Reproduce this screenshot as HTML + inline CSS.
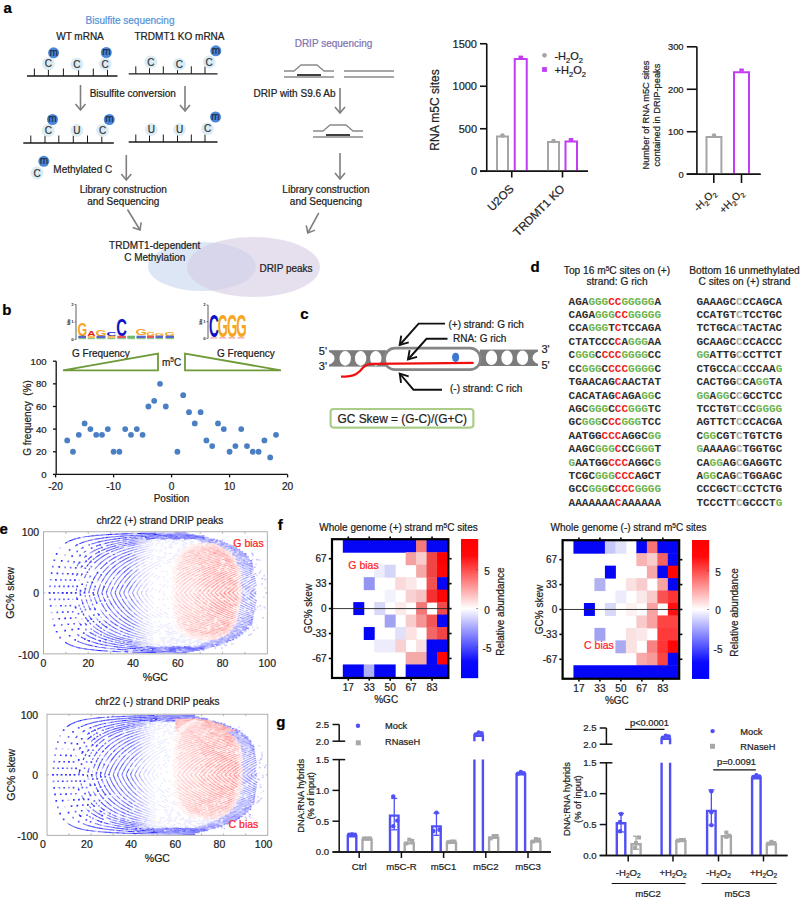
<!DOCTYPE html>
<html><head><meta charset="utf-8"><style>
html,body{margin:0;padding:0;background:#fff;width:800px;height:900px;overflow:hidden}
svg{display:block}

</style></head><body>
<svg width="800" height="900" viewBox="0 0 800 900">
<rect width="800" height="900" fill="#fff"/>
<text x="3.5" y="12.8" font-size="15" text-anchor="start" fill="#000" font-weight="bold" font-family='"Liberation Sans", sans-serif' stroke="#000" stroke-width="0.22" >a</text>
<text x="130" y="24.3" font-size="10" text-anchor="middle" fill="#5594d8" font-weight="normal" font-family='"Liberation Sans", sans-serif' stroke="#5594d8" stroke-width="0.22" >Bisulfite sequencing</text>
<text x="80" y="40" font-size="10" text-anchor="middle" fill="#222" font-weight="normal" font-family='"Liberation Sans", sans-serif' stroke="#222" stroke-width="0.22" >WT mRNA</text>
<text x="179.5" y="40" font-size="10" text-anchor="middle" fill="#222" font-weight="normal" font-family='"Liberation Sans", sans-serif' stroke="#222" stroke-width="0.22" >TRDMT1 KO mRNA</text>
<line x1="27" y1="76" x2="117.5" y2="76" stroke="#1a1a1a" stroke-width="1.3" />
<line x1="34.4" y1="76" x2="34.4" y2="68.5" stroke="#1a1a1a" stroke-width="1" />
<line x1="48.4" y1="76" x2="48.4" y2="68.5" stroke="#1a1a1a" stroke-width="1" />
<line x1="63.4" y1="76" x2="63.4" y2="68.5" stroke="#1a1a1a" stroke-width="1" />
<line x1="78.6" y1="76" x2="78.6" y2="68.5" stroke="#1a1a1a" stroke-width="1" />
<line x1="93.3" y1="76" x2="93.3" y2="68.5" stroke="#1a1a1a" stroke-width="1" />
<line x1="107.5" y1="76" x2="107.5" y2="68.5" stroke="#1a1a1a" stroke-width="1" />
<circle cx="48.4" cy="63.6" r="6.4" fill="#dbecf5" />
<text x="48.4" y="67.1" font-size="10" text-anchor="middle" fill="#333" font-weight="normal" font-family='"Liberation Sans", sans-serif' stroke="#333" stroke-width="0.22" >C</text>
<circle cx="76.9" cy="64.2" r="6.4" fill="#dbecf5" />
<text x="76.9" y="67.7" font-size="10" text-anchor="middle" fill="#333" font-weight="normal" font-family='"Liberation Sans", sans-serif' stroke="#333" stroke-width="0.22" >C</text>
<circle cx="105.2" cy="64" r="6.4" fill="#dbecf5" />
<text x="105.2" y="67.5" font-size="10" text-anchor="middle" fill="#333" font-weight="normal" font-family='"Liberation Sans", sans-serif' stroke="#333" stroke-width="0.22" >C</text>
<circle cx="53.6" cy="52.8" r="5.5" fill="#4a86d8" />
<text x="53.6" y="55.599999999999994" font-size="10" text-anchor="middle" fill="#1b2a45" font-weight="normal" font-family='"Liberation Sans", sans-serif' stroke="#1b2a45" stroke-width="0.22" >m</text>
<circle cx="106.3" cy="52.5" r="5.5" fill="#4a86d8" />
<text x="106.3" y="55.3" font-size="10" text-anchor="middle" fill="#1b2a45" font-weight="normal" font-family='"Liberation Sans", sans-serif' stroke="#1b2a45" stroke-width="0.22" >m</text>
<line x1="128.7" y1="73.8" x2="217.5" y2="73.8" stroke="#1a1a1a" stroke-width="1.3" />
<line x1="135.8" y1="73.8" x2="135.8" y2="66.3" stroke="#1a1a1a" stroke-width="1" />
<line x1="149.5" y1="73.8" x2="149.5" y2="66.3" stroke="#1a1a1a" stroke-width="1" />
<line x1="163.3" y1="73.8" x2="163.3" y2="66.3" stroke="#1a1a1a" stroke-width="1" />
<line x1="177.5" y1="73.8" x2="177.5" y2="66.3" stroke="#1a1a1a" stroke-width="1" />
<line x1="191.3" y1="73.8" x2="191.3" y2="66.3" stroke="#1a1a1a" stroke-width="1" />
<line x1="205" y1="73.8" x2="205" y2="66.3" stroke="#1a1a1a" stroke-width="1" />
<circle cx="150.8" cy="62" r="6.4" fill="#dbecf5" />
<text x="150.8" y="65.5" font-size="10" text-anchor="middle" fill="#333" font-weight="normal" font-family='"Liberation Sans", sans-serif' stroke="#333" stroke-width="0.22" >C</text>
<circle cx="179.3" cy="64.2" r="6.4" fill="#dbecf5" />
<text x="179.3" y="67.7" font-size="10" text-anchor="middle" fill="#333" font-weight="normal" font-family='"Liberation Sans", sans-serif' stroke="#333" stroke-width="0.22" >C</text>
<circle cx="209.2" cy="62" r="6.4" fill="#dbecf5" />
<text x="209.2" y="65.5" font-size="10" text-anchor="middle" fill="#333" font-weight="normal" font-family='"Liberation Sans", sans-serif' stroke="#333" stroke-width="0.22" >C</text>
<circle cx="215.8" cy="50.8" r="5.5" fill="#4a86d8" />
<text x="215.8" y="53.599999999999994" font-size="10" text-anchor="middle" fill="#1b2a45" font-weight="normal" font-family='"Liberation Sans", sans-serif' stroke="#1b2a45" stroke-width="0.22" >m</text>
<line x1="80.5" y1="85" x2="80.5" y2="110" stroke="#7f7f7f" stroke-width="1.6" />
<path d="M75.5,104 L80.5,110 L85.5,104" stroke="#7f7f7f" stroke-width="1.6" fill="none" stroke-linejoin="miter"/>
<line x1="185" y1="86" x2="185" y2="111" stroke="#7f7f7f" stroke-width="1.6" />
<path d="M180,105 L185,111 L190,105" stroke="#7f7f7f" stroke-width="1.6" fill="none" stroke-linejoin="miter"/>
<text x="132.75" y="97" font-size="10" text-anchor="middle" fill="#222" font-weight="normal" font-family='"Liberation Sans", sans-serif' stroke="#222" stroke-width="0.22" >Bisulfite conversion</text>
<line x1="23.3" y1="143" x2="113.8" y2="143" stroke="#1a1a1a" stroke-width="1.3" />
<line x1="30.8" y1="143" x2="30.8" y2="135.5" stroke="#1a1a1a" stroke-width="1" />
<line x1="45" y1="143" x2="45" y2="135.5" stroke="#1a1a1a" stroke-width="1" />
<line x1="58.8" y1="143" x2="58.8" y2="135.5" stroke="#1a1a1a" stroke-width="1" />
<line x1="73.3" y1="143" x2="73.3" y2="135.5" stroke="#1a1a1a" stroke-width="1" />
<line x1="87.5" y1="143" x2="87.5" y2="135.5" stroke="#1a1a1a" stroke-width="1" />
<line x1="101.8" y1="143" x2="101.8" y2="135.5" stroke="#1a1a1a" stroke-width="1" />
<circle cx="48.3" cy="130.5" r="6.4" fill="#dbecf5" />
<text x="48.3" y="134.0" font-size="10" text-anchor="middle" fill="#333" font-weight="normal" font-family='"Liberation Sans", sans-serif' stroke="#333" stroke-width="0.22" >C</text>
<circle cx="76.8" cy="130.5" r="6.4" fill="#dbecf5" />
<text x="76.8" y="134.0" font-size="10" text-anchor="middle" fill="#333" font-weight="normal" font-family='"Liberation Sans", sans-serif' stroke="#333" stroke-width="0.22" >U</text>
<circle cx="102.5" cy="130.5" r="6.4" fill="#dbecf5" />
<text x="102.5" y="134.0" font-size="10" text-anchor="middle" fill="#333" font-weight="normal" font-family='"Liberation Sans", sans-serif' stroke="#333" stroke-width="0.22" >C</text>
<circle cx="52.5" cy="119.5" r="5.5" fill="#4a86d8" />
<text x="52.5" y="122.3" font-size="10" text-anchor="middle" fill="#1b2a45" font-weight="normal" font-family='"Liberation Sans", sans-serif' stroke="#1b2a45" stroke-width="0.22" >m</text>
<circle cx="109.3" cy="119.5" r="5.5" fill="#4a86d8" />
<text x="109.3" y="122.3" font-size="10" text-anchor="middle" fill="#1b2a45" font-weight="normal" font-family='"Liberation Sans", sans-serif' stroke="#1b2a45" stroke-width="0.22" >m</text>
<line x1="128.7" y1="142" x2="217.5" y2="142" stroke="#1a1a1a" stroke-width="1.3" />
<line x1="135.8" y1="142" x2="135.8" y2="134.5" stroke="#1a1a1a" stroke-width="1" />
<line x1="149.5" y1="142" x2="149.5" y2="134.5" stroke="#1a1a1a" stroke-width="1" />
<line x1="163.3" y1="142" x2="163.3" y2="134.5" stroke="#1a1a1a" stroke-width="1" />
<line x1="177.5" y1="142" x2="177.5" y2="134.5" stroke="#1a1a1a" stroke-width="1" />
<line x1="191.3" y1="142" x2="191.3" y2="134.5" stroke="#1a1a1a" stroke-width="1" />
<line x1="205" y1="142" x2="205" y2="134.5" stroke="#1a1a1a" stroke-width="1" />
<circle cx="151.3" cy="129.5" r="6.4" fill="#dbecf5" />
<text x="151.3" y="133.0" font-size="10" text-anchor="middle" fill="#333" font-weight="normal" font-family='"Liberation Sans", sans-serif' stroke="#333" stroke-width="0.22" >U</text>
<circle cx="179.5" cy="129.5" r="6.4" fill="#dbecf5" />
<text x="179.5" y="133.0" font-size="10" text-anchor="middle" fill="#333" font-weight="normal" font-family='"Liberation Sans", sans-serif' stroke="#333" stroke-width="0.22" >U</text>
<circle cx="207.5" cy="128.8" r="6.4" fill="#dbecf5" />
<text x="207.5" y="132.3" font-size="10" text-anchor="middle" fill="#333" font-weight="normal" font-family='"Liberation Sans", sans-serif' stroke="#333" stroke-width="0.22" >C</text>
<circle cx="215.5" cy="117" r="5.5" fill="#4a86d8" />
<text x="215.5" y="119.8" font-size="10" text-anchor="middle" fill="#1b2a45" font-weight="normal" font-family='"Liberation Sans", sans-serif' stroke="#1b2a45" stroke-width="0.22" >m</text>
<circle cx="37" cy="173" r="6.4" fill="#dbecf5" />
<text x="37" y="176.5" font-size="10" text-anchor="middle" fill="#333" font-weight="normal" font-family='"Liberation Sans", sans-serif' stroke="#333" stroke-width="0.22" >C</text>
<circle cx="43.8" cy="161.3" r="5.5" fill="#4a86d8" />
<text x="43.8" y="164.10000000000002" font-size="10" text-anchor="middle" fill="#1b2a45" font-weight="normal" font-family='"Liberation Sans", sans-serif' stroke="#1b2a45" stroke-width="0.22" >m</text>
<text x="53.3" y="173" font-size="10" text-anchor="start" fill="#222" font-weight="normal" font-family='"Liberation Sans", sans-serif' stroke="#222" stroke-width="0.22" >Methylated C</text>
<line x1="126.3" y1="155" x2="126.3" y2="180" stroke="#7f7f7f" stroke-width="1.6" />
<path d="M121.3,174 L126.3,180 L131.3,174" stroke="#7f7f7f" stroke-width="1.6" fill="none" stroke-linejoin="miter"/>
<text x="123.3" y="192.5" font-size="10" text-anchor="middle" fill="#222" font-weight="normal" font-family='"Liberation Sans", sans-serif' stroke="#222" stroke-width="0.22" >Library construction</text>
<text x="123.3" y="204.5" font-size="10" text-anchor="middle" fill="#222" font-weight="normal" font-family='"Liberation Sans", sans-serif' stroke="#222" stroke-width="0.22" >and Sequencing</text>
<line x1="127.5" y1="209.5" x2="140" y2="230" stroke="#7f7f7f" stroke-width="1.6" />
<path d="M132.61,227.48 L140,230 L141.15,222.27" stroke="#7f7f7f" stroke-width="1.6" fill="none" />
<ellipse cx="202" cy="266.5" rx="54" ry="24.5" fill="#c9d8ee" fill-opacity="0.65"/>
<ellipse cx="253.5" cy="267" rx="66.5" ry="30" fill="#d6cbe2" fill-opacity="0.6"/>
<text x="154.7" y="249.3" font-size="10" text-anchor="middle" fill="#222" font-weight="normal" font-family='"Liberation Sans", sans-serif' stroke="#222" stroke-width="0.22" >TRDMT1-dependent</text>
<text x="154.7" y="260.5" font-size="10" text-anchor="middle" fill="#222" font-weight="normal" font-family='"Liberation Sans", sans-serif' stroke="#222" stroke-width="0.22" >C Methylation</text>
<text x="286" y="272" font-size="10" text-anchor="middle" fill="#222" font-weight="normal" font-family='"Liberation Sans", sans-serif' stroke="#222" stroke-width="0.22" >DRIP peaks</text>
<text x="333.5" y="46.5" font-size="10" text-anchor="middle" fill="#8174b0" font-weight="normal" font-family='"Liberation Sans", sans-serif' stroke="#8174b0" stroke-width="0.22" >DRIP sequencing</text>
<line x1="284" y1="77" x2="334" y2="77" stroke="#8a8a8a" stroke-width="1.3" />
<path d="M284,71 L294,71 L301,65 L317,65 L324,71 L334,71" stroke="#8a8a8a" stroke-width="1.3" fill="none" />
<line x1="297" y1="75" x2="321" y2="75" stroke="#111" stroke-width="1.6" />
<line x1="344" y1="71" x2="394" y2="71" stroke="#8a8a8a" stroke-width="1.3" />
<line x1="344" y1="77" x2="394" y2="77" stroke="#8a8a8a" stroke-width="1.3" />
<text x="335.5" y="97" font-size="10" text-anchor="end" fill="#222" font-weight="normal" font-family='"Liberation Sans", sans-serif' stroke="#222" stroke-width="0.22" >DRIP with S9.6 Ab</text>
<line x1="340" y1="88" x2="340" y2="113" stroke="#7f7f7f" stroke-width="1.6" />
<path d="M335,107 L340,113 L345,107" stroke="#7f7f7f" stroke-width="1.6" fill="none" stroke-linejoin="miter"/>
<line x1="313" y1="137" x2="363" y2="137" stroke="#8a8a8a" stroke-width="1.3" />
<path d="M313,131 L323,131 L330,125 L346,125 L353,131 L363,131" stroke="#8a8a8a" stroke-width="1.3" fill="none" />
<line x1="326" y1="135" x2="350" y2="135" stroke="#111" stroke-width="1.6" />
<line x1="340" y1="153" x2="340" y2="179" stroke="#7f7f7f" stroke-width="1.6" />
<path d="M335,173 L340,179 L345,173" stroke="#7f7f7f" stroke-width="1.6" fill="none" stroke-linejoin="miter"/>
<text x="326" y="192.5" font-size="10" text-anchor="middle" fill="#222" font-weight="normal" font-family='"Liberation Sans", sans-serif' stroke="#222" stroke-width="0.22" >Library construction</text>
<text x="326" y="204.5" font-size="10" text-anchor="middle" fill="#222" font-weight="normal" font-family='"Liberation Sans", sans-serif' stroke="#222" stroke-width="0.22" >and Sequencing</text>
<line x1="318.8" y1="212.8" x2="307.8" y2="233" stroke="#7f7f7f" stroke-width="1.6" />
<path d="M306.28,225.34 L307.8,233 L315.06,230.12" stroke="#7f7f7f" stroke-width="1.6" fill="none" />
<line x1="486.75" y1="43.75" x2="486.75" y2="171.25" stroke="#111" stroke-width="1.6" />
<line x1="480" y1="171.25" x2="588" y2="171.25" stroke="#111" stroke-width="1.6" />
<line x1="480" y1="171.25" x2="486.75" y2="171.25" stroke="#111" stroke-width="1.6" />
<text x="477" y="175.25" font-size="11" text-anchor="end" fill="#222" font-weight="normal" font-family='"Liberation Sans", sans-serif' stroke="#222" stroke-width="0.22" >0</text>
<line x1="480" y1="128.75" x2="486.75" y2="128.75" stroke="#111" stroke-width="1.6" />
<text x="477" y="132.75" font-size="11" text-anchor="end" fill="#222" font-weight="normal" font-family='"Liberation Sans", sans-serif' stroke="#222" stroke-width="0.22" >500</text>
<line x1="480" y1="86.25" x2="486.75" y2="86.25" stroke="#111" stroke-width="1.6" />
<text x="477" y="90.25" font-size="11" text-anchor="end" fill="#222" font-weight="normal" font-family='"Liberation Sans", sans-serif' stroke="#222" stroke-width="0.22" >1000</text>
<line x1="480" y1="43.75" x2="486.75" y2="43.75" stroke="#111" stroke-width="1.6" />
<text x="477" y="47.75" font-size="11" text-anchor="end" fill="#222" font-weight="normal" font-family='"Liberation Sans", sans-serif' stroke="#222" stroke-width="0.22" >1500</text>
<line x1="511.75" y1="171.25" x2="511.75" y2="177.5" stroke="#111" stroke-width="1.6" />
<line x1="562.5" y1="171.25" x2="562.5" y2="177.5" stroke="#111" stroke-width="1.6" />
<path d="M497.0,171.25 L497.0,136.5 L508.0,136.5 L508.0,171.25" stroke="#a5a5a5" stroke-width="2" fill="none" stroke-linejoin="miter"/>
<path d="M514.75,171.25 L514.75,58.9 L526.75,58.9 L526.75,171.25" stroke="#c13cf2" stroke-width="2" fill="none" stroke-linejoin="miter"/>
<path d="M548.0,171.25 L548.0,142.0 L559.0,142.0 L559.0,171.25" stroke="#a5a5a5" stroke-width="2" fill="none" stroke-linejoin="miter"/>
<path d="M565.5,171.25 L565.5,141.5 L577.0,141.5 L577.0,171.25" stroke="#c13cf2" stroke-width="2" fill="none" stroke-linejoin="miter"/>
<circle cx="502.5" cy="135.5" r="2.3" fill="#a5a5a5" />
<rect x="518.5" y="55.6" width="4.5" height="2.5" fill="#c13cf2" stroke="none" stroke-width="1" />
<circle cx="553.5" cy="141" r="2.3" fill="#a5a5a5" />
<rect x="568.8" y="138" width="4.5" height="3" fill="#c13cf2" stroke="none" stroke-width="1" />
<line x1="480" y1="171.25" x2="588" y2="171.25" stroke="#111" stroke-width="1.6" />
<text x="438.5" y="110" font-size="12" text-anchor="middle" fill="#222" font-weight="normal" font-family='"Liberation Sans", sans-serif' transform="rotate(-90 438.5 110)" stroke="#222" stroke-width="0.22" >RNA m5C sites</text>
<circle cx="544.5" cy="55.35" r="2.3" fill="#a5a5a5" />
<rect x="542.1" y="67.1" width="4.8" height="4.8" fill="#c13cf2" stroke="none" stroke-width="1" />
<text x="554.4" y="59.6" font-size="11" text-anchor="start" fill="#222" font-weight="normal" font-family='"Liberation Sans", sans-serif' stroke="#222" stroke-width="0.22" >-H<tspan font-size="7.5" dy="3.1">2</tspan><tspan dy="-3.1">O</tspan><tspan font-size="7.5" dy="3.1">2</tspan></text>
<text x="554.6" y="73.9" font-size="11" text-anchor="start" fill="#222" font-weight="normal" font-family='"Liberation Sans", sans-serif' stroke="#222" stroke-width="0.22" >+H<tspan font-size="7.5" dy="3.1">2</tspan><tspan dy="-3.1">O</tspan><tspan font-size="7.5" dy="3.1">2</tspan></text>
<text x="514.5" y="189.5" font-size="11.6" text-anchor="end" fill="#222" font-weight="normal" font-family='"Liberation Sans", sans-serif' transform="rotate(-45 514.5 189.5)" stroke="#222" stroke-width="0.22" >U2OS</text>
<text x="565.5" y="189.5" font-size="11.6" text-anchor="end" fill="#222" font-weight="normal" font-family='"Liberation Sans", sans-serif' transform="rotate(-45 565.5 189.5)" stroke="#222" stroke-width="0.22" >TRDMT1 KO</text>
<line x1="696.9" y1="46.8" x2="696.9" y2="174.2" stroke="#111" stroke-width="1.6" />
<line x1="686.8" y1="174.2" x2="760.6" y2="174.2" stroke="#111" stroke-width="1.6" />
<line x1="686.8" y1="174.2" x2="696.9" y2="174.2" stroke="#111" stroke-width="1.6" />
<text x="683.6" y="177.6" font-size="9.4" text-anchor="end" fill="#222" font-weight="normal" font-family='"Liberation Sans", sans-serif' stroke="#222" stroke-width="0.22" >0</text>
<line x1="686.8" y1="131.73333333333332" x2="696.9" y2="131.73333333333332" stroke="#111" stroke-width="1.6" />
<text x="683.6" y="135.13333333333333" font-size="9.4" text-anchor="end" fill="#222" font-weight="normal" font-family='"Liberation Sans", sans-serif' stroke="#222" stroke-width="0.22" >100</text>
<line x1="686.8" y1="89.26666666666665" x2="696.9" y2="89.26666666666665" stroke="#111" stroke-width="1.6" />
<text x="683.6" y="92.66666666666666" font-size="9.4" text-anchor="end" fill="#222" font-weight="normal" font-family='"Liberation Sans", sans-serif' stroke="#222" stroke-width="0.22" >200</text>
<line x1="686.8" y1="46.79999999999998" x2="696.9" y2="46.79999999999998" stroke="#111" stroke-width="1.6" />
<text x="683.6" y="50.19999999999998" font-size="9.4" text-anchor="end" fill="#222" font-weight="normal" font-family='"Liberation Sans", sans-serif' stroke="#222" stroke-width="0.22" >300</text>
<line x1="713.8" y1="174.2" x2="713.8" y2="183" stroke="#111" stroke-width="1.6" />
<line x1="741.5" y1="174.2" x2="741.5" y2="183" stroke="#111" stroke-width="1.6" />
<path d="M706.5,174.2 L706.5,137.0 L721.4,137.0 L721.4,174.2" stroke="#a5a5a5" stroke-width="2" fill="none" stroke-linejoin="miter"/>
<path d="M734.0,174.2 L734.0,72.3 L749.0,72.3 L749.0,174.2" stroke="#c13cf2" stroke-width="2" fill="none" stroke-linejoin="miter"/>
<circle cx="714" cy="135.5" r="2.2" fill="#a5a5a5" />
<rect x="739.3" y="68.5" width="4.5" height="3" fill="#c13cf2" stroke="none" stroke-width="1" />
<line x1="686.8" y1="174.2" x2="760.6" y2="174.2" stroke="#111" stroke-width="1.6" />
<text x="648.7" y="115" font-size="9.3" text-anchor="middle" fill="#222" font-weight="normal" font-family='"Liberation Sans", sans-serif' transform="rotate(-90 648.7 115)" stroke="#222" stroke-width="0.22" >Number of RNA m5C sites</text>
<text x="659.5" y="115" font-size="9.3" text-anchor="middle" fill="#222" font-weight="normal" font-family='"Liberation Sans", sans-serif' transform="rotate(-90 659.5 115)" stroke="#222" stroke-width="0.22" >contained in DRIP-peaks</text>
<text x="716.3" y="193.5" font-size="10.2" text-anchor="end" fill="#222" font-weight="normal" font-family='"Liberation Sans", sans-serif' transform="rotate(-45 716.3 193.5)" stroke="#222" stroke-width="0.22" >-H<tspan font-size="6.9" dy="2.9">2</tspan><tspan dy="-2.9">O</tspan><tspan font-size="6.9" dy="2.9">2</tspan></text>
<text x="744" y="193.5" font-size="10.2" text-anchor="end" fill="#222" font-weight="normal" font-family='"Liberation Sans", sans-serif' transform="rotate(-45 744 193.5)" stroke="#222" stroke-width="0.22" >+H<tspan font-size="6.9" dy="2.9">2</tspan><tspan dy="-2.9">O</tspan><tspan font-size="6.9" dy="2.9">2</tspan></text>
<text x="2.2" y="315" font-size="15" text-anchor="start" fill="#000" font-weight="bold" font-family='"Liberation Sans", sans-serif' stroke="#000" stroke-width="0.22" >b</text>
<line x1="76" y1="304.5" x2="76" y2="339.5" stroke="#333" stroke-width="0.8" />
<line x1="74.5" y1="304.5" x2="76" y2="304.5" stroke="#333" stroke-width="0.6" />
<text x="73.5" y="305.7" font-size="3.5" text-anchor="end" fill="#333" font-weight="normal" font-family='"Liberation Sans", sans-serif' stroke="#333" stroke-width="0.22" >2</text>
<line x1="74.5" y1="322" x2="76" y2="322" stroke="#333" stroke-width="0.6" />
<text x="73.5" y="323.2" font-size="3.5" text-anchor="end" fill="#333" font-weight="normal" font-family='"Liberation Sans", sans-serif' stroke="#333" stroke-width="0.22" >1</text>
<line x1="74.5" y1="339.5" x2="76" y2="339.5" stroke="#333" stroke-width="0.6" />
<text x="73.5" y="340.7" font-size="3.5" text-anchor="end" fill="#333" font-weight="normal" font-family='"Liberation Sans", sans-serif' stroke="#333" stroke-width="0.22" >0</text>
<text x="70" y="322" font-size="3.5" text-anchor="middle" fill="#333" font-weight="normal" font-family='"Liberation Sans", sans-serif' transform="rotate(-90 70 322)" stroke="#333" stroke-width="0.22" >bits</text>
<text transform="translate(77.80 335.50) scale(0.1243 0.1824)" x="-3" y="0" font-size="100" font-weight="bold" font-family='"Liberation Sans", sans-serif' fill="#f5a623">G</text>
<text transform="translate(87.20 335.50) scale(0.1139 0.0694)" x="0" y="0" font-size="100" font-weight="bold" font-family='"Liberation Sans", sans-serif' fill="#e02020">A</text>
<text transform="translate(96.00 335.50) scale(0.1429 0.0946)" x="-3" y="0" font-size="100" font-weight="bold" font-family='"Liberation Sans", sans-serif' fill="#f5a623">G</text>
<text transform="translate(106.90 335.50) scale(0.1369 0.0608)" x="-3" y="0" font-size="100" font-weight="bold" font-family='"Liberation Sans", sans-serif' fill="#1010c8">C</text>
<text transform="translate(116.80 335.50) scale(0.1477 0.2378)" x="-3" y="0" font-size="100" font-weight="bold" font-family='"Liberation Sans", sans-serif' fill="#1010c8">C</text>
<text transform="translate(136.00 335.30) scale(0.1457 0.0959)" x="-3" y="0" font-size="100" font-weight="bold" font-family='"Liberation Sans", sans-serif' fill="#f5a623">G</text>
<text transform="translate(146.50 335.50) scale(0.1143 0.0473)" x="-3" y="0" font-size="100" font-weight="bold" font-family='"Liberation Sans", sans-serif' fill="#f5a623">G</text>
<text transform="translate(155.00 335.50) scale(0.1214 0.0405)" x="-3" y="0" font-size="100" font-weight="bold" font-family='"Liberation Sans", sans-serif' fill="#f5a623">G</text>
<text transform="translate(165.00 335.50) scale(0.1357 0.0541)" x="-3" y="0" font-size="100" font-weight="bold" font-family='"Liberation Sans", sans-serif' fill="#f5a623">G</text>
<rect x="78.3" y="335.7" width="7.700000000000003" height="2.3" fill="#2030c0" stroke="none" stroke-width="1" opacity="0.75"/>
<rect x="78.3" y="338" width="7.700000000000003" height="1.2" fill="#40a040" stroke="none" stroke-width="1" opacity="0.6"/>
<rect x="87.7" y="335.7" width="7.200000000000003" height="2.3" fill="#f5a623" stroke="none" stroke-width="1" opacity="0.75"/>
<rect x="87.7" y="338" width="7.200000000000003" height="1.2" fill="#40a040" stroke="none" stroke-width="1" opacity="0.6"/>
<rect x="96.5" y="335.7" width="9" height="2.3" fill="#2030c0" stroke="none" stroke-width="1" opacity="0.75"/>
<rect x="96.5" y="338" width="9" height="1.2" fill="#40a040" stroke="none" stroke-width="1" opacity="0.6"/>
<rect x="107.4" y="335.7" width="7.8999999999999915" height="2.3" fill="#f5a623" stroke="none" stroke-width="1" opacity="0.75"/>
<rect x="107.4" y="338" width="7.8999999999999915" height="1.2" fill="#40a040" stroke="none" stroke-width="1" opacity="0.6"/>
<rect x="117.3" y="335.7" width="8.600000000000009" height="2.3" fill="#e02020" stroke="none" stroke-width="1" opacity="0.75"/>
<rect x="117.3" y="338" width="8.600000000000009" height="1.2" fill="#40a040" stroke="none" stroke-width="1" opacity="0.6"/>
<rect x="127.3" y="335.7" width="7.700000000000003" height="2.3" fill="#40a040" stroke="none" stroke-width="1" opacity="0.75"/>
<rect x="127.3" y="338" width="7.700000000000003" height="1.2" fill="#40a040" stroke="none" stroke-width="1" opacity="0.6"/>
<rect x="136.5" y="335.7" width="9.199999999999989" height="2.3" fill="#2030c0" stroke="none" stroke-width="1" opacity="0.75"/>
<rect x="136.5" y="338" width="9.199999999999989" height="1.2" fill="#40a040" stroke="none" stroke-width="1" opacity="0.6"/>
<rect x="147.0" y="335.7" width="7.0" height="2.3" fill="#e02020" stroke="none" stroke-width="1" opacity="0.75"/>
<rect x="147.0" y="338" width="7.0" height="1.2" fill="#40a040" stroke="none" stroke-width="1" opacity="0.6"/>
<rect x="155.5" y="335.7" width="7.5" height="2.3" fill="#2030c0" stroke="none" stroke-width="1" opacity="0.75"/>
<rect x="155.5" y="338" width="7.5" height="1.2" fill="#40a040" stroke="none" stroke-width="1" opacity="0.6"/>
<rect x="165.5" y="335.7" width="8.5" height="2.3" fill="#2030c0" stroke="none" stroke-width="1" opacity="0.75"/>
<rect x="165.5" y="338" width="8.5" height="1.2" fill="#40a040" stroke="none" stroke-width="1" opacity="0.6"/>
<line x1="208" y1="305" x2="208" y2="338.5" stroke="#333" stroke-width="0.8" />
<line x1="206.5" y1="305" x2="208" y2="305" stroke="#333" stroke-width="0.6" />
<text x="205.5" y="306.2" font-size="3.5" text-anchor="end" fill="#333" font-weight="normal" font-family='"Liberation Sans", sans-serif' stroke="#333" stroke-width="0.22" >2</text>
<line x1="206.5" y1="321.7" x2="208" y2="321.7" stroke="#333" stroke-width="0.6" />
<text x="205.5" y="322.9" font-size="3.5" text-anchor="end" fill="#333" font-weight="normal" font-family='"Liberation Sans", sans-serif' stroke="#333" stroke-width="0.22" >1</text>
<line x1="206.5" y1="338.5" x2="208" y2="338.5" stroke="#333" stroke-width="0.6" />
<text x="205.5" y="339.7" font-size="3.5" text-anchor="end" fill="#333" font-weight="normal" font-family='"Liberation Sans", sans-serif' stroke="#333" stroke-width="0.22" >0</text>
<text x="202" y="321.7" font-size="3.5" text-anchor="middle" fill="#333" font-weight="normal" font-family='"Liberation Sans", sans-serif' transform="rotate(-90 202 321.7)" stroke="#333" stroke-width="0.22" >bits</text>
<text transform="translate(209.40 337.00) scale(0.1354 0.3135)" x="-3" y="0" font-size="100" font-weight="bold" font-family='"Liberation Sans", sans-serif' fill="#1010c8">C</text>
<text transform="translate(218.20 337.00) scale(0.1300 0.3135)" x="-3" y="0" font-size="100" font-weight="bold" font-family='"Liberation Sans", sans-serif' fill="#f5a623">G</text>
<text transform="translate(227.30 337.00) scale(0.1329 0.3135)" x="-3" y="0" font-size="100" font-weight="bold" font-family='"Liberation Sans", sans-serif' fill="#f5a623">G</text>
<text transform="translate(236.60 337.00) scale(0.1343 0.3135)" x="-3" y="0" font-size="100" font-weight="bold" font-family='"Liberation Sans", sans-serif' fill="#f5a623">G</text>
<rect x="210.4" y="337.2" width="7" height="1.3" fill="#e07070" stroke="none" stroke-width="1" opacity="0.6"/>
<rect x="219.2" y="337.2" width="7" height="1.3" fill="#e07070" stroke="none" stroke-width="1" opacity="0.6"/>
<rect x="228.3" y="337.2" width="7" height="1.3" fill="#e07070" stroke="none" stroke-width="1" opacity="0.6"/>
<rect x="237.6" y="337.2" width="7" height="1.3" fill="#e07070" stroke="none" stroke-width="1" opacity="0.6"/>
<text x="72" y="356.5" font-size="10" text-anchor="start" fill="#222" font-weight="normal" font-family='"Liberation Sans", sans-serif' stroke="#222" stroke-width="0.22" >G Frequency</text>
<text x="217" y="356.5" font-size="10" text-anchor="start" fill="#222" font-weight="normal" font-family='"Liberation Sans", sans-serif' stroke="#222" stroke-width="0.22" >G Frequency</text>
<path d="M63,370.4 L158,353.6 L158,370.4 Z" stroke="#6f9a3a" stroke-width="1.8" fill="none" stroke-linejoin="miter"/>
<path d="M185,353.6 L185,370.4 L281,370.4 Z" stroke="#6f9a3a" stroke-width="1.8" fill="none" stroke-linejoin="miter"/>
<text x="162" y="365.5" font-size="10" text-anchor="start" fill="#222" font-weight="normal" font-family='"Liberation Sans", sans-serif' stroke="#222" stroke-width="0.22" >m<tspan font-size="6.5" dy="-3.5">5</tspan><tspan dy="3.5">C</tspan></text>
<line x1="56.2" y1="361.2" x2="56.2" y2="474.4" stroke="#111" stroke-width="1.3" />
<line x1="56.2" y1="474.4" x2="287.6" y2="474.4" stroke="#111" stroke-width="1.3" />
<line x1="53" y1="474.4" x2="56.2" y2="474.4" stroke="#111" stroke-width="1.3" />
<text x="46.6" y="477.9" font-size="9.6" text-anchor="end" fill="#222" font-weight="normal" font-family='"Liberation Sans", sans-serif' stroke="#222" stroke-width="0.22" >0</text>
<line x1="53" y1="451.76" x2="56.2" y2="451.76" stroke="#111" stroke-width="1.3" />
<text x="46.6" y="455.26" font-size="9.6" text-anchor="end" fill="#222" font-weight="normal" font-family='"Liberation Sans", sans-serif' stroke="#222" stroke-width="0.22" >20</text>
<line x1="53" y1="429.12" x2="56.2" y2="429.12" stroke="#111" stroke-width="1.3" />
<text x="46.6" y="432.62" font-size="9.6" text-anchor="end" fill="#222" font-weight="normal" font-family='"Liberation Sans", sans-serif' stroke="#222" stroke-width="0.22" >40</text>
<line x1="53" y1="406.48" x2="56.2" y2="406.48" stroke="#111" stroke-width="1.3" />
<text x="46.6" y="409.98" font-size="9.6" text-anchor="end" fill="#222" font-weight="normal" font-family='"Liberation Sans", sans-serif' stroke="#222" stroke-width="0.22" >60</text>
<line x1="53" y1="383.84" x2="56.2" y2="383.84" stroke="#111" stroke-width="1.3" />
<text x="46.6" y="387.34" font-size="9.6" text-anchor="end" fill="#222" font-weight="normal" font-family='"Liberation Sans", sans-serif' stroke="#222" stroke-width="0.22" >80</text>
<line x1="53" y1="361.2" x2="56.2" y2="361.2" stroke="#111" stroke-width="1.3" />
<text x="46.6" y="364.7" font-size="9.6" text-anchor="end" fill="#222" font-weight="normal" font-family='"Liberation Sans", sans-serif' stroke="#222" stroke-width="0.22" >100</text>
<line x1="55.6" y1="474.4" x2="55.6" y2="477.4" stroke="#111" stroke-width="1.3" />
<text x="55.6" y="490" font-size="10.2" text-anchor="middle" fill="#222" font-weight="normal" font-family='"Liberation Sans", sans-serif' stroke="#222" stroke-width="0.22" >-20</text>
<line x1="113.6" y1="474.4" x2="113.6" y2="477.4" stroke="#111" stroke-width="1.3" />
<text x="113.6" y="490" font-size="10.2" text-anchor="middle" fill="#222" font-weight="normal" font-family='"Liberation Sans", sans-serif' stroke="#222" stroke-width="0.22" >-10</text>
<line x1="171.6" y1="474.4" x2="171.6" y2="477.4" stroke="#111" stroke-width="1.3" />
<text x="171.6" y="490" font-size="10.2" text-anchor="middle" fill="#222" font-weight="normal" font-family='"Liberation Sans", sans-serif' stroke="#222" stroke-width="0.22" >0</text>
<line x1="229.6" y1="474.4" x2="229.6" y2="477.4" stroke="#111" stroke-width="1.3" />
<text x="229.6" y="490" font-size="10.2" text-anchor="middle" fill="#222" font-weight="normal" font-family='"Liberation Sans", sans-serif' stroke="#222" stroke-width="0.22" >10</text>
<line x1="287.6" y1="474.4" x2="287.6" y2="477.4" stroke="#111" stroke-width="1.3" />
<text x="287.6" y="490" font-size="10.2" text-anchor="middle" fill="#222" font-weight="normal" font-family='"Liberation Sans", sans-serif' stroke="#222" stroke-width="0.22" >20</text>
<text x="171.5" y="502" font-size="10" text-anchor="middle" fill="#222" font-weight="normal" font-family='"Liberation Sans", sans-serif' stroke="#222" stroke-width="0.22" >Position</text>
<text x="30.5" y="418" font-size="10" text-anchor="middle" fill="#222" font-weight="normal" font-family='"Liberation Sans", sans-serif' transform="rotate(-90 30.5 418)" stroke="#222" stroke-width="0.22" >G frequency&#160;&#160;(%)</text>
<circle cx="67.2" cy="440.44" r="2.9" fill="#4a7fc4" />
<circle cx="73.0" cy="451.76" r="2.9" fill="#4a7fc4" />
<circle cx="78.8" cy="434.78" r="2.9" fill="#4a7fc4" />
<circle cx="84.6" cy="423.46" r="2.9" fill="#4a7fc4" />
<circle cx="90.4" cy="429.12" r="2.9" fill="#4a7fc4" />
<circle cx="96.2" cy="434.78" r="2.9" fill="#4a7fc4" />
<circle cx="102.0" cy="434.78" r="2.9" fill="#4a7fc4" />
<circle cx="107.8" cy="429.12" r="2.9" fill="#4a7fc4" />
<circle cx="113.6" cy="451.76" r="2.9" fill="#4a7fc4" />
<circle cx="119.4" cy="451.76" r="2.9" fill="#4a7fc4" />
<circle cx="125.2" cy="429.12" r="2.9" fill="#4a7fc4" />
<circle cx="131.0" cy="434.78" r="2.9" fill="#4a7fc4" />
<circle cx="136.8" cy="429.12" r="2.9" fill="#4a7fc4" />
<circle cx="142.6" cy="434.78" r="2.9" fill="#4a7fc4" />
<circle cx="148.4" cy="406.48" r="2.9" fill="#4a7fc4" />
<circle cx="154.2" cy="400.82" r="2.9" fill="#4a7fc4" />
<circle cx="160.0" cy="383.84" r="2.9" fill="#4a7fc4" />
<circle cx="165.8" cy="406.48" r="2.9" fill="#4a7fc4" />
<circle cx="177.4" cy="451.76" r="2.9" fill="#4a7fc4" />
<circle cx="183.2" cy="395.16" r="2.9" fill="#4a7fc4" />
<circle cx="189.0" cy="412.14" r="2.9" fill="#4a7fc4" />
<circle cx="194.8" cy="423.46" r="2.9" fill="#4a7fc4" />
<circle cx="200.6" cy="412.14" r="2.9" fill="#4a7fc4" />
<circle cx="206.4" cy="440.44" r="2.9" fill="#4a7fc4" />
<circle cx="212.2" cy="446.1" r="2.9" fill="#4a7fc4" />
<circle cx="218.0" cy="423.46" r="2.9" fill="#4a7fc4" />
<circle cx="223.8" cy="429.12" r="2.9" fill="#4a7fc4" />
<circle cx="229.6" cy="451.76" r="2.9" fill="#4a7fc4" />
<circle cx="235.4" cy="446.1" r="2.9" fill="#4a7fc4" />
<circle cx="241.2" cy="429.12" r="2.9" fill="#4a7fc4" />
<circle cx="247.0" cy="446.1" r="2.9" fill="#4a7fc4" />
<circle cx="252.8" cy="451.76" r="2.9" fill="#4a7fc4" />
<circle cx="258.6" cy="451.76" r="2.9" fill="#4a7fc4" />
<circle cx="264.4" cy="440.44" r="2.9" fill="#4a7fc4" />
<circle cx="270.2" cy="457.42" r="2.9" fill="#4a7fc4" />
<circle cx="276.0" cy="434.78" r="2.9" fill="#4a7fc4" />
<text x="300.2" y="318.7" font-size="15" text-anchor="start" fill="#000" font-weight="bold" font-family='"Liberation Sans", sans-serif' stroke="#000" stroke-width="0.22" >c</text>
<rect x="329" y="350.2" width="57" height="16.400000000000034" fill="#7c7c7c" stroke="none" stroke-width="1" />
<ellipse cx="345.2" cy="358.4" rx="5.7" ry="7.3" fill="#fff"/>
<ellipse cx="360.6" cy="358.4" rx="5.7" ry="7.3" fill="#fff"/>
<ellipse cx="375.8" cy="358.4" rx="5.7" ry="7.3" fill="#fff"/>
<ellipse cx="325.5" cy="358.4" rx="9" ry="6.8" fill="#fff"/>
<rect x="480" y="349.6" width="58" height="16.399999999999977" fill="#7c7c7c" stroke="none" stroke-width="1" />
<ellipse cx="491.5" cy="357.8" rx="5.7" ry="7.3" fill="#fff"/>
<ellipse cx="507.0" cy="357.8" rx="5.7" ry="7.3" fill="#fff"/>
<ellipse cx="522.5" cy="357.8" rx="5.7" ry="7.3" fill="#fff"/>
<ellipse cx="541.5" cy="357.8" rx="9" ry="6.8" fill="#fff"/>
<rect x="384.5" y="348.2" width="96" height="21.5" rx="10.5" ry="10.5" fill="#fff" stroke="#858585" stroke-width="2.8"/>
<path d="M341,376.6 C352,376.6 356,375 360,371 C364,366 366,364.2 372,363.8 L473.6,362.9" stroke="#f01010" stroke-width="2.3" fill="none" />
<ellipse cx="455.6" cy="357.3" rx="3.5" ry="4.6" fill="#3b78d0"/>
<text x="327" y="355" font-size="11" text-anchor="end" fill="#222" font-weight="normal" font-family='"Liberation Sans", sans-serif' stroke="#222" stroke-width="0.22" >5'</text>
<text x="327" y="369.5" font-size="11" text-anchor="end" fill="#222" font-weight="normal" font-family='"Liberation Sans", sans-serif' stroke="#222" stroke-width="0.22" >3'</text>
<text x="541.5" y="353" font-size="11" text-anchor="start" fill="#222" font-weight="normal" font-family='"Liberation Sans", sans-serif' stroke="#222" stroke-width="0.22" >3'</text>
<text x="541.5" y="368.5" font-size="11" text-anchor="start" fill="#222" font-weight="normal" font-family='"Liberation Sans", sans-serif' stroke="#222" stroke-width="0.22" >5'</text>
<path d="M445,323.6 L418.6,323.6 L399.7,345" stroke="#111" stroke-width="1.9" fill="none" stroke-linejoin="miter"/>
<path d="M401.25,335.69 L399.7,345 L408.74,342.31" stroke="#111" stroke-width="1.9" fill="none" />
<path d="M447.5,338.8 L426.5,338.8 L408,359.5" stroke="#111" stroke-width="1.9" fill="none" stroke-linejoin="miter"/>
<path d="M409.60,350.20 L408,359.5 L417.06,356.87" stroke="#111" stroke-width="1.9" fill="none" />
<path d="M442,389.7 L413.4,389.7 L399.7,373.5" stroke="#111" stroke-width="1.9" fill="none" stroke-linejoin="miter"/>
<path d="M408.68,376.38 L399.7,373.5 L401.05,382.84" stroke="#111" stroke-width="1.9" fill="none" />
<text x="448.5" y="328" font-size="10" text-anchor="start" fill="#222" font-weight="normal" font-family='"Liberation Sans", sans-serif' stroke="#222" stroke-width="0.22" >(+) strand: G rich</text>
<text x="453" y="342.3" font-size="10" text-anchor="start" fill="#222" font-weight="normal" font-family='"Liberation Sans", sans-serif' stroke="#222" stroke-width="0.22" >RNA: G rich</text>
<text x="450" y="392" font-size="10" text-anchor="start" fill="#222" font-weight="normal" font-family='"Liberation Sans", sans-serif' stroke="#222" stroke-width="0.22" >(-) strand: C rich</text>
<rect x="330.6" y="409" width="142.8" height="18.6" rx="3" fill="#fff" stroke="#aacd88" stroke-width="2.2"/>
<text x="402.3" y="422.5" font-size="11.9" text-anchor="middle" fill="#222" font-weight="normal" font-family='"Liberation Sans", sans-serif' stroke="#222" stroke-width="0.22" >GC Skew = (G-C)/(G+C)</text>
<text x="530.6" y="272" font-size="15" text-anchor="start" fill="#000" font-weight="bold" font-family='"Liberation Sans", sans-serif' stroke="#000" stroke-width="0.22" >d</text>
<text x="617" y="274" font-size="10.2" text-anchor="middle" fill="#222" font-weight="normal" font-family='"Liberation Sans", sans-serif' stroke="#222" stroke-width="0.22" >Top 16 m<tspan font-size="6.5" dy="-3.5">5</tspan><tspan dy="3.5">C sites on (+)</tspan></text>
<text x="617" y="285.3" font-size="10.2" text-anchor="middle" fill="#222" font-weight="normal" font-family='"Liberation Sans", sans-serif' stroke="#222" stroke-width="0.22" >strand: G rich</text>
<text x="744.5" y="274" font-size="10.2" text-anchor="middle" fill="#222" font-weight="normal" font-family='"Liberation Sans", sans-serif' stroke="#222" stroke-width="0.22" >Bottom 16 unmethylated</text>
<text x="744.5" y="285.3" font-size="10.2" text-anchor="middle" fill="#222" font-weight="normal" font-family='"Liberation Sans", sans-serif' stroke="#222" stroke-width="0.22" >C sites on (+) strand</text>
<text x="568.6" y="304.60" font-size="11" font-weight="bold" font-family='"Liberation Mono", monospace'><tspan fill="#2e2e2e">AGA</tspan><tspan fill="#6db34e">GGG</tspan><tspan fill="#ee1c1c">CC</tspan><tspan fill="#6db34e">GGGGG</tspan><tspan fill="#2e2e2e">A</tspan></text>
<text x="568.6" y="318.02" font-size="11" font-weight="bold" font-family='"Liberation Mono", monospace'><tspan fill="#2e2e2e">CAGA</tspan><tspan fill="#6db34e">GGG</tspan><tspan fill="#ee1c1c">CC</tspan><tspan fill="#6db34e">GGGGG</tspan></text>
<text x="568.6" y="331.44" font-size="11" font-weight="bold" font-family='"Liberation Mono", monospace'><tspan fill="#2e2e2e">CCA</tspan><tspan fill="#6db34e">GGG</tspan><tspan fill="#2e2e2e">T</tspan><tspan fill="#ee1c1c">C</tspan><tspan fill="#2e2e2e">TCCAGA</tspan></text>
<text x="568.6" y="344.86" font-size="11" font-weight="bold" font-family='"Liberation Mono", monospace'><tspan fill="#2e2e2e">CTATCCC</tspan><tspan fill="#ee1c1c">C</tspan><tspan fill="#2e2e2e">A</tspan><tspan fill="#6db34e">GGG</tspan><tspan fill="#2e2e2e">AA</tspan></text>
<text x="568.6" y="358.28" font-size="11" font-weight="bold" font-family='"Liberation Mono", monospace'><tspan fill="#2e2e2e">C</tspan><tspan fill="#6db34e">GGG</tspan><tspan fill="#2e2e2e">C</tspan><tspan fill="#ee1c1c">CCC</tspan><tspan fill="#6db34e">GGGG</tspan><tspan fill="#2e2e2e">CC</tspan></text>
<text x="568.6" y="371.70" font-size="11" font-weight="bold" font-family='"Liberation Mono", monospace'><tspan fill="#2e2e2e">CC</tspan><tspan fill="#6db34e">GGG</tspan><tspan fill="#2e2e2e">C</tspan><tspan fill="#ee1c1c">CCC</tspan><tspan fill="#6db34e">GGGG</tspan><tspan fill="#2e2e2e">C</tspan></text>
<text x="568.6" y="385.12" font-size="11" font-weight="bold" font-family='"Liberation Mono", monospace'><tspan fill="#2e2e2e">TGAACAG</tspan><tspan fill="#ee1c1c">C</tspan><tspan fill="#2e2e2e">AACTAT</tspan></text>
<text x="568.6" y="398.54" font-size="11" font-weight="bold" font-family='"Liberation Mono", monospace'><tspan fill="#2e2e2e">CACATAG</tspan><tspan fill="#ee1c1c">C</tspan><tspan fill="#2e2e2e">AGA</tspan><tspan fill="#6db34e">GG</tspan><tspan fill="#2e2e2e">C</tspan></text>
<text x="568.6" y="411.96" font-size="11" font-weight="bold" font-family='"Liberation Mono", monospace'><tspan fill="#2e2e2e">AGC</tspan><tspan fill="#6db34e">GGG</tspan><tspan fill="#2e2e2e">C</tspan><tspan fill="#ee1c1c">CC</tspan><tspan fill="#6db34e">GGG</tspan><tspan fill="#2e2e2e">TC</tspan></text>
<text x="568.6" y="425.38" font-size="11" font-weight="bold" font-family='"Liberation Mono", monospace'><tspan fill="#2e2e2e">GC</tspan><tspan fill="#6db34e">GGG</tspan><tspan fill="#2e2e2e">C</tspan><tspan fill="#ee1c1c">CC</tspan><tspan fill="#6db34e">GGG</tspan><tspan fill="#2e2e2e">TCC</tspan></text>
<text x="568.6" y="438.80" font-size="11" font-weight="bold" font-family='"Liberation Mono", monospace'><tspan fill="#2e2e2e">AATGG</tspan><tspan fill="#ee1c1c">CCC</tspan><tspan fill="#2e2e2e">AGGC</tspan><tspan fill="#6db34e">GG</tspan></text>
<text x="568.6" y="452.22" font-size="11" font-weight="bold" font-family='"Liberation Mono", monospace'><tspan fill="#2e2e2e">AAGC</tspan><tspan fill="#6db34e">GGG</tspan><tspan fill="#ee1c1c">C</tspan><tspan fill="#2e2e2e">CC</tspan><tspan fill="#6db34e">GGG</tspan><tspan fill="#2e2e2e">T</tspan></text>
<text x="568.6" y="465.64" font-size="11" font-weight="bold" font-family='"Liberation Mono", monospace'><tspan fill="#6db34e">G</tspan><tspan fill="#2e2e2e">AATGG</tspan><tspan fill="#ee1c1c">CCC</tspan><tspan fill="#2e2e2e">AGGC</tspan><tspan fill="#6db34e">G</tspan></text>
<text x="568.6" y="479.06" font-size="11" font-weight="bold" font-family='"Liberation Mono", monospace'><tspan fill="#2e2e2e">TCGC</tspan><tspan fill="#6db34e">GGG</tspan><tspan fill="#ee1c1c">CCC</tspan><tspan fill="#2e2e2e">AGCT</tspan></text>
<text x="568.6" y="492.48" font-size="11" font-weight="bold" font-family='"Liberation Mono", monospace'><tspan fill="#2e2e2e">GCC</tspan><tspan fill="#6db34e">GGG</tspan><tspan fill="#2e2e2e">C</tspan><tspan fill="#ee1c1c">CCC</tspan><tspan fill="#6db34e">GGGG</tspan></text>
<text x="568.6" y="505.90" font-size="11" font-weight="bold" font-family='"Liberation Mono", monospace'><tspan fill="#2e2e2e">AAAAAAA</tspan><tspan fill="#ee1c1c">C</tspan><tspan fill="#2e2e2e">AAAAAA</tspan></text>
<text x="696.4" y="304.60" font-size="11" font-weight="bold" font-family='"Liberation Mono", monospace'><tspan fill="#2e2e2e">GAAAGC</tspan><tspan fill="#a8a8a8">C</tspan><tspan fill="#2e2e2e">CCAGCA</tspan></text>
<text x="696.4" y="318.02" font-size="11" font-weight="bold" font-family='"Liberation Mono", monospace'><tspan fill="#2e2e2e">CCATGT</tspan><tspan fill="#a8a8a8">C</tspan><tspan fill="#2e2e2e">TCCTGC</tspan></text>
<text x="696.4" y="331.44" font-size="11" font-weight="bold" font-family='"Liberation Mono", monospace'><tspan fill="#2e2e2e">TCTGCA</tspan><tspan fill="#a8a8a8">C</tspan><tspan fill="#2e2e2e">TACTAC</tspan></text>
<text x="696.4" y="344.86" font-size="11" font-weight="bold" font-family='"Liberation Mono", monospace'><tspan fill="#2e2e2e">GCAAGC</tspan><tspan fill="#a8a8a8">C</tspan><tspan fill="#2e2e2e">CCACCC</tspan></text>
<text x="696.4" y="358.28" font-size="11" font-weight="bold" font-family='"Liberation Mono", monospace'><tspan fill="#6db34e">GG</tspan><tspan fill="#2e2e2e">ATTG</tspan><tspan fill="#a8a8a8">C</tspan><tspan fill="#2e2e2e">CCTTCT</tspan></text>
<text x="696.4" y="371.70" font-size="11" font-weight="bold" font-family='"Liberation Mono", monospace'><tspan fill="#2e2e2e">CTGCCA</tspan><tspan fill="#a8a8a8">C</tspan><tspan fill="#2e2e2e">CCCAA</tspan><tspan fill="#6db34e">G</tspan></text>
<text x="696.4" y="385.12" font-size="11" font-weight="bold" font-family='"Liberation Mono", monospace'><tspan fill="#2e2e2e">CACTGG</tspan><tspan fill="#a8a8a8">C</tspan><tspan fill="#2e2e2e">CA</tspan><tspan fill="#6db34e">GG</tspan><tspan fill="#2e2e2e">TA</tspan></text>
<text x="696.4" y="398.54" font-size="11" font-weight="bold" font-family='"Liberation Mono", monospace'><tspan fill="#6db34e">GG</tspan><tspan fill="#2e2e2e">A</tspan><tspan fill="#6db34e">GG</tspan><tspan fill="#2e2e2e">C</tspan><tspan fill="#a8a8a8">C</tspan><tspan fill="#2e2e2e">GCCTCC</tspan></text>
<text x="696.4" y="411.96" font-size="11" font-weight="bold" font-family='"Liberation Mono", monospace'><tspan fill="#2e2e2e">TCCTGT</tspan><tspan fill="#a8a8a8">C</tspan><tspan fill="#2e2e2e">CC</tspan><tspan fill="#6db34e">GGGG</tspan></text>
<text x="696.4" y="425.38" font-size="11" font-weight="bold" font-family='"Liberation Mono", monospace'><tspan fill="#2e2e2e">AGTTCT</tspan><tspan fill="#a8a8a8">C</tspan><tspan fill="#2e2e2e">CCACGA</tspan></text>
<text x="696.4" y="438.80" font-size="11" font-weight="bold" font-family='"Liberation Mono", monospace'><tspan fill="#2e2e2e">C</tspan><tspan fill="#6db34e">GG</tspan><tspan fill="#2e2e2e">CGT</tspan><tspan fill="#a8a8a8">C</tspan><tspan fill="#2e2e2e">TGTCTG</tspan></text>
<text x="696.4" y="452.22" font-size="11" font-weight="bold" font-family='"Liberation Mono", monospace'><tspan fill="#6db34e">G</tspan><tspan fill="#2e2e2e">AAAAG</tspan><tspan fill="#a8a8a8">C</tspan><tspan fill="#2e2e2e">TGGTGC</tspan></text>
<text x="696.4" y="465.64" font-size="11" font-weight="bold" font-family='"Liberation Mono", monospace'><tspan fill="#2e2e2e">CA</tspan><tspan fill="#6db34e">GG</tspan><tspan fill="#2e2e2e">AG</tspan><tspan fill="#a8a8a8">C</tspan><tspan fill="#2e2e2e">GAGGTC</tspan></text>
<text x="696.4" y="479.06" font-size="11" font-weight="bold" font-family='"Liberation Mono", monospace'><tspan fill="#2e2e2e">A</tspan><tspan fill="#6db34e">GG</tspan><tspan fill="#2e2e2e">CAG</tspan><tspan fill="#a8a8a8">C</tspan><tspan fill="#2e2e2e">TGGAGC</tspan></text>
<text x="696.4" y="492.48" font-size="11" font-weight="bold" font-family='"Liberation Mono", monospace'><tspan fill="#2e2e2e">CCCGCT</tspan><tspan fill="#a8a8a8">C</tspan><tspan fill="#2e2e2e">CCTCTG</tspan></text>
<text x="696.4" y="505.90" font-size="11" font-weight="bold" font-family='"Liberation Mono", monospace'><tspan fill="#2e2e2e">TCCCTT</tspan><tspan fill="#a8a8a8">C</tspan><tspan fill="#2e2e2e">GCCCT</tspan><tspan fill="#6db34e">G</tspan></text>
<text x="-0.5" y="534" font-size="15" text-anchor="start" fill="#000" font-weight="bold" font-family='"Liberation Sans", sans-serif' stroke="#000" stroke-width="0.22" >e</text>
<clipPath id="ec0"><rect x="43.5" y="531.8" width="223.8" height="122.10000000000002"/></clipPath><g clip-path="url(#ec0)"><path d="M176.4 651.7L182.5 651.8M181.4 649.9L184.7 650.0M164.1 537.7L166.3 537.6M149.4 540.1L151.7 539.8L153.9 539.6M156.1 539.4L158.3 539.2L160.6 539.0M142.7 644.9L145.0 645.1L147.2 645.4L149.4 645.6L151.7 645.9L153.9 646.1M158.3 646.5L160.6 646.7M147.8 541.5L150.0 541.2L152.3 540.9M154.5 540.7L156.7 540.4L158.9 540.2L161.2 540.0M163.4 539.8L165.6 539.6L167.8 539.4M147.8 644.2L150.0 644.5L152.3 644.8L154.5 645.0M156.7 645.3L158.9 645.5L161.2 645.7M163.4 645.9L165.6 646.1L167.8 646.3M109.1 552.9L111.2 552.0M124.0 547.5L126.2 546.9M146.1 543.0L148.3 542.6L150.5 542.3L152.8 542.0M157.2 541.5L159.4 541.2M163.9 540.8L166.1 540.5M168.3 540.3L170.6 540.1M172.8 539.9L175.0 539.7L177.2 539.6L179.5 539.4M132.8 640.3L135.0 640.8M148.3 643.1L150.5 643.4L152.8 643.7M155.0 643.9L157.2 644.2L159.4 644.5M163.9 644.9L166.1 645.2M168.3 645.4L170.6 645.6L172.8 645.8L175.0 646.0M177.2 646.1L179.5 646.3L181.7 646.5M142.9 545.5L145.1 545.0L147.3 544.6L149.6 544.3L151.8 543.9L154.0 543.6M156.2 543.3L158.4 543.0L160.7 542.7M165.1 542.1L167.3 541.9L169.6 541.6M171.8 541.4L174.0 541.2L176.2 541.0L178.4 540.7L180.7 540.6L182.9 540.4L185.1 540.2L187.3 540.0L189.5 539.8M134.1 638.3L136.3 638.8M140.7 639.8L142.9 640.2M149.6 641.4L151.8 641.8L154.0 642.1M158.4 642.7L160.7 643.0M162.9 643.3L165.1 643.6M169.6 644.1L171.8 644.3M176.2 644.7L178.4 645.0M180.7 645.1L182.9 645.3M187.3 645.7L189.5 645.9L191.8 646.0M148.5 546.4L150.7 546.0L152.9 545.6M155.1 545.2L157.3 544.8M161.8 544.1L164.0 543.8M170.6 543.0L172.9 542.7L175.1 542.4M181.7 541.7L184.0 541.5M190.6 540.9L192.8 540.7M146.3 638.9L148.5 639.3L150.7 639.7L152.9 640.1M161.8 641.6L164.0 641.9M166.2 642.2L168.4 642.5L170.6 642.7L172.9 643.0L175.1 643.3L177.3 643.5M184.0 644.2L186.2 644.4L188.4 644.6L190.6 644.8M192.8 645.0L195.1 645.1M208.4 646.1L210.6 646.2M132.2 553.1L134.3 552.3M147.3 548.7L149.5 548.2M160.5 546.0L162.8 545.7M169.4 544.7L171.6 544.3M173.8 544.0L176.1 543.8L178.3 543.5M182.7 543.0L184.9 542.7L187.1 542.5M189.4 542.3L191.6 542.1L193.8 541.9M198.2 541.5L200.5 541.3M213.8 540.3L216.0 540.1M149.5 637.5L151.7 638.0L153.9 638.4M160.5 639.7L162.8 640.0L165.0 640.4M167.2 640.7L169.4 641.0L171.6 641.4M176.1 641.9L178.3 642.2M180.5 642.5L182.7 642.7L184.9 643.0M189.4 643.4L191.6 643.6M196.0 644.0L198.2 644.2M213.8 645.4L216.0 645.6M146.1 551.2L148.3 550.6L150.5 550.1L152.7 549.5L154.9 549.0M163.7 547.3L165.9 546.9M168.1 546.5L170.3 546.1L172.5 545.8M181.4 544.5L183.6 544.3L185.8 544.0L188.0 543.7M190.2 543.5L192.5 543.2M212.4 541.4L214.6 541.2M146.1 634.5L148.3 635.1L150.5 635.6L152.7 636.2M159.3 637.6L161.5 638.0L163.7 638.4L165.9 638.8M170.3 639.6L172.5 639.9L174.7 640.2L176.9 640.6L179.2 640.9L181.4 641.2L183.6 641.4L185.8 641.7M188.0 642.0L190.2 642.2L192.5 642.5L194.7 642.7M196.9 642.9L199.1 643.1M219.1 644.8L221.3 644.9M142.8 554.7L144.9 554.0L147.1 553.3L149.2 552.6L151.4 552.0L153.6 551.4M155.8 550.9L157.9 550.3M160.1 549.8L162.3 549.4M164.5 548.9L166.7 548.5M168.9 548.0L171.1 547.6L173.3 547.3M182.2 545.9L184.4 545.6M217.6 542.1L219.9 541.9M144.9 631.7L147.1 632.4M149.2 633.1L151.4 633.7L153.6 634.3M164.5 636.8L166.7 637.2M168.9 637.7L171.1 638.1L173.3 638.4L175.6 638.8L177.8 639.2L180.0 639.5M182.2 639.8L184.4 640.1L186.6 640.4M188.8 640.7L191.0 641.0M193.3 641.3L195.5 641.5L197.7 641.8L199.9 642.0L202.1 642.2M213.2 643.3L215.4 643.5M219.9 643.8L222.1 644.0M145.9 556.2L148.0 555.4L150.1 554.7L152.3 554.0M158.8 552.2L161.0 551.6M178.5 548.0L180.7 547.6M182.9 547.3L185.1 546.9M216.1 543.3L218.4 543.1L220.6 542.9M145.9 629.5L148.0 630.3L150.1 631.0L152.3 631.7L154.4 632.3L156.6 632.9M158.8 633.5L161.0 634.1M167.5 635.6L169.7 636.0M171.9 636.5L174.1 636.9M178.5 637.7L180.7 638.1M187.4 639.1L189.6 639.4L191.8 639.7M196.2 640.3L198.4 640.6L200.6 640.8M207.3 641.6L209.5 641.8M113.2 586.7L114.2 584.7M138.6 562.2L140.6 561.2M144.7 559.3L146.8 558.5M148.9 557.6L151.0 556.9L153.1 556.1L155.3 555.4M163.9 552.9L166.1 552.4M177.0 549.9L179.2 549.5M144.7 626.4L146.8 627.2L148.9 628.1L151.0 628.8L153.1 629.6M155.3 630.3L157.4 630.9L159.6 631.6M166.1 633.3L168.3 633.9L170.5 634.4L172.6 634.8M179.2 636.2L181.4 636.6L183.6 637.0L185.8 637.4M207.9 640.4L210.2 640.7M223.4 642.0L225.7 642.2M139.7 564.9L141.6 563.8M143.6 562.8L145.7 561.8L147.7 560.9M149.8 560.0L151.9 559.1L154.0 558.3M156.1 557.5L158.2 556.8L160.3 556.1M164.6 554.8L166.8 554.2M169.0 553.6L171.2 553.1M177.7 551.5L179.9 551.1M147.7 624.8L149.8 625.7L151.9 626.6L154.0 627.4M158.2 628.9L160.3 629.6M164.6 630.9L166.8 631.5L169.0 632.1L171.2 632.6L173.3 633.2L175.5 633.7L177.7 634.2M179.9 634.6L182.1 635.1L184.3 635.5M138.9 569.0L140.8 567.7L142.7 566.6M148.6 563.3L150.7 562.4L152.7 561.4M156.9 559.7L159.0 558.9L161.1 558.2L163.2 557.4L165.4 556.7M174.0 554.3L176.2 553.7L178.4 553.2M142.7 619.1L144.6 620.3L146.6 621.3M148.6 622.4L150.7 623.3L152.7 624.3M156.9 626.0L159.0 626.8L161.1 627.5L163.2 628.3M167.5 629.6L169.7 630.2M171.8 630.8L174.0 631.4L176.2 632.0L178.4 632.5M140.1 572.0L141.9 570.7M145.7 568.2L147.6 567.0L149.6 565.9L151.6 564.9L153.6 563.9L155.6 562.9L157.7 562.0L159.8 561.1L161.8 560.3M172.5 556.7L174.6 556.1L176.8 555.5M147.6 618.7L149.6 619.8L151.6 620.8M153.6 621.8L155.6 622.8M159.8 624.6L161.8 625.4L164.0 626.2L166.1 626.9L168.2 627.6L170.3 628.3L172.5 629.0M229.6 639.3L231.8 639.6M136.6 579.8L138.1 578.2M144.9 572.3L146.8 571.0L148.6 569.8L150.5 568.6L152.5 567.4L154.5 566.4L156.5 565.3L158.5 564.4L160.5 563.4M162.6 562.5L164.7 561.7M166.8 560.9L168.9 560.1L171.0 559.3L173.1 558.6L175.3 558.0M225.6 548.0L227.8 547.7M144.9 613.4L146.8 614.7M148.6 615.9L150.5 617.1L152.5 618.3M158.5 621.3L160.5 622.3M164.7 624.0L166.8 624.8L168.9 625.6M171.0 626.4L173.1 627.1M141.2 580.0L142.8 578.4M147.9 574.0L149.7 572.6L151.6 571.4M155.4 569.0L157.3 567.9M159.3 566.8L161.3 565.8M165.4 563.9L167.5 563.0L169.6 562.2L171.7 561.4M142.8 607.3L144.4 608.8M149.7 613.1L151.6 614.3L153.4 615.6L155.4 616.7L157.3 617.8M167.5 622.7L169.6 623.5L171.7 624.3M226.1 636.6L228.3 636.9M142.8 583.5L144.3 581.8M147.5 578.6L149.1 577.1L150.9 575.6L152.6 574.3L154.5 573.0M228.7 550.0L230.9 549.7M144.3 603.9L145.8 605.6M147.5 607.1L149.1 608.6L150.9 610.1M152.6 611.4L154.5 612.7M156.3 614.0L158.2 615.2L160.2 616.3L162.1 617.4M142.2 590.9L143.4 589.0M147.4 583.6L148.9 581.9L150.5 580.3M153.8 577.3L155.5 575.9L157.3 574.6M161.1 572.0L163.0 570.9M143.4 596.7L144.6 598.6M147.4 602.1L148.9 603.8L150.5 605.4L152.1 606.9L153.8 608.4M155.5 609.8L157.3 611.1M159.2 612.4L161.1 613.7L163.0 614.8M164.9 616.0L166.9 617.0L168.9 618.0M147.8 589.0L149.1 587.2M150.5 585.4L151.9 583.7L153.5 582.1M156.7 579.0L158.4 577.5L160.2 576.1M165.8 572.4L167.7 571.2M229.5 552.4L231.7 552.1L233.9 551.7M147.8 596.7L149.1 598.5L150.5 600.3L151.9 602.0L153.5 603.6M156.7 606.7L158.4 608.2M160.2 609.6L162.0 610.9M163.9 612.1L165.8 613.3L167.7 614.5M149.9 592.8L151.0 590.9L152.2 589.0L153.6 587.2M163.1 577.7L164.9 576.4M166.7 575.1L168.6 573.9M236.5 552.6L238.7 552.2M151.0 594.8L152.2 596.7L153.6 598.5M234.3 632.8L236.5 633.1M155.4 590.9L156.7 589.1M159.5 585.6L161.0 583.9M164.2 580.8L165.9 579.3M234.6 554.2L236.8 553.8M158.0 598.4L159.5 600.1M162.6 603.4L164.2 604.9L165.9 606.4M167.7 607.7L169.5 609.1M158.6 592.8L159.8 590.9L161.1 589.1M162.5 587.3L164.0 585.6L165.5 584.0M167.1 582.5L168.8 581.0M162.5 598.4L164.0 600.1M241.6 631.4L243.8 631.8L246.0 632.1M163.0 592.8L164.2 591.0M166.9 587.4L168.4 585.7M163.0 592.8L164.2 594.7L165.5 596.5M166.9 598.3L168.4 600.0M237.8 628.0L240.0 628.5L242.2 628.9M242.5 558.1L244.7 557.7M238.7 561.9L240.9 561.4M245.2 560.4L247.4 559.9M247.4 625.8L249.6 626.3M241.2 622.8L243.3 623.4M248.0 562.7L250.1 562.2M239.6 619.1L241.8 619.8M240.3 570.0L242.4 569.2M240.3 615.7L242.4 616.5M243.9 576.7L245.9 575.8M252.1 573.3L254.2 572.5M243.9 609.0L245.9 609.9M248.0 610.8L250.1 611.6M246.8 579.9L248.8 578.9L250.8 578.0M252.9 608.6L254.9 609.5M247.8 601.1L249.8 602.3M243.2 591.3L244.9 589.8M244.9 595.9L246.7 597.3M251.1 588.5L252.9 587.2M245.9 592.8L247.6 594.4L249.3 595.8M246.5 592.8L241.9 594.7M246.5 592.8L241.9 591.0M246.2 591.0L241.8 589.2M250.5 594.7L245.9 596.5L241.6 598.3M250.5 591.0L245.9 589.2L241.6 587.4M250.1 596.5L245.7 598.3M245.5 585.5L241.5 583.7" stroke="rgb(45,45,255)" stroke-opacity="0.1" stroke-width="1.1" fill="none"/><path d="M188.8 545.0L191.0 544.7L193.3 544.4L195.5 544.2M202.1 543.5L204.3 543.3M185.1 546.9L187.4 546.6M189.6 546.3L191.8 546.0L194.0 545.7L196.2 545.4L198.4 545.1L200.6 544.9L202.9 544.6M209.5 543.9L211.7 543.7L213.9 543.5M181.4 549.1L183.6 548.7L185.8 548.3L188.0 548.0L190.3 547.6L192.5 547.3M199.1 546.4L201.3 546.1M203.5 545.8L205.7 545.5M207.9 545.3L210.2 545.0M190.3 638.1L192.5 638.4L194.7 638.7M196.9 639.0L199.1 639.3M201.3 639.6L203.5 639.9L205.7 640.2L207.9 640.4M179.9 551.1L182.1 550.6L184.3 550.2L186.5 549.8L188.7 549.4L190.9 549.0M215.2 545.7L217.4 545.4M184.3 635.5L186.5 635.9L188.7 636.3L190.9 636.7L193.1 637.0L195.3 637.4L197.5 637.7L199.7 638.0L201.9 638.4L204.1 638.7L206.4 639.0L208.6 639.2L210.8 639.5M180.5 552.7L182.7 552.2L184.9 551.8L187.1 551.3M198.1 549.3L200.3 549.0M180.5 633.0L182.7 633.5L184.9 633.9L187.1 634.4L189.3 634.8L191.5 635.2M195.9 636.0L198.1 636.4L200.3 636.7M202.5 637.1L204.7 637.4L206.9 637.7L209.1 638.0M211.4 638.3L213.6 638.6M176.8 555.5L179.0 554.9L181.1 554.4M218.5 547.7L220.7 547.4M179.0 630.8L181.1 631.3L183.3 631.9M185.5 632.4L187.7 632.8M209.7 636.8L211.9 637.1M214.1 637.4L216.3 637.7L218.5 638.0M177.4 557.3L179.6 556.7L181.7 556.1M186.1 555.0L188.3 554.5L190.4 554.0M210.2 550.2L212.4 549.8M175.3 627.7L177.4 628.4L179.6 629.0L181.7 629.6L183.9 630.2M208.0 635.1L210.2 635.5M216.8 636.5L219.0 636.8M173.8 560.6L175.9 559.9L178.0 559.2L180.2 558.5L182.3 557.9M199.7 553.6L201.9 553.2M206.3 552.3L208.5 551.9M173.8 625.1L175.9 625.8L178.0 626.5L180.2 627.2M182.3 627.8L184.5 628.4M174.4 562.7L176.5 561.9L178.6 561.2L180.7 560.4L182.9 559.7M187.2 558.4L189.3 557.8M202.4 554.6L204.5 554.2M172.3 622.2L174.4 623.0M176.5 623.8L178.6 624.5M180.7 625.3L182.9 626.0M185.0 626.6L187.2 627.3L189.3 627.9M215.5 633.6L217.7 634.0M170.9 566.7L173.0 565.8M175.1 564.9L177.1 564.0L179.2 563.2M226.9 551.5L229.1 551.2M175.1 620.8L177.1 621.7M179.2 622.5L181.3 623.3M171.7 569.1L173.7 568.1L175.7 567.1L177.8 566.2M171.7 616.6L173.7 617.6L175.7 618.6L177.8 619.5M179.8 620.4L181.9 621.2M186.1 622.8L188.2 623.5L190.4 624.2M196.8 626.2L198.9 626.8M207.6 629.0L209.8 629.5M220.7 631.7L222.9 632.1M172.4 571.5L174.4 570.5M184.6 565.7L186.7 564.9M172.4 614.2L174.4 615.2L176.4 616.3L178.4 617.3M205.9 626.9L208.1 627.4L210.2 628.0M173.3 574.1L175.2 573.0L177.1 571.9M230.3 555.0L232.4 554.6M173.3 611.6L175.2 612.7M177.1 613.8L179.1 614.9L181.1 615.9M208.5 625.8L210.6 626.4M215.0 627.5L217.1 628.0M170.5 579.5L172.3 578.2L174.1 576.9L176.0 575.6M183.8 571.1L185.8 570.1M189.9 568.3L192.0 567.4M196.1 565.8L198.2 565.0M221.9 558.2L224.1 557.7M230.6 556.3L232.8 555.9M172.3 607.5L174.1 608.8L176.0 610.1L177.9 611.3M179.8 612.4L181.8 613.5M200.3 621.5L202.5 622.2M171.7 582.6L173.4 581.1L175.1 579.7L176.9 578.4M198.7 566.9L200.8 566.2M202.9 565.4L205.0 564.7M171.7 603.1L173.4 604.6L175.1 606.0M176.9 607.3L178.8 608.6M220.1 625.5L222.2 626.0M171.4 587.5L172.9 585.8L174.5 584.2L176.2 582.7M179.7 579.9L181.5 578.6M193.1 571.8L195.1 570.8M205.5 566.5L207.6 565.8M220.4 561.8L222.6 561.2L224.8 560.7M233.4 558.6L235.6 558.1M170.0 596.5L171.4 598.2L172.9 599.9L174.5 601.5M203.4 618.4L205.5 619.2M214.0 622.0L216.1 622.7M218.3 623.3L220.4 623.9M171.7 592.8L173.0 591.0L174.4 589.2L175.9 587.5M177.4 585.9L179.0 584.3M195.7 573.1L197.8 572.1M223.0 562.8L225.1 562.2M173.0 594.7L174.4 596.5M180.7 602.8L182.4 604.3M191.8 610.5L193.8 611.6M199.8 614.6L201.8 615.5M208.1 618.0L210.2 618.8M214.4 620.3L216.5 620.9M229.4 624.6L231.6 625.1M176.1 592.8L177.4 591.0L178.8 589.3M192.5 577.7L194.4 576.6M200.4 573.4L202.4 572.4M178.8 596.4L180.3 598.1M214.8 618.4L216.9 619.2M189.7 583.1L191.5 581.7M197.1 577.9L199.0 576.8M219.4 567.6L221.6 566.9M188.0 601.1L189.7 602.6M193.3 605.3L195.2 606.6M199.0 608.9L201.0 610.0M203.0 611.1L205.0 612.1L207.0 613.0M217.8 570.3L219.8 569.5M226.2 567.2L228.3 566.5M192.5 601.0L194.2 602.5M209.5 611.8L211.6 612.8L213.6 613.7M215.7 614.5L217.8 615.4M192.1 589.4L193.6 587.8M218.2 572.3L220.3 571.4M200.5 603.7L202.4 605.0M193.6 592.8L195.0 591.1M208.8 579.7L210.7 578.5L212.7 577.4M206.9 604.8L208.8 606.0M212.7 608.3L214.7 609.3M200.9 589.5L202.5 587.9M197.9 592.8L199.4 594.6M207.7 602.1L209.5 603.4M209.7 589.5L211.3 588.0M211.3 597.7L213.1 599.2M226.3 607.7L228.3 608.7M219.3 585.2L221.1 583.9M224.9 581.5L226.8 580.4M238.9 574.5L241.0 573.6M236.9 610.4L238.9 611.2M233.3 579.4L235.3 578.4M218.5 596.1L220.2 597.6M221.9 599.0L223.7 600.4M237.3 608.3L239.3 609.2M222.9 589.6L224.6 588.2M230.0 601.6L231.9 602.8L233.9 603.9M234.5 601.4L236.4 602.6M238.3 603.8L240.3 604.9M237.1 585.6L239.0 584.4M237.2 592.8L238.8 591.3M238.8 594.4L240.5 595.9M176.7 592.8L173.7 594.7M176.7 592.8L173.7 591.0M181.0 592.8L177.9 594.7L175.0 596.5M181.0 592.8L177.9 591.0L175.0 589.2L172.2 587.4M185.4 592.8L182.2 594.7L179.2 596.5L176.3 598.3M185.4 592.8L182.2 591.0L179.2 589.2L176.3 587.4M189.8 592.8L186.5 594.7L183.3 596.5L180.4 598.3L177.5 600.2L174.8 602.0M189.8 592.8L186.5 591.0L183.3 589.2L180.4 587.4L177.5 585.5L174.8 583.7M194.1 592.8L190.7 594.7L187.5 596.5L184.5 598.3L181.5 600.2L178.8 602.0L176.1 603.8L173.6 605.7M194.1 592.8L190.7 591.0L187.5 589.2L184.5 587.4L181.5 585.5L178.8 583.7L176.1 581.9L173.6 580.0M195.0 594.7L191.7 596.5L188.5 598.3L185.5 600.2L182.7 602.0L180.0 603.8L177.3 605.7L174.8 607.5L172.5 609.3M198.5 592.8L195.0 591.0L191.7 589.2L188.5 587.4L185.5 585.5L182.7 583.7L180.0 581.9L177.3 580.0L174.8 578.2L172.5 576.4M195.9 596.5L192.6 598.3L189.5 600.2L186.6 602.0L183.8 603.8L181.1 605.7L178.5 607.5L176.1 609.3L173.7 611.2M195.9 589.2L192.6 587.4L189.5 585.5L186.6 583.7L183.8 581.9L181.1 580.0L178.5 578.2L176.1 576.4M207.2 592.8L203.5 594.7L200.0 596.5M196.7 598.3L193.5 600.2L190.5 602.0L187.6 603.8L184.9 605.7L182.2 607.5L179.7 609.3L177.3 611.2L175.0 613.0M207.2 592.8L203.5 591.0L200.0 589.2L196.7 587.4M193.5 585.5L190.5 583.7L187.6 581.9L184.9 580.0L182.2 578.2L179.7 576.4L177.3 574.5M175.0 572.7L172.7 570.9M207.8 594.7L204.2 596.5L200.8 598.3L197.5 600.2M194.4 602.0L191.5 603.8L188.7 605.7L185.9 607.5L183.3 609.3L180.9 611.2L178.5 613.0L176.2 614.8M207.8 591.0L204.2 589.2L200.8 587.4L197.5 585.5L194.4 583.7L191.5 581.9L188.7 580.0L185.9 578.2L183.3 576.4L180.9 574.5L178.5 572.7L176.2 570.9L174.0 569.0M208.4 596.5L204.9 598.3L201.5 600.2L198.4 602.0L195.3 603.8L192.4 605.7L189.6 607.5L187.0 609.3L184.4 611.2L182.0 613.0L179.6 614.8L177.4 616.7L175.2 618.5M212.1 591.0L208.4 589.2M204.9 587.4L201.5 585.5L198.4 583.7L195.3 581.9L192.4 580.0L189.6 578.2L187.0 576.4L184.4 574.5L182.0 572.7L179.6 570.9L177.4 569.0L175.2 567.2M212.6 596.5L209.0 598.3L205.5 600.2L202.3 602.0L199.2 603.8L196.2 605.7L193.3 607.5L190.6 609.3L188.0 611.2L185.5 613.0L183.1 614.8L180.7 616.7L178.5 618.5L176.3 620.3M212.6 589.2L209.0 587.4M202.3 583.7L199.2 581.9L196.2 580.0L193.3 578.2L190.6 576.4L188.0 574.5L185.5 572.7L183.1 570.9L180.7 569.0L178.5 567.2L176.3 565.4M220.6 594.7L216.7 596.5M209.5 600.2L206.2 602.0M203.0 603.8L200.0 605.7L197.0 607.5L194.2 609.3L191.6 611.2L189.0 613.0L186.5 614.8L184.1 616.7L181.8 618.5L179.6 620.3L177.5 622.2M224.7 592.8L220.6 591.0M216.7 589.2L213.0 587.4M206.2 583.7L203.0 581.9L200.0 580.0L197.0 578.2L194.2 576.4L191.6 574.5L189.0 572.7L186.5 570.9L184.1 569.0L181.8 567.2L179.6 565.4L177.5 563.5M220.9 596.5L217.1 598.3M210.1 602.0L206.9 603.8L203.7 605.7M197.9 609.3L195.1 611.2L192.5 613.0L190.0 614.8L187.5 616.7L185.2 618.5L182.9 620.3L180.7 622.2L178.6 624.0M224.9 591.0L220.9 589.2M217.1 587.4L213.5 585.5M206.9 581.9L203.7 580.0M200.7 578.2L197.9 576.4L195.1 574.5L192.5 572.7L190.0 570.9L187.5 569.0L185.2 567.2L182.9 565.4L180.7 563.5L178.6 561.7L176.6 559.9M217.5 600.2L214.0 602.0M207.5 605.7L204.4 607.5M201.5 609.3L198.7 611.2L196.0 613.0L193.4 614.8L190.9 616.7L188.5 618.5L186.2 620.3L184.0 622.2L181.8 624.0L179.7 625.8M229.1 591.0L225.1 589.2M204.4 578.2L201.5 576.4L198.7 574.5L196.0 572.7M193.4 570.9L190.9 569.0L188.5 567.2L186.2 565.4L184.0 563.5L181.8 561.7L179.7 559.9L177.7 558.1M237.8 592.8L233.4 594.7M225.3 598.3L221.5 600.2M211.3 605.7L208.1 607.5L205.1 609.3M202.3 611.2L199.5 613.0L196.8 614.8L194.3 616.7L191.8 618.5L189.5 620.3L187.2 622.2L185.0 624.0L182.9 625.8L180.8 627.6M208.1 578.2L205.1 576.4M202.3 574.5L199.5 572.7L196.8 570.9L194.3 569.0L191.8 567.2L189.5 565.4L187.2 563.5L185.0 561.7L182.9 559.9L180.8 558.1L178.8 556.2M242.1 592.8L237.7 594.7M208.8 609.3L205.8 611.2M203.0 613.0L200.3 614.8L197.7 616.7L195.2 618.5L192.7 620.3L190.4 622.2L188.2 624.0L186.0 625.8L183.9 627.6L181.9 629.5M242.1 592.8L237.7 591.0M221.9 583.7L218.4 581.9M205.8 574.5L203.0 572.7M197.7 569.0L195.2 567.2L192.7 565.4L190.4 563.5L188.2 561.7L186.0 559.9L183.9 558.1L181.9 556.2L179.9 554.4M241.9 594.7L237.6 596.5M225.8 602.0L222.2 603.8L218.8 605.7M206.5 613.0L203.7 614.8M198.5 618.5L196.0 620.3L193.6 622.2L191.3 624.0L189.1 625.8L187.0 627.6L184.9 629.5M241.9 591.0L237.6 589.2M212.4 576.4L209.4 574.5L206.5 572.7L203.7 570.9L201.1 569.0L198.5 567.2L196.0 565.4M193.6 563.5L191.3 561.7L189.1 559.9L187.0 558.1L184.9 556.2L182.9 554.4L181.0 552.6M241.8 596.5L237.6 598.3M233.5 600.2L229.7 602.0M222.6 605.7L219.2 607.5M216.0 609.3L213.0 611.2M207.2 614.8L204.5 616.7L201.8 618.5L199.3 620.3M196.9 622.2L194.5 624.0L192.3 625.8L190.1 627.6L187.9 629.5L185.9 631.3M241.8 589.2L237.6 587.4M207.2 570.9L204.5 569.0M201.8 567.2L199.3 565.4L196.9 563.5L194.5 561.7L192.3 559.9L190.1 558.1L187.9 556.2L185.9 554.4L183.9 552.6M241.6 598.3L237.5 600.2M213.5 613.0L210.6 614.8L207.8 616.7L205.2 618.5L202.6 620.3L200.1 622.2L197.7 624.0L195.4 625.8L193.1 627.6L191.0 629.5L188.9 631.3L186.9 633.1M241.6 587.4L237.5 585.5M210.6 570.9L207.8 569.0L205.2 567.2M200.1 563.5L197.7 561.7L195.4 559.9L193.1 558.1L191.0 556.2L188.9 554.4L186.9 552.6L184.9 550.7M241.5 600.2L237.6 602.0M205.9 620.3L203.3 622.2M200.9 624.0L198.5 625.8M196.2 627.6L194.0 629.5L191.9 631.3L189.8 633.1M241.5 585.5L237.6 583.7L233.7 581.9M223.3 576.4L220.1 574.5M217.0 572.7L214.1 570.9L211.2 569.0M208.5 567.2L205.9 565.4L203.3 563.5L200.9 561.7L198.5 559.9L196.2 558.1L194.0 556.2L191.9 554.4L189.8 552.6L187.8 550.7M241.5 602.0L237.6 603.8M209.1 620.3L206.6 622.2L204.1 624.0L201.6 625.8L199.3 627.6L197.1 629.5L194.9 631.3L192.8 633.1L190.7 635.0L188.8 636.8M241.5 583.7L237.6 581.9L233.9 580.0M230.3 578.2L226.9 576.4L223.7 574.5M214.6 569.0L211.8 567.2L209.1 565.4L206.6 563.5M204.1 561.7L201.6 559.9M199.3 558.1L197.1 556.2L194.9 554.4L192.8 552.6L190.7 550.7L188.8 548.9" stroke="rgb(255,70,70)" stroke-opacity="0.1" stroke-width="1.1" fill="none"/><path d="M252.0 556.0h1.5v1.5h-1.5zM263.7 574.2h1.5v1.5h-1.5zM260.4 608.4h1.5v1.5h-1.5zM251.2 553.9h1.5v1.5h-1.5zM261.0 578.2h1.5v1.5h-1.5zM224.1 541.7h1.5v1.5h-1.5zM250.2 565.2h1.5v1.5h-1.5zM233.1 643.0h1.5v1.5h-1.5zM256.2 624.8h1.5v1.5h-1.5z" fill="rgb(45,45,255)" fill-opacity="0.1"/><path d="M59.3 547.3h1.7v1.7h-1.7zM55.1 605.0h1.7v1.7h-1.7zM81.1 618.6h1.7v1.7h-1.7zM78.4 579.2h1.7v1.7h-1.7zM88.0 592.0h1.7v1.7h-1.7zM90.5 600.5h1.7v1.7h-1.7zM263.4 606.3h1.5v1.5h-1.5zM264.1 607.1h1.5v1.5h-1.5zM253.9 607.9h1.5v1.5h-1.5zM263.3 575.2h1.5v1.5h-1.5zM256.9 606.1h1.5v1.5h-1.5zM264.7 579.3h1.5v1.5h-1.5zM245.7 558.8h1.5v1.5h-1.5zM259.4 559.4h1.5v1.5h-1.5zM246.1 555.6h1.5v1.5h-1.5zM249.8 622.3h1.5v1.5h-1.5zM263.1 596.6h1.5v1.5h-1.5zM251.5 607.8h1.5v1.5h-1.5zM223.7 644.6h1.5v1.5h-1.5zM252.0 626.4h1.5v1.5h-1.5zM264.2 578.4h1.5v1.5h-1.5zM255.3 563.4h1.5v1.5h-1.5zM259.9 570.0h1.5v1.5h-1.5zM238.9 545.8h1.5v1.5h-1.5zM264.4 587.6h1.5v1.5h-1.5zM215.4 540.1h1.5v1.5h-1.5zM220.7 643.5h1.5v1.5h-1.5zM252.0 558.9h1.5v1.5h-1.5zM221.6 541.1h1.5v1.5h-1.5zM256.2 558.8h1.5v1.5h-1.5zM256.2 574.7h1.5v1.5h-1.5zM256.8 627.3h1.5v1.5h-1.5z" fill="rgb(45,45,255)" fill-opacity="0.2"/><path d="M80.4 537.6L82.7 537.2M132.4 533.7L137.2 533.5M164.5 533.0L174.5 532.9M107.7 651.1L109.9 651.2M120.9 651.7L124.4 651.8M128.2 651.9L132.4 652.0M128.5 650.0L130.8 650.1L133.0 650.3M149.4 649.6L151.8 649.7M162.5 650.2L165.6 650.3M102.4 544.2L104.7 543.6M120.2 540.5L122.5 540.2M142.6 538.0L144.8 537.8M195.8 535.3L199.9 535.2M95.9 639.4L98.1 640.2M124.7 645.8L127.0 646.1M175.4 649.6L178.3 649.7M71.9 575.9L72.7 573.9M126.2 541.6L128.4 541.2M144.0 539.3L146.2 539.1M78.2 621.5L79.6 623.3M112.8 641.5L115.0 642.0M141.8 646.2L144.0 646.4L146.2 646.6M197.4 649.6L200.9 649.7M116.1 545.6L118.3 545.0M138.3 541.4L140.5 541.1L142.7 540.8L145.0 540.6L147.2 540.3L149.4 540.1M99.0 633.9L101.1 634.9M120.5 641.2L122.7 641.7M124.9 642.1L127.2 642.5M131.6 643.3L133.8 643.7M140.5 644.6L142.7 644.9M162.8 646.8L165.0 647.0M104.1 552.4L106.2 551.4M119.0 546.9L121.2 546.3M143.4 542.0L145.6 541.7L147.8 541.5M204.8 537.2L207.6 537.1M141.1 643.3L143.4 643.7L145.6 644.0L147.8 644.2M204.8 648.5L207.6 648.6M86.4 574.0L87.5 572.1M126.2 546.9L128.4 546.4M139.4 544.1L141.7 543.7L143.9 543.3L146.1 543.0M105.1 630.7L107.1 631.7M141.7 642.0L143.9 642.4L146.1 642.7L148.3 643.1M190.6 647.1L192.8 647.2L195.0 647.3M206.5 647.9L209.1 648.1M93.8 570.5L95.2 568.7M110.8 555.9L112.8 554.9M114.8 553.9L116.9 552.9M140.7 545.9L142.9 545.5M194.0 539.5L196.2 539.4M207.3 538.7L209.5 538.6L211.8 538.4M87.5 603.4L88.4 605.5M95.2 617.0L96.6 618.7M98.2 620.3L99.8 621.9M121.1 634.4L123.2 635.2M138.5 639.3L140.7 639.8M142.9 640.2L145.1 640.7L147.3 641.1M196.2 646.3L198.4 646.5M137.5 548.9L139.7 548.3M141.9 547.8L144.1 547.3L146.3 546.8L148.5 546.4M197.3 540.4L199.5 540.2M89.9 597.1L90.6 599.2M118.3 630.0L120.4 630.9M144.1 638.4L146.3 638.9M197.3 645.3L199.5 645.5M96.9 582.4L97.8 580.4M108.7 566.3L110.4 564.9M115.9 560.9L117.8 559.7M145.1 549.2L147.3 548.7M100.1 609.1L101.3 611.0M108.7 619.4L110.4 620.8M117.8 626.0L119.8 627.1M138.6 634.7L140.8 635.3L143.0 635.9L145.1 636.5L147.3 637.0M100.5 584.5L101.5 582.5M144.0 551.8L146.1 551.2M141.8 633.2L144.0 633.9L146.1 634.5M138.6 556.2L140.7 555.4L142.8 554.7M102.6 595.0L103.3 597.0M117.3 617.0L119.0 618.4M140.7 630.3L142.8 631.0L144.9 631.7M147.1 632.4L149.2 633.1M208.8 642.9L211.0 643.1M111.9 580.8L113.2 579.0M114.5 577.2L115.9 575.4M141.7 557.8L143.8 557.0L145.9 556.2M139.6 627.0L141.7 627.9L143.8 628.7L145.9 629.5M140.6 561.2L142.7 560.2M146.8 558.5L148.9 557.6M138.6 623.5L140.6 624.5L142.7 625.5L144.7 626.4M132.2 569.9L134.0 568.6L135.8 567.3M141.6 621.9L143.6 622.9L145.7 623.9L147.7 624.8M213.0 639.8L215.2 640.0M123.3 584.9L124.6 583.0M142.7 566.6L144.6 565.4L146.6 564.4M121.2 596.9L122.2 598.9M131.9 611.1L133.6 612.6M138.9 616.7L140.8 618.0M146.6 621.3L148.6 622.4M141.9 570.7L143.8 569.4L145.7 568.2M126.7 598.8L127.9 600.7M140.1 613.7L141.9 615.0L143.8 616.3L145.7 617.5L147.6 618.7M141.4 575.1L143.1 573.7L144.9 572.3M128.1 592.8L129.0 594.9M141.4 610.6L143.1 612.0L144.9 613.4M146.8 614.7L148.6 615.9M142.8 578.4L144.4 576.9L146.1 575.4L147.9 574.0M141.2 605.7L142.8 607.3M144.4 608.8L146.1 610.3L147.9 611.7M141.4 585.2L142.8 583.5M144.3 581.8L145.8 580.1L147.5 578.6M142.8 602.2L144.3 603.9M145.8 605.6L147.5 607.1M143.4 589.0L144.6 587.1L146.0 585.3L147.4 583.6M141.2 592.8L142.2 594.8L143.4 596.7M144.6 598.6L146.0 600.4L147.4 602.1M145.6 592.8L146.6 590.9L147.8 589.0M145.6 592.8L146.6 594.8L147.8 596.7M236.2 561.0L238.4 560.5M247.1 558.5L249.3 558.1M247.1 627.2L249.3 627.6M236.9 621.7L239.0 622.3M251.8 571.5L253.9 570.8M249.7 613.4L251.8 614.2M252.5 575.1L254.6 574.3M245.9 592.8L247.6 591.3M249.3 589.9L251.1 588.5M250.9 592.8L246.2 594.7L241.8 596.5M171.6 646.0L170.1 647.8L168.5 649.6M250.9 592.8L246.2 591.0M171.6 539.7L170.1 537.9M255.2 592.8L250.5 594.7M174.3 646.0L172.7 647.8M255.2 592.8L250.5 591.0M174.3 539.7L172.7 537.9M254.7 594.7L250.1 596.5M245.7 598.3L241.5 600.2M254.7 591.0L250.1 589.2L245.7 587.4L241.5 585.5M175.4 537.9L173.8 536.1M254.3 596.5L249.8 598.3L245.5 600.2L241.5 602.0M179.7 646.0L178.0 647.8L176.4 649.6M254.3 589.2L249.8 587.4L245.5 585.5M179.7 539.7L178.0 537.9M176.4 536.1L174.9 534.2" stroke="rgb(45,45,255)" stroke-opacity="0.2" stroke-width="1.1" fill="none"/><path d="M197.7 543.9L199.9 543.7L202.1 543.5M206.6 543.0L208.8 542.8M205.1 544.4L207.3 544.1L209.5 543.9M192.5 547.3L194.7 547.0L196.9 546.7L199.1 546.4M201.3 546.1L203.5 545.8M205.7 545.5L207.9 545.3M210.2 545.0L212.4 544.8L214.6 544.6L216.8 544.3M199.1 639.3L201.3 639.6M190.9 549.0L193.1 548.7L195.3 548.3L197.5 548.0M199.7 547.7L201.9 547.3M204.1 547.0L206.4 546.7L208.6 546.5L210.8 546.2L213.0 545.9L215.2 545.7M217.4 545.4L219.6 545.2M210.8 639.5L213.0 639.8M187.1 551.3L189.3 550.9L191.5 550.5M195.9 549.7L198.1 549.3M211.4 547.4L213.6 547.1M215.8 546.8L218.0 546.5L220.2 546.3M191.5 635.2L193.7 635.6L195.9 636.0M200.3 636.7L202.5 637.1M209.1 638.0L211.4 638.3M213.6 638.6L215.8 638.9L218.0 639.2M183.3 553.8L185.5 553.3L187.7 552.9L189.9 552.4M194.3 551.5L196.5 551.1M220.7 547.4L222.9 547.1M187.7 632.8L189.9 633.3L192.1 633.8L194.3 634.2L196.5 634.6L198.7 635.0L200.9 635.4L203.1 635.8L205.3 636.1L207.5 636.5L209.7 636.8M211.9 637.1L214.1 637.4M218.5 638.0L220.7 638.3M181.7 556.1L183.9 555.5L186.1 555.0M190.4 554.0L192.6 553.5M194.8 553.0L197.0 552.6M203.6 551.3L205.8 550.9M214.6 549.5L216.8 549.2M219.0 548.9L221.2 548.6L223.4 548.3M183.9 630.2L186.1 630.7L188.3 631.2L190.4 631.7L192.6 632.2L194.8 632.7L197.0 633.1L199.2 633.6L201.4 634.0M203.6 634.4L205.8 634.8L208.0 635.1M210.2 635.5L212.4 635.9L214.6 636.2L216.8 636.5M219.0 636.8L221.2 637.1M182.3 557.9L184.5 557.3M191.0 555.6L193.1 555.1L195.3 554.6M219.5 550.1L221.7 549.8L223.9 549.4L226.1 549.1M180.2 627.2L182.3 627.8M184.5 628.4L186.6 629.0M197.5 631.6L199.7 632.1M215.1 634.9L217.3 635.3L219.5 635.6L221.7 635.9M182.9 559.7L185.0 559.1L187.2 558.4M189.3 557.8L191.5 557.2L193.7 556.7M206.7 553.7L208.9 553.3M224.3 550.7L226.5 550.3M178.6 624.5L180.7 625.3M182.9 626.0L185.0 626.6M219.9 634.4L222.1 634.7L224.3 635.0L226.5 635.4M179.2 563.2L181.3 562.4L183.4 561.7L185.6 561.0M189.8 559.6L192.0 559.0M196.3 557.8L198.5 557.2M224.7 551.9L226.9 551.5M177.1 621.7L179.2 622.5M181.3 623.3L183.4 624.0M187.7 625.4L189.8 626.1M192.0 626.7L194.2 627.3L196.3 627.9L198.5 628.5M200.7 629.0L202.8 629.5L205.0 630.0M207.2 630.5L209.4 631.0M218.1 632.7L220.3 633.1M222.5 633.4L224.7 633.8L226.9 634.2M177.8 566.2L179.8 565.3L181.9 564.5L184.0 563.7L186.1 562.9L188.2 562.2M190.4 561.5L192.5 560.8M194.6 560.1L196.8 559.5L198.9 558.9M225.1 553.2L227.3 552.8L229.5 552.4M177.8 619.5L179.8 620.4M181.9 621.2L184.0 622.0M192.5 624.9L194.6 625.6L196.8 626.2M225.1 632.5L227.3 632.9L229.5 633.3M176.4 569.4L178.4 568.4L180.5 567.5L182.5 566.6L184.6 565.7M186.7 564.9L188.8 564.1L190.9 563.4M193.0 562.6L195.1 561.9L197.3 561.3M199.4 560.6L201.6 560.0M227.7 554.1L229.9 553.7L232.1 553.3M178.4 617.3L180.5 618.2L182.5 619.1L184.6 620.0L186.7 620.8L188.8 621.6M193.0 623.1L195.1 623.8L197.3 624.4L199.4 625.1M201.6 625.7L203.7 626.3M225.5 631.2L227.7 631.6L229.9 632.0M179.1 570.8L181.1 569.8L183.1 568.8M187.2 567.0L189.3 566.2L191.4 565.3L193.5 564.6L195.6 563.8M228.1 555.4L230.3 555.0M175.2 612.7L177.1 613.8M181.1 615.9L183.1 616.9L185.2 617.8L187.2 618.7M189.3 619.5L191.4 620.4L193.5 621.1L195.6 621.9M197.7 622.6L199.9 623.3M176.0 575.6L177.9 574.4L179.8 573.3L181.8 572.2L183.8 571.1M187.8 569.2L189.9 568.3M192.0 567.4L194.0 566.6L196.1 565.8M177.9 611.3L179.8 612.4M181.8 613.5L183.8 614.6L185.8 615.6M189.9 617.4L192.0 618.3L194.0 619.1M228.4 628.9L230.6 629.4L232.8 629.8M176.9 578.4L178.8 577.1L180.6 575.9L182.6 574.7M184.5 573.6L186.5 572.5M188.5 571.5L190.5 570.5L192.5 569.5L194.6 568.6M196.6 567.8L198.7 566.9M230.9 557.7L233.1 557.2L235.3 556.8M175.1 606.0L176.9 607.3M178.8 608.6L180.6 609.8L182.6 611.0L184.5 612.1L186.5 613.2L188.5 614.2L190.5 615.2M198.7 618.8L200.8 619.5L202.9 620.3M205.0 621.0L207.2 621.8M222.2 626.0L224.4 626.5M228.8 627.5L230.9 628.0L233.1 628.5M176.2 582.7L177.9 581.3L179.7 579.9M181.5 578.6L183.4 577.3M185.2 576.1L187.2 574.9M191.1 572.8L193.1 571.8M177.9 604.4L179.7 605.8L181.5 607.1M183.4 608.4L185.2 609.6L187.2 610.8L189.1 611.9L191.1 612.9L193.1 613.9L195.1 614.9L197.2 615.8M199.2 616.7L201.3 617.6M231.3 626.6L233.4 627.1M175.9 587.5L177.4 585.9M179.0 584.3L180.7 582.9L182.4 581.4L184.2 580.1M186.1 578.8L187.9 577.5L189.8 576.3L191.8 575.2M193.8 574.1L195.7 573.1M199.8 571.1L201.8 570.2M233.8 560.0L235.9 559.5M174.4 596.5L175.9 598.2L177.4 599.8L179.0 601.4L180.7 602.8M182.4 604.3L184.2 605.6M187.9 608.2L189.8 609.4M206.0 617.2L208.1 618.0M178.8 589.3L180.3 587.6L181.9 586.0L183.5 584.4M185.2 583.0L187.0 581.6L188.8 580.2L190.6 579.0M198.4 574.4L200.4 573.4M234.1 561.5L236.2 561.0M176.1 592.8L177.4 594.7L178.8 596.4M180.3 598.1L181.9 599.7L183.5 601.3L185.2 602.7L187.0 604.1L188.8 605.5L190.6 606.7L192.5 608.0L194.4 609.1L196.4 610.2M202.4 613.3L204.4 614.3M231.9 623.6L234.1 624.2L236.2 624.7M180.5 592.8L181.8 591.0L183.2 589.3L184.7 587.6L186.3 586.1L188.0 584.6L189.7 583.1M191.5 581.7L193.3 580.4M195.2 579.1L197.1 577.9M230.1 564.2L232.2 563.6M234.4 563.0L236.6 562.5M180.5 592.8L181.8 594.7L183.2 596.4L184.7 598.1L186.3 599.6L188.0 601.1M189.7 602.6L191.5 604.0L193.3 605.3M195.2 606.6L197.1 607.8L199.0 608.9M232.2 622.1L234.4 622.7L236.6 623.2M186.2 591.1L187.6 589.3M189.2 587.7L190.8 586.1L192.5 584.7L194.2 583.2M196.0 581.9L197.9 580.6M201.6 578.1L203.6 577.0M234.7 564.6L236.9 564.0M184.8 592.8L186.2 594.6M187.6 596.4L189.2 598.0L190.8 599.6L192.5 601.0M230.4 619.8L232.6 620.5M234.7 621.1L236.9 621.7M189.2 592.8L190.6 591.1L192.1 589.4M193.6 587.8L195.3 586.2L197.0 584.8M224.4 569.8L226.5 569.0M189.2 592.8L190.6 594.6L192.1 596.3M193.6 597.9L195.3 599.5M202.4 605.0L204.3 606.2L206.2 607.4M232.9 618.8L235.0 619.5L237.2 620.1M195.0 591.1L196.5 589.4L198.1 587.8L199.7 586.3M226.9 570.9L229.0 570.1M237.5 567.2L239.6 566.6M195.0 594.6L196.5 596.3M199.7 599.4L201.4 600.8L203.2 602.2M235.4 617.8L237.5 618.5M197.9 592.8L199.4 591.1M200.9 596.2L202.5 597.8M204.2 599.3L205.9 600.7M235.7 616.0L237.8 616.8M238.2 570.7L240.3 570.0M236.1 614.2L238.2 615.0M224.3 579.1L226.3 578.0M236.5 573.4L238.5 572.5L240.6 571.7M236.5 612.3L238.5 613.2M236.9 575.3L238.9 574.5M233.3 606.3L235.3 607.3M226.4 586.8L228.2 585.4M237.8 606.1L239.8 607.1M230.8 586.8L232.6 585.5M238.3 581.9L240.3 580.8M239.0 584.4L240.9 583.2M237.1 600.1L239.0 601.3L240.9 602.5M237.9 588.3L239.7 587.0L241.5 585.7M239.7 598.7L241.5 600.0M238.8 591.3L240.5 589.8L242.3 588.4M240.5 595.9L242.3 597.3M198.5 592.8L195.0 594.7M202.8 592.8L199.3 594.7L195.9 596.5M202.8 592.8L199.3 591.0L195.9 589.2M200.0 596.5L196.7 598.3M196.7 587.4L193.5 585.5M211.6 592.8L207.8 594.7M197.5 600.2L194.4 602.0M211.6 592.8L207.8 591.0M215.9 592.8L212.1 594.7L208.4 596.5M215.9 592.8L212.1 591.0M208.4 589.2L204.9 587.4M220.3 592.8L216.3 594.7L212.6 596.5M220.3 592.8L216.3 591.0L212.6 589.2M209.0 587.4L205.5 585.5L202.3 583.7M224.7 592.8L220.6 594.7M216.7 596.5L213.0 598.3L209.5 600.2M206.2 602.0L203.0 603.8M220.6 591.0L216.7 589.2M213.0 587.4L209.5 585.5L206.2 583.7M224.9 594.7L220.9 596.5M217.1 598.3L213.5 600.2L210.1 602.0M203.7 605.7L200.7 607.5L197.9 609.3M229.0 592.8L224.9 591.0M220.9 589.2L217.1 587.4M213.5 585.5L210.1 583.7L206.9 581.9M203.7 580.0L200.7 578.2M233.4 592.8L229.1 594.7L225.1 596.5L221.2 598.3L217.5 600.2M214.0 602.0L210.7 603.8L207.5 605.7M204.4 607.5L201.5 609.3M225.1 589.2L221.2 587.4L217.5 585.5L214.0 583.7L210.7 581.9L207.5 580.0L204.4 578.2M196.0 572.7L193.4 570.9M233.4 594.7L229.2 596.5L225.3 598.3M221.5 600.2L218.0 602.0L214.5 603.8L211.3 605.7M205.1 609.3L202.3 611.2M237.8 592.8L233.4 591.0M225.3 587.4L221.5 585.5L218.0 583.7L214.5 581.9L211.3 580.0L208.1 578.2M205.1 576.4L202.3 574.5M237.7 594.7L233.4 596.5M229.4 598.3L225.5 600.2L221.9 602.0L218.4 603.8L215.0 605.7L211.8 607.5L208.8 609.3M205.8 611.2L203.0 613.0M237.7 591.0L233.4 589.2L229.4 587.4L225.5 585.5L221.9 583.7M218.4 581.9L215.0 580.0L211.8 578.2L208.8 576.4L205.8 574.5M203.0 572.7L200.3 570.9L197.7 569.0M237.6 596.5L233.5 598.3L229.5 600.2L225.8 602.0M218.8 605.7L215.5 607.5L212.4 609.3L209.4 611.2L206.5 613.0M203.7 614.8L201.1 616.7L198.5 618.5M237.6 589.2L233.5 587.4L229.5 585.5L225.8 583.7L222.2 581.9L218.8 580.0L215.5 578.2L212.4 576.4M196.0 565.4L193.6 563.5M237.6 598.3L233.5 600.2M229.7 602.0L226.1 603.8L222.6 605.7M219.2 607.5L216.0 609.3M213.0 611.2L210.0 613.0L207.2 614.8M199.3 620.3L196.9 622.2M237.6 587.4L233.5 585.5L229.7 583.7L226.1 581.9L222.6 580.0L219.2 578.2L216.0 576.4L213.0 574.5L210.0 572.7L207.2 570.9M204.5 569.0L201.8 567.2M237.5 600.2L233.6 602.0L229.9 603.8L226.3 605.7L222.9 607.5L219.7 609.3L216.5 611.2L213.5 613.0M237.5 585.5L233.6 583.7L229.9 581.9L226.3 580.0M222.9 578.2L219.7 576.4L216.5 574.5L213.5 572.7L210.6 570.9M205.2 567.2L202.6 565.4L200.1 563.5M237.6 602.0L233.7 603.8L230.1 605.7L226.6 607.5L223.3 609.3L220.1 611.2L217.0 613.0L214.1 614.8L211.2 616.7L208.5 618.5L205.9 620.3M203.3 622.2L200.9 624.0M198.5 625.8L196.2 627.6M233.7 581.9L230.1 580.0L226.6 578.2L223.3 576.4M220.1 574.5L217.0 572.7M211.2 569.0L208.5 567.2M237.6 603.8L233.9 605.7L230.3 607.5L226.9 609.3L223.7 611.2L220.5 613.0L217.5 614.8L214.6 616.7L211.8 618.5L209.1 620.3M233.9 580.0L230.3 578.2M223.7 574.5L220.5 572.7L217.5 570.9L214.6 569.0M206.6 563.5L204.1 561.7M201.6 559.9L199.3 558.1" stroke="rgb(255,70,70)" stroke-opacity="0.2" stroke-width="1.1" fill="none"/><path d="M50.8 611.7h1.7v1.7h-1.7zM52.0 618.2h1.7v1.7h-1.7zM64.3 554.2h1.7v1.7h-1.7zM78.2 634.8h1.7v1.7h-1.7zM84.8 550.4h1.7v1.7h-1.7zM70.5 592.0h1.7v1.7h-1.7zM72.0 598.4h1.7v1.7h-1.7zM250.4 633.4h1.5v1.5h-1.5zM256.9 559.1h1.5v1.5h-1.5zM251.4 552.5h1.5v1.5h-1.5zM221.2 647.2h1.5v1.5h-1.5zM248.4 634.5h1.5v1.5h-1.5zM219.0 644.6h1.5v1.5h-1.5zM253.2 629.4h1.5v1.5h-1.5zM235.9 637.3h1.5v1.5h-1.5zM254.7 573.0h1.5v1.5h-1.5zM225.4 644.5h1.5v1.5h-1.5zM255.0 608.8h1.5v1.5h-1.5zM245.5 553.0h1.5v1.5h-1.5zM258.8 571.9h1.5v1.5h-1.5zM262.4 616.9h1.5v1.5h-1.5zM258.9 572.1h1.5v1.5h-1.5zM252.2 554.0h1.5v1.5h-1.5zM245.9 626.9h1.5v1.5h-1.5zM261.8 577.7h1.5v1.5h-1.5zM251.2 616.7h1.5v1.5h-1.5zM259.6 605.1h1.5v1.5h-1.5zM214.6 647.2h1.5v1.5h-1.5zM231.2 643.3h1.5v1.5h-1.5zM254.1 566.5h1.5v1.5h-1.5zM261.3 583.2h1.5v1.5h-1.5zM221.7 539.4h1.5v1.5h-1.5z" fill="rgb(45,45,255)" fill-opacity="0.3"/><path d="M109.9 651.2L112.3 651.3M92.6 645.9L94.8 646.4M106.1 648.1L108.4 648.4L110.6 648.6M115.1 649.0L117.3 649.2M137.9 650.5L140.6 650.6M127.1 537.7L129.4 537.5M72.9 563.8L74.1 562.0M78.5 556.9L80.2 555.3M138.1 538.4L140.4 538.2M149.3 537.5L151.5 537.4M144.8 647.9L147.1 648.0M139.6 539.8L141.8 539.5L144.0 539.3M137.3 645.7L139.6 645.9L141.8 646.2M138.3 644.3L140.5 644.6M102.1 553.5L104.1 552.4M136.7 543.1L138.9 542.7L141.1 542.4L143.4 542.0M138.9 643.0L141.1 643.3M137.2 544.5L139.4 544.1M204.1 537.9L206.5 537.8L209.1 537.6M137.2 641.2L139.4 641.6L141.7 642.0M204.1 647.8L206.5 647.9M89.3 578.2L90.3 576.2M134.1 547.4L136.3 546.9L138.5 546.4L140.7 545.9M196.2 539.4L198.4 539.2M205.1 538.8L207.3 538.7M205.1 646.9L207.3 647.0L209.5 647.1L211.8 647.3M139.7 548.3L141.9 547.8M201.7 540.1L203.9 539.9M206.1 539.8L208.4 539.6M100.4 616.6L101.9 618.3M137.5 636.8L139.7 637.4M141.9 637.9L144.1 638.4M199.5 645.5L201.7 645.6M136.4 551.6L138.6 551.0L140.8 550.4L143.0 549.8L145.1 549.2M200.5 541.3L202.7 541.1L204.9 540.9L207.1 540.8M136.4 634.1L138.6 634.7M200.5 644.4L202.7 644.6L204.9 644.8M207.1 644.9L209.3 645.1M135.4 554.7L137.5 553.9L139.7 553.2L141.8 552.5L144.0 551.8M201.3 542.4L203.5 542.2L205.8 542.0L208.0 541.8M210.2 541.6L212.4 541.4M216.8 541.1L219.1 540.9M133.3 630.2L135.4 631.0L137.5 631.8M139.7 632.5L141.8 633.2M201.3 643.3L203.5 643.5L205.8 643.7M136.5 557.1L138.6 556.2M134.4 627.7L136.5 628.6L138.6 629.5L140.7 630.3M204.3 642.4L206.6 642.7L208.8 642.9M133.5 561.6L135.5 560.6M139.6 558.7L141.7 557.8M213.9 543.5L216.1 543.3M114.5 608.5L115.9 610.3M211.7 642.0L213.9 642.2L216.1 642.4M136.6 563.3L138.6 562.2M142.7 560.2L144.7 559.3M137.7 566.1L139.7 564.9M141.6 563.8L143.6 562.8M224.1 544.7L226.3 544.5M137.7 619.6L139.7 620.8L141.6 621.9M215.2 640.0L217.4 640.3L219.6 640.5M221.8 640.8L224.1 641.0M137.1 570.3L138.9 569.0M222.4 546.0L224.6 545.8L226.8 545.5L229.0 545.3M137.1 615.4L138.9 616.7M140.8 618.0L142.7 619.1M136.7 574.9L138.4 573.4L140.1 572.0M222.9 547.1L225.1 546.9M135.0 609.3L136.7 610.8L138.4 612.3M222.9 638.6L225.1 638.8L227.4 639.1M138.1 578.2L139.7 576.6L141.4 575.1M227.8 547.7L230.1 547.4M136.6 605.9L138.1 607.5L139.7 609.1L141.4 610.6M221.2 637.1L223.4 637.4L225.6 637.7M230.1 638.3L232.3 638.5M134.5 588.9L135.7 587.0M138.3 583.4L139.7 581.6L141.2 580.0M226.1 549.1L228.3 548.8M134.5 596.8L135.7 598.7L136.9 600.6M138.3 602.3L139.7 604.1L141.2 605.7M223.9 636.3L226.1 636.6M136.8 592.8L137.8 590.9L138.9 588.9L140.1 587.0L141.4 585.2M226.5 550.3L228.7 550.0M230.9 549.7L233.1 549.4M137.8 594.8L138.9 596.8M140.1 598.7L141.4 600.5L142.8 602.2M235.3 636.6L237.6 636.9M141.2 592.8L142.2 590.9M229.1 551.2L231.3 550.9M226.9 634.2L229.1 634.5L231.3 634.8M236.1 551.4L238.3 551.1L240.5 550.7M229.5 633.3L231.7 633.6M232.1 632.4L234.3 632.8M238.7 633.5L240.9 633.8M236.8 553.8L239.0 553.4M230.3 630.7L232.4 631.1M236.8 631.9L239.0 632.3M232.8 555.9L235.0 555.5M235.3 556.8L237.5 556.4L239.7 555.9M233.1 628.5L235.3 628.9M239.7 629.8L241.9 630.2L244.1 630.6M235.6 558.1L237.8 557.7L240.0 557.2M233.4 627.1L235.6 627.6M240.3 558.6L242.5 558.1M233.8 625.7L235.9 626.2M240.6 560.0L242.8 559.5M245.0 559.0L247.1 558.5M238.4 625.2L240.6 625.7M240.9 561.4L243.1 560.9M236.6 623.2L238.7 623.8M243.1 624.8L245.2 625.3M241.2 562.9L243.3 562.3M239.0 622.3L241.2 622.8M243.3 623.4L245.5 623.9L247.7 624.4M237.2 565.6L239.3 565.0L241.5 564.4M248.0 623.0L250.1 623.5M239.6 566.6L241.8 565.9M237.5 618.5L239.6 619.1M243.9 620.4L246.1 621.0M240.0 568.2L242.1 567.6M244.2 566.9L246.4 566.3M237.8 616.8L240.0 617.5M246.7 567.9L248.8 567.2L250.9 566.6M238.2 615.0L240.3 615.7M242.4 616.5L244.5 617.2M248.8 618.5L250.9 619.1M240.6 571.7L242.7 571.0L244.8 570.2L247.0 569.5M244.8 615.5L247.0 616.2M241.0 573.6L243.1 572.8M247.3 571.3L249.4 570.5M238.9 611.2L241.0 612.1L243.1 612.9L245.2 613.7M241.4 610.1L243.5 611.0L245.5 611.8M251.8 614.2L253.9 614.9M241.8 577.6L243.9 576.7M239.8 607.1L241.8 608.1M240.3 580.8L242.3 579.8M248.4 576.9L250.4 576.0L252.5 575.1M244.3 606.9L246.3 607.9M242.8 582.0L244.8 581.0M240.9 602.5L242.8 603.7L244.8 604.7M245.3 583.3L247.3 582.2M241.5 600.0L243.4 601.2M242.3 588.4L244.1 587.0L245.9 585.8L247.8 584.6M244.1 598.7L245.9 599.9L247.8 601.1M241.6 592.8L243.2 591.3M252.3 584.7L254.2 583.5M241.6 592.8L243.2 594.4M252.9 598.5L254.8 599.8M250.3 592.8L252.0 591.3M253.7 595.8L255.5 597.2M170.1 537.9L168.5 536.1M172.7 647.8L171.2 649.6L169.7 651.5M172.7 537.9L171.2 536.1L169.7 534.2M177.0 646.0L175.4 647.8L173.8 649.6L172.3 651.5M177.0 539.7L175.4 537.9M173.8 536.1L172.3 534.2M176.4 649.6L174.9 651.5M178.0 537.9L176.4 536.1" stroke="rgb(45,45,255)" stroke-opacity="0.3" stroke-width="1.1" fill="none"/><path d="M197.5 548.0L199.7 547.7M201.9 547.3L204.1 547.0M191.5 550.5L193.7 550.1L195.9 549.7M200.3 549.0L202.5 548.6L204.7 548.3L206.9 548.0L209.1 547.7L211.4 547.4M213.6 547.1L215.8 546.8M189.9 552.4L192.1 551.9L194.3 551.5M196.5 551.1L198.7 550.7L200.9 550.3L203.1 549.9M205.3 549.6L207.5 549.2L209.7 548.9L211.9 548.6L214.1 548.3L216.3 548.0L218.5 547.7M192.6 553.5L194.8 553.0M197.0 552.6L199.2 552.1L201.4 551.7L203.6 551.3M205.8 550.9L208.0 550.6M216.8 549.2L219.0 548.9M184.5 557.3L186.6 556.7L188.8 556.1L191.0 555.6M195.3 554.6L197.5 554.1M210.7 551.5L212.9 551.1L215.1 550.8M186.6 629.0L188.8 629.6L191.0 630.1L193.1 630.6L195.3 631.1L197.5 631.6M208.5 633.8L210.7 634.2L212.9 634.6L215.1 634.9M193.7 556.7L195.8 556.1L198.0 555.6L200.2 555.1L202.4 554.6M211.1 552.9L213.3 552.5M222.1 551.0L224.3 550.7M189.3 627.9L191.5 628.5L193.7 629.0L195.8 629.6L198.0 630.1L200.2 630.6L202.4 631.1L204.5 631.5M217.7 634.0L219.9 634.4M185.6 561.0L187.7 560.3L189.8 559.6M192.0 559.0L194.2 558.4L196.3 557.8M198.5 557.2L200.7 556.7L202.8 556.2L205.0 555.7L207.2 555.2M220.3 552.6L222.5 552.3L224.7 551.9M183.4 624.0L185.6 624.7L187.7 625.4M189.8 626.1L192.0 626.7M198.5 628.5L200.7 629.0M205.0 630.0L207.2 630.5M211.6 631.4L213.8 631.9L215.9 632.3M220.3 633.1L222.5 633.4M188.2 562.2L190.4 561.5M192.5 560.8L194.6 560.1M203.3 557.8L205.4 557.2L207.6 556.7M209.8 556.2L212.0 555.7L214.2 555.3M216.4 554.8L218.5 554.4M184.0 622.0L186.1 622.8M190.4 624.2L192.5 624.9M198.9 626.8L201.1 627.4L203.3 627.9M209.8 629.5L212.0 630.0M214.2 630.4L216.4 630.9M218.5 631.3L220.7 631.7M222.9 632.1L225.1 632.5M190.9 563.4L193.0 562.6M197.3 561.3L199.4 560.6M201.6 560.0L203.7 559.4L205.9 558.8L208.1 558.3M212.4 557.2L214.6 556.7M225.5 554.5L227.7 554.1M188.8 621.6L190.9 622.3L193.0 623.1M199.4 625.1L201.6 625.7M203.7 626.3L205.9 626.9M218.9 629.9L221.1 630.4M183.1 568.8L185.2 567.9L187.2 567.0M195.6 563.8L197.7 563.1L199.9 562.4L202.0 561.7L204.2 561.1M210.6 559.3L212.8 558.8L215.0 558.2L217.1 557.7L219.3 557.2M187.2 618.7L189.3 619.5M195.6 621.9L197.7 622.6M199.9 623.3L202.0 624.0L204.2 624.6L206.3 625.2M212.8 626.9L215.0 627.5M225.9 629.9L228.1 630.3L230.3 630.7M185.8 570.1L187.8 569.2M200.3 564.2L202.5 563.5L204.6 562.8L206.7 562.2L208.9 561.5L211.0 560.9L213.2 560.3M219.7 558.7L221.9 558.2M224.1 557.7L226.2 557.2M228.4 556.8L230.6 556.3M185.8 615.6L187.8 616.5L189.9 617.4M194.0 619.1L196.1 619.9L198.2 620.7L200.3 621.5M202.5 622.2L204.6 622.9L206.7 623.5L208.9 624.2L211.0 624.8L213.2 625.4L215.4 625.9M217.5 626.5L219.7 627.0M226.2 628.5L228.4 628.9M182.6 574.7L184.5 573.6M186.5 572.5L188.5 571.5M194.6 568.6L196.6 567.8M205.0 564.7L207.2 563.9L209.3 563.3M220.1 560.2L222.2 559.7M228.8 558.2L230.9 557.7M190.5 615.2L192.5 616.2L194.6 617.1L196.6 617.9L198.7 618.8M202.9 620.3L205.0 621.0M207.2 621.8L209.3 622.4L211.4 623.1M215.7 624.3L217.9 624.9M183.4 577.3L185.2 576.1M187.2 574.9L189.1 573.8L191.1 572.8M195.1 570.8L197.2 569.9L199.2 569.0L201.3 568.1L203.4 567.3M209.7 565.1L211.9 564.4M214.0 563.7L216.1 563.0M231.3 559.1L233.4 558.6M181.5 607.1L183.4 608.4M197.2 615.8L199.2 616.7M201.3 617.6L203.4 618.4M205.5 619.2L207.6 619.9M209.7 620.6L211.9 621.3M229.1 626.1L231.3 626.6M184.2 580.1L186.1 578.8M191.8 575.2L193.8 574.1M203.9 569.3L206.0 568.5M210.2 566.9L212.3 566.2M220.8 563.4L223.0 562.8M231.6 560.6L233.8 560.0M184.2 605.6L186.1 606.9L187.9 608.2M189.8 609.4L191.8 610.5M193.8 611.6L195.7 612.6L197.8 613.6L199.8 614.6M201.8 615.5L203.9 616.4M210.2 618.8L212.3 619.5M216.5 620.9L218.7 621.6L220.8 622.3M231.6 625.1L233.8 625.7M183.5 584.4L185.2 583.0M190.6 579.0L192.5 577.7M194.4 576.6L196.4 575.5L198.4 574.4M202.4 572.4L204.4 571.4M206.5 570.5L208.5 569.7M210.6 568.8L212.7 568.0M221.2 565.1L223.3 564.5M231.9 562.1L234.1 561.5M196.4 610.2L198.4 611.3L200.4 612.3L202.4 613.3M204.4 614.3L206.5 615.2L208.5 616.0L210.6 616.9L212.7 617.7L214.8 618.4M229.8 623.1L231.9 623.6M193.3 580.4L195.2 579.1M199.0 576.8L201.0 575.7L203.0 574.6M207.0 572.7L209.0 571.7L211.1 570.8L213.2 570.0M215.2 569.2L217.3 568.4M232.2 563.6L234.4 563.0M201.0 610.0L203.0 611.1M213.2 615.7L215.2 616.5M219.4 618.1L221.6 618.8M230.1 621.5L232.2 622.1M184.8 592.8L186.2 591.1M187.6 589.3L189.2 587.7M194.2 583.2L196.0 581.9M199.7 579.3L201.6 578.1M203.6 577.0L205.5 575.9L207.5 574.9L209.5 573.9L211.6 572.9L213.6 572.0M215.7 571.2L217.8 570.3M224.1 568.0L226.2 567.2M186.2 594.6L187.6 596.4M194.2 602.5L196.0 603.8L197.9 605.1L199.7 606.4M201.6 607.6L203.6 608.7L205.5 609.8L207.5 610.8L209.5 611.8M213.6 613.7L215.7 614.5M217.8 615.4L219.8 616.2L221.9 617.0M224.1 617.7L226.2 618.5M228.3 619.2L230.4 619.8M232.6 620.5L234.7 621.1M198.7 583.4L200.5 582.0L202.4 580.7M206.2 578.3L208.1 577.2M210.1 576.2L212.1 575.1L214.1 574.2M216.2 573.2L218.2 572.3M228.7 568.3L230.8 567.6M235.0 566.2L237.2 565.6M192.1 596.3L193.6 597.9M195.3 599.5L197.0 600.9L198.7 602.3L200.5 603.7M206.2 607.4L208.1 608.5L210.1 609.5M214.1 611.5L216.2 612.5M199.7 586.3L201.4 584.9L203.2 583.5L205.0 582.2L206.9 580.9L208.8 579.7M212.7 577.4L214.7 576.4L216.7 575.4M235.4 567.9L237.5 567.2M193.6 592.8L195.0 594.6M196.5 596.3L198.1 597.9M203.2 602.2L205.0 603.5M214.7 609.3L216.7 610.3M218.7 611.3L220.7 612.2M202.5 587.9L204.2 586.4L205.9 585.0M207.7 583.6L209.5 582.3M211.4 581.0L213.3 579.9M215.3 578.7L217.2 577.6M231.5 571.2L233.6 570.4L235.7 569.7L237.8 568.9L240.0 568.2M199.4 594.6L200.9 596.2M211.4 604.7L213.3 605.8L215.3 607.0M233.6 615.3L235.7 616.0M202.3 592.8L203.7 591.1M205.3 589.5L206.9 587.9L208.6 586.5M210.4 585.1L212.2 583.7L214.0 582.4L215.9 581.2M219.8 578.9L221.7 577.8M236.1 571.5L238.2 570.7M202.3 592.8L203.7 594.6L205.3 596.2L206.9 597.8M208.6 599.2L210.4 600.6L212.2 602.0M234.0 613.4L236.1 614.2M206.7 592.8L208.1 591.2M214.8 585.1L216.6 583.8M222.3 580.2L224.3 579.1M206.7 592.8L208.1 594.5L209.7 596.2L211.3 597.7M213.1 599.2L214.8 600.6M216.6 601.9L218.5 603.1M232.3 610.6L234.4 611.5M211.0 592.8L212.5 591.2L214.1 589.6M226.8 580.4L228.8 579.3M212.5 594.5L214.1 596.1M226.8 605.3L228.8 606.4M232.8 608.5L234.8 609.4L236.9 610.4M215.4 592.8L216.9 591.2L218.5 589.6M225.6 584.0L227.5 582.8M235.3 578.4L237.3 577.4L239.3 576.5L241.4 575.6M220.2 597.6L221.9 599.0M235.3 607.3L237.3 608.3M237.8 579.6L239.8 578.6L241.8 577.6M224.6 597.5L226.4 598.9L228.2 600.3M225.7 591.2L227.3 589.7M229.0 588.2L230.8 586.8M225.7 594.5L227.3 596.0L229.0 597.5M236.4 602.6L238.3 603.8M230.1 594.5L231.7 596.0L233.5 597.4M234.4 591.3L236.1 589.8L237.9 588.3M237.9 597.4L239.7 598.7M237.2 592.8L238.8 594.4M229.0 592.8L224.9 594.7M233.4 592.8L229.1 591.0M233.4 591.0L229.2 589.2L225.3 587.4M233.4 596.5L229.4 598.3M226.3 580.0L222.9 578.2" stroke="rgb(255,70,70)" stroke-opacity="0.3" stroke-width="1.1" fill="none"/><path d="M164.5 652.7L174.5 652.8M161.5 534.3L166.0 534.2M171.0 534.1L176.4 534.0M182.5 533.9L189.2 533.7M176.1 650.7L180.1 650.8M184.3 650.9L188.9 651.0M175.4 536.1L178.3 536.0L181.4 535.8M127.0 646.1L129.2 646.4M160.4 648.9L162.6 649.0L164.9 649.1M184.7 650.0L188.2 650.1M135.1 540.3L137.3 540.0L139.6 539.8M161.8 537.9L164.1 537.7M166.3 537.6L168.5 537.4M177.6 536.9L180.0 536.8M135.1 645.4L137.3 645.7M166.3 648.1L168.5 648.3M182.6 649.0L185.3 649.1M136.1 541.7L138.3 541.4M167.2 538.5L169.5 538.4M176.1 537.9L178.3 537.8M180.6 537.7L182.8 537.5M189.9 537.2L192.4 537.1L195.1 536.9M197.9 536.8L200.8 536.7M136.1 644.0L138.3 644.3M160.6 646.7L162.8 646.8M173.9 647.6L176.1 647.8L178.3 647.9M180.6 648.0L182.8 648.2M181.2 538.4L183.4 538.3M194.6 537.7L197.0 537.5M132.2 641.9L134.5 642.3L136.7 642.6L138.9 643.0M174.5 646.8L176.7 647.0M192.3 647.9L194.6 648.0M202.1 648.4L204.8 648.5M135.0 544.9L137.2 544.5M188.3 538.8L190.6 538.6M197.2 538.2L199.4 538.1L201.7 538.0M135.0 640.8L137.2 641.2M195.0 647.3L197.2 647.5M125.4 549.8L127.6 549.1M129.7 548.5L131.9 547.9M198.4 539.2L200.6 539.1M129.7 637.2L131.9 637.8L134.1 638.3M194.0 646.2L196.2 646.3M198.4 646.5L200.6 646.6M133.1 550.1L135.3 549.5L137.5 548.9M199.5 540.2L201.7 540.1M203.9 539.9L206.1 539.8M208.4 539.6L210.6 539.5M122.5 631.9L124.6 632.7M133.1 635.6L135.3 636.2L137.5 636.8M139.7 637.4L141.9 637.9M201.7 645.6L203.9 645.8L206.1 645.9L208.4 646.1M207.1 540.8L209.3 540.6M132.2 632.6L134.3 633.4M204.9 644.8L207.1 644.9M209.3 645.1L211.5 645.3M129.1 557.3L131.2 556.4M119.3 623.0L121.2 624.2M137.5 631.8L139.7 632.5M205.8 643.7L208.0 643.9L210.2 644.1L212.4 644.3L214.6 644.5M208.8 542.8L211.0 542.6L213.2 542.4L215.4 542.2L217.6 542.1M219.9 541.9L222.1 541.7M130.3 625.8L132.4 626.8M211.0 643.1L213.2 643.3M215.4 643.5L217.6 643.6L219.9 643.8M131.5 562.7L133.5 561.6M137.5 559.6L139.6 558.7M220.6 542.9L222.8 542.7L225.0 542.5M135.5 625.1L137.5 626.1L139.6 627.0M209.5 641.8L211.7 642.0M216.1 642.4L218.4 642.6L220.6 642.8L222.8 643.0L225.0 643.2M130.9 566.8L132.7 565.6M216.8 544.3L219.0 544.1L221.2 543.9M223.4 543.7L225.7 543.5L227.9 543.3M132.7 620.1L134.7 621.3M136.6 622.4L138.6 623.5M210.2 640.7L212.4 640.9L214.6 641.1L216.8 641.4L219.0 641.6L221.2 641.8L223.4 642.0M135.8 567.3L137.7 566.1M219.6 545.2L221.8 544.9M226.3 544.5L228.5 544.3M134.0 617.1L135.8 618.4L137.7 619.6M219.6 640.5L221.8 640.8M131.9 574.6L133.6 573.1L135.3 571.7M220.2 546.3L222.4 546.0M229.0 545.3L231.3 545.1M218.0 639.2L220.2 639.4L222.4 639.7L224.6 639.9L226.8 640.2M130.5 581.4L131.9 579.6L133.4 578.0L135.0 576.4L136.7 574.9M227.4 546.6L229.6 546.4L231.8 546.1L234.0 545.9M127.9 600.7L129.1 602.6M138.4 612.3L140.1 613.7M132.4 585.1L133.7 583.2M135.1 581.5L136.6 579.8M223.4 548.3L225.6 548.0M232.3 547.2L234.5 546.9M135.1 604.2L136.6 605.9M225.6 637.7L227.8 638.0L230.1 638.3M232.3 638.5L234.5 638.8M132.5 592.8L133.4 590.8L134.5 588.9M136.9 585.1L138.3 583.4M228.3 548.8L230.5 548.6M232.7 548.3L234.9 548.0M228.3 636.9L230.5 637.1L232.7 637.4L234.9 637.7L237.1 638.0M235.3 549.1L237.6 548.8M136.8 592.8L137.8 594.8M138.9 596.8L140.1 598.7M226.5 635.4L228.7 635.7L230.9 636.0M231.3 550.9L233.5 550.5M231.3 634.8L233.5 635.2M235.8 635.5L238.0 635.8M233.9 551.7L236.1 551.4M233.9 634.0L236.1 634.3L238.3 634.6M232.1 553.3L234.3 552.9M240.9 551.9L243.1 551.6M229.9 632.0L232.1 632.4M240.9 633.8L243.1 634.1M239.0 553.4L241.2 553.1L243.4 552.7M232.4 631.1L234.6 631.5L236.8 631.9M235.0 555.5L237.2 555.1M232.8 629.8L235.0 630.2L237.2 630.6L239.4 631.0M239.7 555.9L241.9 555.5L244.1 555.1M235.3 628.9L237.5 629.3L239.7 629.8M244.1 630.6L246.3 630.9M242.2 556.8L244.4 556.4M235.6 627.6L237.8 628.0M235.9 559.5L238.1 559.0L240.3 558.6M244.7 557.7L246.9 557.2M235.9 626.2L238.1 626.7M240.3 627.1L242.5 627.6M238.4 560.5L240.6 560.0M242.8 559.5L245.0 559.0M236.2 624.7L238.4 625.2M240.6 625.7L242.8 626.2M236.6 562.5L238.7 561.9M247.4 559.9L249.6 559.4M245.2 625.3L247.4 625.8M236.9 564.0L239.0 563.4M245.5 561.8L247.7 561.3M249.9 624.9L252.0 625.4M241.5 564.4L243.6 563.8M250.1 562.2L252.3 561.6M237.2 620.1L239.3 620.7L241.5 621.3L243.6 621.9M245.8 622.5L248.0 623.0M243.9 565.3L246.1 564.7M241.8 619.8L243.9 620.4M246.1 621.0L248.2 621.6M250.4 622.1L252.6 622.6M242.1 567.6L244.2 566.9M250.7 565.1L252.8 564.5M244.2 618.8L246.4 619.4L248.5 620.0M242.4 569.2L244.5 568.5L246.7 567.9M244.5 617.2L246.7 617.8L248.8 618.5M247.0 569.5L249.1 568.8M251.2 568.2L253.4 567.5M238.5 613.2L240.6 614.0L242.7 614.7L244.8 615.5M249.1 616.9L251.2 617.5M243.1 572.8L245.2 572.0M251.5 615.9L253.6 616.6M241.4 575.6L243.5 574.7L245.5 573.9L247.6 573.1L249.7 572.3M239.3 609.2L241.4 610.1M245.5 611.8L247.6 612.6M248.0 574.9L250.1 574.1M241.8 608.1L243.9 609.0M245.9 609.9L248.0 610.8M250.1 611.6L252.1 612.4M242.3 579.8L244.3 578.8M248.4 608.8L250.4 609.7M240.9 583.2L242.8 582.0M244.8 581.0L246.8 579.9M246.8 605.8L248.8 606.8L250.8 607.7L252.9 608.6M241.5 585.7L243.4 584.5L245.3 583.3M247.3 582.2L249.2 581.1L251.2 580.1M243.4 601.2L245.3 602.4M247.3 603.5L249.2 604.6M251.7 582.3L253.7 581.2M242.3 597.3L244.1 598.7M251.7 603.4L253.7 604.5L255.7 605.5M246.7 588.4L248.5 587.1M250.4 585.9L252.3 584.7M254.2 583.5L256.2 582.4M246.7 597.3L248.5 598.6M250.4 599.8L252.3 601.0L254.2 602.2M247.6 591.3L249.3 589.9M252.9 587.2L254.8 585.9L256.7 584.8M249.3 595.8L251.1 597.2M253.7 589.9L255.5 588.5M252.0 594.4L253.7 595.8M254.7 592.8L256.3 591.3" stroke="rgb(45,45,255)" stroke-opacity="0.4" stroke-width="1.1" fill="none"/><path d="M203.1 549.9L205.3 549.6M208.0 550.6L210.2 550.2M212.4 549.8L214.6 549.5M201.4 634.0L203.6 634.4M197.5 554.1L199.7 553.6M201.9 553.2L204.1 552.7L206.3 552.3M208.5 551.9L210.7 551.5M215.1 550.8L217.3 550.4L219.5 550.1M199.7 632.1L201.9 632.5L204.1 633.0L206.3 633.4L208.5 633.8M204.5 554.2L206.7 553.7M208.9 553.3L211.1 552.9M217.7 551.7L219.9 551.3L222.1 551.0M204.5 631.5L206.7 632.0L208.9 632.4L211.1 632.8L213.3 633.2L215.5 633.6M207.2 555.2L209.4 554.7L211.6 554.3M215.9 553.4L218.1 553.0L220.3 552.6M198.9 558.9L201.1 558.3L203.3 557.8M207.6 556.7L209.8 556.2M214.2 555.3L216.4 554.8M218.5 554.4L220.7 554.0M222.9 553.6L225.1 553.2M203.3 627.9L205.4 628.5L207.6 629.0M216.4 630.9L218.5 631.3M208.1 558.3L210.2 557.7L212.4 557.2M214.6 556.7L216.8 556.2M218.9 555.8L221.1 555.3L223.3 554.9L225.5 554.5M210.2 628.0L212.4 628.5M214.6 629.0L216.8 629.5L218.9 629.9M223.3 630.8L225.5 631.2M204.2 561.1L206.3 560.5L208.5 559.9L210.6 559.3M219.3 557.2L221.5 556.7M225.9 555.8L228.1 555.4M206.3 625.2L208.5 625.8M210.6 626.4L212.8 626.9M223.7 629.4L225.9 629.9M198.2 565.0L200.3 564.2M213.2 560.3L215.4 559.8L217.5 559.2M219.7 627.0L221.9 627.5L224.1 628.0M200.8 566.2L202.9 565.4M209.3 563.3L211.4 562.6M213.6 562.0L215.7 561.4L217.9 560.8L220.1 560.2M226.6 558.7L228.8 558.2M211.4 623.1L213.6 623.7L215.7 624.3M226.6 627.0L228.8 627.5M203.4 567.3L205.5 566.5M207.6 565.8L209.7 565.1M211.9 564.4L214.0 563.7M229.1 559.6L231.3 559.1M207.6 619.9L209.7 620.6M211.9 621.3L214.0 622.0M220.4 623.9L222.6 624.5M224.8 625.0L226.9 625.6M197.8 572.1L199.8 571.1M201.8 570.2L203.9 569.3M206.0 568.5L208.1 567.7L210.2 566.9M214.4 565.4L216.5 564.8M225.1 562.2L227.3 561.7M229.4 561.1L231.6 560.6M203.9 616.4L206.0 617.2M212.3 619.5L214.4 620.3M220.8 622.3L223.0 622.9M225.1 623.5L227.3 624.0M204.4 571.4L206.5 570.5M208.5 569.7L210.6 568.8M214.8 567.3L216.9 566.5M225.5 563.8L227.6 563.2L229.8 562.6L231.9 562.1M216.9 619.2L219.0 619.9M225.5 621.9L227.6 622.5M203.0 574.6L205.0 573.6L207.0 572.7M221.6 566.9L223.7 566.2M225.8 565.5L227.9 564.9L230.1 564.2M207.0 613.0L209.0 614.0L211.1 614.9L213.2 615.7M215.2 616.5L217.3 617.3M221.6 618.8L223.7 619.5L225.8 620.2M227.9 620.8L230.1 621.5M197.9 580.6L199.7 579.3M219.8 569.5L221.9 568.7M232.6 565.2L234.7 564.6M199.7 606.4L201.6 607.6M221.9 617.0L224.1 617.7M226.2 618.5L228.3 619.2M197.0 584.8L198.7 583.4M202.4 580.7L204.3 579.5L206.2 578.3M208.1 577.2L210.1 576.2M214.1 574.2L216.2 573.2M220.3 571.4L222.4 570.6M226.5 569.0L228.7 568.3M232.9 566.9L235.0 566.2M210.1 609.5L212.1 610.6M222.4 615.1L224.4 615.9M216.7 575.4L218.7 574.4M224.9 571.7L226.9 570.9M198.1 597.9L199.7 599.4M205.0 603.5L206.9 604.8M208.8 606.0L210.7 607.2L212.7 608.3M216.7 610.3L218.7 611.3M222.8 613.1L224.9 614.0M229.0 615.6L231.1 616.3M233.3 617.1L235.4 617.8M199.4 591.1L200.9 589.5M205.9 585.0L207.7 583.6M209.5 582.3L211.4 581.0M213.3 579.9L215.3 578.7M217.2 577.6L219.2 576.6M221.2 575.6L223.2 574.7M227.4 572.9L229.4 572.0M202.5 597.8L204.2 599.3M205.9 600.7L207.7 602.1M209.5 603.4L211.4 604.7M215.3 607.0L217.2 608.1L219.2 609.1L221.2 610.1L223.2 611.0L225.3 612.0M229.4 613.7L231.5 614.5M203.7 591.1L205.3 589.5M208.6 586.5L210.4 585.1M217.8 580.0L219.8 578.9M223.7 576.8L225.8 575.8L227.8 574.9L229.8 574.0L231.9 573.1L234.0 572.3M206.9 597.8L208.6 599.2M212.2 602.0L214.0 603.3M215.9 604.5L217.8 605.7M219.8 606.8L221.7 607.9M223.7 608.9L225.8 609.9M208.1 591.2L209.7 589.5M211.3 588.0L213.1 586.5M218.5 582.6L220.4 581.3L222.3 580.2M226.3 578.0L228.3 577.0M214.8 600.6L216.6 601.9M218.5 603.1L220.4 604.4M222.3 605.5L224.3 606.6M228.3 608.7L230.3 609.6L232.3 610.6M217.5 586.6L219.3 585.2M221.1 583.9L223.0 582.7M230.8 578.2L232.8 577.2L234.8 576.3L236.9 575.3M211.0 592.8L212.5 594.5M214.1 596.1L215.8 597.6M219.3 600.5L221.1 601.8M224.9 604.2L226.8 605.3M228.8 606.4L230.8 607.5L232.8 608.5M218.5 589.6L220.2 588.1L221.9 586.7L223.7 585.3L225.6 584.0M227.5 582.8L229.4 581.6M231.3 580.5L233.3 579.4M215.4 592.8L216.9 594.5M227.5 602.9L229.4 604.1M219.7 592.8L221.3 591.2L222.9 589.6M224.6 588.2L226.4 586.8M228.2 585.4L230.0 584.1M231.9 582.9L233.9 581.8M235.8 580.7L237.8 579.6M228.2 600.3L230.0 601.6M235.8 605.0L237.8 606.1M236.4 583.1L238.3 581.9M229.0 597.5L230.8 598.9M230.1 591.2L231.7 589.7L233.5 588.3L235.2 586.9L237.1 585.6M233.5 597.4L235.2 598.8" stroke="rgb(255,70,70)" stroke-opacity="0.4" stroke-width="1.1" fill="none"/><path d="M156.1 533.2L164.5 533.0M174.5 532.9L186.7 532.8M156.1 652.5L164.5 652.7M92.6 539.8L94.8 539.3M176.4 534.0L182.5 533.9M180.1 534.9L184.3 534.8M188.9 534.7L193.9 534.5M98.0 643.6L100.2 644.1M102.5 644.6L104.7 645.0M106.9 645.4L109.2 645.8M111.4 646.2L113.7 646.5M159.6 650.1L162.5 650.2M165.6 650.3L168.9 650.4M180.1 650.8L184.3 650.9M109.1 542.5L111.3 542.1M113.5 541.6L115.8 541.2M129.2 539.3L131.4 539.1M158.2 536.9L160.4 536.8L162.6 536.7M167.4 536.4L169.9 536.3M172.6 536.2L175.4 536.1M106.9 642.7L109.1 643.2M118.0 644.8L120.2 645.2M156.0 648.6L158.2 648.8L160.4 648.9M164.9 649.1L167.4 649.3L169.9 649.4M188.2 650.1L191.9 650.2M195.8 650.4L199.9 650.5M89.6 553.4L91.6 552.2M115.0 543.7L117.3 543.2M121.7 542.3L123.9 541.9L126.2 541.6M130.6 540.9L132.9 540.6L135.1 540.3M155.2 538.3L157.4 538.2M159.6 538.0L161.8 537.9M170.7 537.3L172.9 537.2L175.2 537.1M182.6 536.7L185.3 536.6L188.1 536.4L191.1 536.3M197.4 536.1L200.9 536.0M93.6 634.6L95.6 635.7M108.4 640.4L110.6 641.0M128.4 644.5L130.6 644.8M132.9 645.1L135.1 645.4M155.2 647.4L157.4 647.5L159.6 647.7M161.8 647.8L164.1 648.0M191.1 649.4L194.2 649.5M122.7 544.0L124.9 543.6M131.6 542.4L133.8 542.0L136.1 541.7M169.5 538.4L171.7 538.2L173.9 538.1L176.1 537.9M185.1 537.4L187.4 537.3M113.9 639.5L116.1 640.1L118.3 640.7M133.8 643.7L136.1 644.0M165.0 647.0L167.2 647.2M169.5 647.3L171.7 647.5L173.9 647.6M178.3 647.9L180.6 648.0M185.1 648.3L187.4 648.4M197.9 648.9L200.8 649.0M125.6 545.2L127.8 544.7M134.5 543.4L136.7 543.1M172.3 539.1L174.5 538.9M179.0 538.6L181.2 538.4M183.4 538.3L185.6 538.2M187.8 538.0L190.0 537.9L192.3 537.8L194.6 537.7M197.0 537.5L199.5 537.4M92.8 625.8L94.5 627.3L96.3 628.6M102.1 632.2L104.1 633.3M123.4 640.0L125.6 640.5M190.0 647.8L192.3 647.9M194.6 648.0L197.0 648.2M113.3 551.1L115.4 550.3M121.8 548.1L124.0 547.5M128.4 546.4L130.6 545.8L132.8 545.4M186.1 538.9L188.3 538.8M195.0 538.4L197.2 538.2M107.1 631.7L109.1 632.8M115.4 635.4L117.5 636.2L119.7 636.9L121.8 637.6M124.0 638.2L126.2 638.8L128.4 639.3M130.6 639.9L132.8 640.3M201.7 647.7L204.1 647.8M96.6 567.0L98.2 565.4M105.0 559.5L106.9 558.2M116.9 552.9L119.0 552.1M121.1 551.3L123.2 550.5M131.9 547.9L134.1 547.4M200.6 539.1L202.8 538.9M108.8 628.7L110.8 629.8M112.8 630.8L114.8 631.8M125.4 635.9L127.6 636.6M136.3 638.8L138.5 639.3M91.4 584.4L92.2 582.3M116.3 556.7L118.3 555.7L120.4 554.8L122.5 553.8M210.6 539.5L212.8 539.3M103.5 619.8L105.1 621.4M106.9 622.8L108.6 624.2M110.5 625.5L112.4 626.7M116.3 629.0L118.3 630.0M128.8 634.2L131.0 634.9L133.1 635.6M210.6 646.2L212.8 646.4L215.0 646.5M117.8 559.7L119.8 558.6M130.0 553.9L132.2 553.1M134.3 552.3L136.4 551.6M209.3 540.6L211.5 540.4L213.8 540.3M216.0 540.1L218.2 540.0M93.2 592.8L93.8 595.0M101.3 611.0L102.6 612.8M104.0 614.5L105.5 616.2M107.1 617.8L108.7 619.4M130.0 631.8L132.2 632.6M134.3 633.4L136.4 634.1M211.5 645.3L213.8 645.4M216.0 645.6L218.2 645.7M110.6 569.9L112.2 568.3M117.4 564.0L119.3 562.7M208.0 541.8L210.2 541.6M214.6 541.2L216.8 541.1M219.1 540.9L221.3 540.8M98.9 597.1L99.7 599.1M104.9 608.9L106.2 610.8M214.6 644.5L216.8 644.6L219.1 644.8M107.2 580.7L108.4 578.8L109.7 577.0M117.3 568.7L119.0 567.3L120.8 565.9M132.4 558.9L134.4 558.0L136.5 557.1M111.1 610.5L112.5 612.2L114.0 613.9M120.8 619.8L122.6 621.1M107.8 588.7L108.7 586.7L109.7 584.7M110.7 582.7L111.9 580.8M115.9 575.4L117.4 573.8M120.6 570.6L122.3 569.1M125.8 566.4L127.7 565.1L129.6 563.9L131.5 562.7M135.5 560.6L137.5 559.6M106.3 592.8L107.0 594.9M108.7 599.0L109.7 601.0M115.9 610.3L117.4 611.9M118.9 613.6L120.6 615.1M129.6 621.8L131.5 623.0M110.6 592.8L111.4 590.8M115.4 582.8L116.6 580.9L117.9 579.1L119.3 577.4L120.7 575.7L122.2 574.0L123.9 572.5M132.7 565.6L134.7 564.4L136.6 563.3M221.2 543.9L223.4 543.7M112.2 597.0L113.2 599.0M119.3 608.3L120.7 610.0M122.2 611.7L123.9 613.2L125.5 614.7L127.2 616.2M134.7 621.3L136.6 622.4M225.7 642.2L227.9 642.4M115.8 590.8L116.7 588.7M118.8 584.8L120.0 582.9M121.2 581.1L122.6 579.3L124.0 577.6M221.8 544.9L224.1 544.7M124.0 608.1L125.5 609.8M224.1 641.0L226.3 641.2L228.5 641.4M130.3 576.1L131.9 574.6M135.3 571.7L137.1 570.3M125.9 604.5L127.3 606.2L128.7 607.9M130.3 609.6L131.9 611.1M133.6 612.6L135.3 614.0L137.1 615.4M226.8 640.2L229.0 640.4M124.6 590.8L125.6 588.8M225.1 546.9L227.4 546.6M123.7 592.8L124.6 594.9L125.6 596.9M129.1 602.6L130.5 604.3L131.9 606.1M133.4 607.7L135.0 609.3M220.7 638.3L222.9 638.6M227.4 639.1L229.6 639.3M128.1 592.8L129.0 590.8M230.1 547.4L232.3 547.2M129.0 594.9L130.0 596.8L131.2 598.8M133.7 602.5L135.1 604.2M135.7 587.0L136.9 585.1M230.5 548.6L232.7 548.3M132.5 592.8L133.4 594.9L134.5 596.8M136.9 600.6L138.3 602.3M233.1 549.4L235.3 549.1M230.9 636.0L233.1 636.3L235.3 636.6M233.5 550.5L235.8 550.2L238.0 549.9L240.2 549.6M233.5 635.2L235.8 635.5M238.0 635.8L240.2 636.1M231.7 633.6L233.9 634.0M238.3 634.6L240.5 635.0M234.3 552.9L236.5 552.6M236.5 633.1L238.7 633.5M232.4 554.6L234.6 554.2M239.0 632.3L241.2 632.6L243.4 633.0M237.2 555.1L239.4 554.7L241.6 554.3L243.8 553.9L246.0 553.6M239.4 631.0L241.6 631.4M240.0 557.2L242.2 556.8M244.4 556.4L246.6 556.0M242.2 628.9L244.4 629.3L246.6 629.7M246.9 557.2L249.0 556.8M238.1 626.7L240.3 627.1M242.5 627.6L244.7 628.0L246.9 628.5M242.8 626.2L245.0 626.7L247.1 627.2M243.1 560.9L245.2 560.4M238.7 623.8L240.9 624.3L243.1 624.8M239.0 563.4L241.2 562.9M243.3 562.3L245.5 561.8M247.7 561.3L249.9 560.8M247.7 624.4L249.9 624.9M243.6 563.8L245.8 563.2L248.0 562.7M243.6 621.9L245.8 622.5M250.1 623.5L252.3 624.1M241.8 565.9L243.9 565.3M246.1 564.7L248.2 564.1L250.4 563.6M246.4 566.3L248.5 565.7L250.7 565.1M240.0 617.5L242.1 618.1L244.2 618.8M248.5 620.0L250.7 620.6L252.8 621.2M249.1 568.8L251.2 568.2M247.0 616.2L249.1 616.9M251.2 617.5L253.4 618.2M245.2 572.0L247.3 571.3M251.5 569.8L253.6 569.1M245.2 613.7L247.3 614.4L249.4 615.2L251.5 615.9M247.6 612.6L249.7 613.4M245.9 575.8L248.0 574.9M250.1 574.1L252.1 573.3M244.3 578.8L246.3 577.8L248.4 576.9M240.3 604.9L242.3 605.9L244.3 606.9M246.3 607.9L248.4 608.8M250.4 609.7L252.5 610.6M250.8 578.0L252.9 577.1M244.8 604.7L246.8 605.8M251.2 580.1L253.3 579.1L255.3 578.2M245.3 602.4L247.3 603.5M249.2 604.6L251.2 605.6L253.3 606.6L255.3 607.5M247.8 584.6L249.8 583.4L251.7 582.3M253.7 581.2L255.7 580.2M249.8 602.3L251.7 603.4M244.9 589.8L246.7 588.4M248.5 587.1L250.4 585.9M243.2 594.4L244.9 595.9M248.5 598.6L250.4 599.8M254.2 602.2L256.2 603.3M251.1 597.2L252.9 598.5M254.8 599.8L256.7 600.9M252.0 591.3L253.7 589.9M250.3 592.8L252.0 594.4M254.7 592.8L256.3 594.4" stroke="rgb(45,45,255)" stroke-opacity="0.5" stroke-width="1.1" fill="none"/><path d="M94.8 634.8h1.7v1.7h-1.7zM90.5 628.2h1.7v1.7h-1.7zM106.0 562.0h1.7v1.7h-1.7zM104.3 600.3h1.7v1.7h-1.7zM106.9 596.2h1.7v1.7h-1.7z" fill="rgb(45,45,255)" fill-opacity="0.5"/><path d="M213.3 552.5L215.5 552.1L217.7 551.7M211.6 554.3L213.8 553.8L215.9 553.4M209.4 631.0L211.6 631.4M215.9 632.3L218.1 632.7M220.7 554.0L222.9 553.6M212.0 630.0L214.2 630.4M216.8 556.2L218.9 555.8M212.4 628.5L214.6 629.0M221.1 630.4L223.3 630.8M221.5 556.7L223.7 556.3L225.9 555.8M217.1 628.0L219.3 628.5L221.5 629.0L223.7 629.4M217.5 559.2L219.7 558.7M226.2 557.2L228.4 556.8M215.4 625.9L217.5 626.5M224.1 628.0L226.2 628.5M211.4 562.6L213.6 562.0M222.2 559.7L224.4 559.2M217.9 624.9L220.1 625.5M224.4 626.5L226.6 627.0M216.1 563.0L218.3 562.4L220.4 561.8M226.9 560.1L229.1 559.6M216.1 622.7L218.3 623.3M222.6 624.5L224.8 625.0M226.9 625.6L229.1 626.1M212.3 566.2L214.4 565.4M216.5 564.8L218.7 564.1L220.8 563.4M212.7 568.0L214.8 567.3M216.9 566.5L219.0 565.8L221.2 565.1M223.3 564.5L225.5 563.8M219.0 619.9L221.2 620.6L223.3 621.2L225.5 621.9M227.6 622.5L229.8 623.1M213.2 570.0L215.2 569.2M217.3 568.4L219.4 567.6M217.3 617.3L219.4 618.1M225.8 620.2L227.9 620.8M213.6 572.0L215.7 571.2M221.9 568.7L224.1 568.0M228.3 566.5L230.4 565.9M222.4 570.6L224.4 569.8M230.8 567.6L232.9 566.9M212.1 610.6L214.1 611.5M216.2 612.5L218.2 613.4L220.3 614.3L222.4 615.1M224.4 615.9L226.5 616.7L228.7 617.4L230.8 618.1M218.7 574.4L220.7 573.5L222.8 572.6L224.9 571.7M229.0 570.1L231.1 569.4L233.3 568.6L235.4 567.9M220.7 612.2L222.8 613.1M224.9 614.0L226.9 614.8L229.0 615.6M231.1 616.3L233.3 617.1M219.2 576.6L221.2 575.6M223.2 574.7L225.3 573.7M229.4 572.0L231.5 571.2M225.3 612.0L227.4 612.8L229.4 613.7M231.5 614.5L233.6 615.3M215.9 581.2L217.8 580.0M221.7 577.8L223.7 576.8M234.0 572.3L236.1 571.5M214.0 603.3L215.9 604.5M217.8 605.7L219.8 606.8M221.7 607.9L223.7 608.9M225.8 609.9L227.8 610.8M213.1 586.5L214.8 585.1M216.6 583.8L218.5 582.6M228.3 577.0L230.3 576.1L232.3 575.1M234.4 574.2L236.5 573.4M220.4 604.4L222.3 605.5M224.3 606.6L226.3 607.7M234.4 611.5L236.5 612.3M214.1 589.6L215.8 588.1L217.5 586.6M223.0 582.7L224.9 581.5M215.8 597.6L217.5 599.1L219.3 600.5M221.1 601.8L223.0 603.0L224.9 604.2M216.9 594.5L218.5 596.1M223.7 600.4L225.6 601.7L227.5 602.9M231.3 605.2L233.3 606.3M230.0 584.1L231.9 582.9M233.9 581.8L235.8 580.7M219.7 592.8L221.3 594.5L222.9 596.1M233.9 603.9L235.8 605.0M224.1 592.8L225.7 591.2M227.3 589.7L229.0 588.2M232.6 585.5L234.5 584.3L236.4 583.1M230.8 598.9L232.6 600.2L234.5 601.4M228.5 592.8L230.1 594.5M235.2 598.8L237.1 600.1M232.8 592.8L234.4 591.3M232.8 592.8L234.4 594.4L236.1 595.9L237.9 597.4" stroke="rgb(255,70,70)" stroke-opacity="0.5" stroke-width="1.1" fill="none"/><path d="M49.9 578.9h1.7v1.7h-1.7zM53.1 592.0h1.7v1.7h-1.7zM64.3 566.5h1.7v1.7h-1.7zM82.1 546.8h1.7v1.7h-1.7zM88.4 544.0h1.7v1.7h-1.7zM74.9 616.9h1.7v1.7h-1.7zM80.2 624.1h1.7v1.7h-1.7zM85.1 628.8h1.7v1.7h-1.7zM90.5 555.8h1.7v1.7h-1.7zM100.2 634.0h1.7v1.7h-1.7zM78.4 604.8h1.7v1.7h-1.7zM90.5 565.7h1.7v1.7h-1.7zM100.4 627.4h1.7v1.7h-1.7zM86.7 581.4h1.7v1.7h-1.7zM89.5 575.4h1.7v1.7h-1.7zM89.5 608.6h1.7v1.7h-1.7zM96.0 602.4h1.7v1.7h-1.7zM99.7 600.3h1.7v1.7h-1.7z" fill="rgb(45,45,255)" fill-opacity="0.6"/><path d="M67.1 542.2L69.2 541.1M75.9 538.7L78.1 538.1M82.7 537.2L85.0 536.8M103.2 534.9L105.4 534.8M112.3 534.4L114.9 534.3M73.6 646.3L75.9 647.0M80.4 648.1L82.7 648.5M117.8 651.6L120.9 651.7M174.5 652.8L186.7 652.9M85.9 541.5L88.1 540.8M103.8 537.9L106.1 537.6M110.6 537.1L112.9 536.9L115.1 536.7M133.0 535.4L135.4 535.3M166.0 534.2L171.0 534.1M97.1 646.8L99.3 647.2L101.6 647.5M110.6 648.6L112.9 648.8L115.1 649.0M133.0 650.3L135.4 650.4M143.5 650.7L146.6 650.9M157.3 651.2L161.5 651.4M166.0 651.5L171.0 651.6L176.4 651.7M182.5 651.8L189.2 652.0M80.9 548.8L82.9 547.6M95.8 542.7L98.0 542.1M102.5 541.1L104.7 540.7M106.9 540.3L109.2 539.9L111.4 539.5M115.9 538.9L118.2 538.6M120.4 538.4L122.6 538.1M131.6 537.3L133.8 537.1M136.1 537.0L138.3 536.8L140.5 536.7M154.3 535.9L156.9 535.8M172.4 535.2L176.1 535.0L180.1 534.9M184.3 534.8L188.9 534.7M91.4 641.6L93.6 642.3M109.2 645.8L111.4 646.2M136.1 648.7L138.3 648.9M140.5 649.0L142.8 649.2M145.0 649.3L147.2 649.5L149.4 649.6M154.3 649.8L156.9 649.9L159.6 650.1M172.4 650.5L176.1 650.7M188.9 651.0L193.9 651.2M118.0 540.9L120.2 540.5M127.0 539.6L129.2 539.3M133.7 538.8L135.9 538.6L138.1 538.4M151.5 537.4L153.7 537.2M181.4 535.8L184.7 535.7M188.2 535.6L191.9 535.5L195.8 535.3M85.6 634.5L87.6 635.6M102.4 641.5L104.7 642.1M109.1 643.2L111.3 643.6M115.8 644.5L118.0 644.8M122.5 645.5L124.7 645.8M142.6 647.7L144.8 647.9M178.3 649.7L181.4 649.9M191.9 650.2L195.8 650.4M91.6 552.2L93.6 551.1M99.8 548.2L101.9 547.4M108.4 545.3L110.6 544.7M112.8 544.2L115.0 543.7M117.3 543.2L119.5 542.7L121.7 542.3M128.4 541.2L130.6 540.9M157.4 538.2L159.6 538.0M168.5 537.4L170.7 537.3M180.0 536.8L182.6 536.7M191.1 536.3L194.2 536.2M200.9 536.0L204.5 535.8M97.7 636.6L99.8 637.5L101.9 638.3M117.3 642.5L119.5 643.0M121.7 643.4L123.9 643.8L126.2 644.1M130.6 644.8L132.9 645.1M152.9 647.2L155.2 647.4M159.6 647.7L161.8 647.8M170.7 648.4L172.9 648.5L175.2 648.6L177.6 648.8M180.0 648.9L182.6 649.0M185.3 649.1L188.1 649.3L191.1 649.4M194.2 649.5L197.4 649.6M200.9 649.7L204.5 649.9M80.7 568.1L81.9 566.3M84.7 562.8L86.2 561.1M97.0 552.9L99.0 551.8M105.3 549.1L107.4 548.3M118.3 545.0L120.5 544.5L122.7 544.0M127.2 543.2L129.4 542.8M165.0 538.7L167.2 538.5M178.3 537.8L180.6 537.7M182.8 537.5L185.1 537.4M187.4 537.3L189.9 537.2M200.8 536.7L203.8 536.6M74.9 605.6L75.7 607.7M97.0 632.8L99.0 633.9M105.3 636.6L107.4 637.4M109.6 638.2L111.7 638.9M129.4 642.9L131.6 643.3M167.2 647.2L169.5 647.3M182.8 648.2L185.1 648.3M189.9 648.5L192.4 648.6M195.1 648.8L197.9 648.9M200.8 649.0L203.8 649.1M81.0 576.0L81.9 574.0M88.1 564.7L89.5 563.0M94.5 558.4L96.3 557.1M100.1 554.6L102.1 553.5M121.2 546.3L123.4 545.7M127.8 544.7L130.0 544.3M132.2 543.8L134.5 543.4M174.5 538.9L176.7 538.7L179.0 538.6M185.6 538.2L187.8 538.0M199.5 537.4L202.1 537.3L204.8 537.2M80.1 607.7L81.0 609.7M98.2 629.9L100.1 631.1M104.1 633.3L106.2 634.3M108.3 635.2L110.4 636.0L112.5 636.8L114.7 637.5M121.2 639.4L123.4 640.0M172.3 646.6L174.5 646.8M181.2 647.3L183.4 647.4L185.6 647.5L187.8 647.7M197.0 648.2L199.5 648.3M85.4 576.0L86.4 574.0M97.6 560.2L99.4 558.8L101.2 557.5M117.5 549.5L119.7 548.8M132.8 545.4L135.0 544.9M183.9 539.1L186.1 538.9M190.6 538.6L192.8 538.5L195.0 538.4M99.4 626.9L101.2 628.2M103.1 629.5L105.1 630.7M111.2 633.7L113.3 634.6M128.4 639.3L130.6 639.9M186.1 646.8L188.3 646.9M197.2 647.5L199.4 647.6L201.7 647.7M86.1 586.4L86.8 584.3M103.2 560.9L105.0 559.5M106.9 558.2L108.8 557.0M119.0 552.1L121.1 551.3M127.6 549.1L129.7 548.5M84.9 595.0L85.5 597.1M86.8 601.4L87.5 603.4M88.4 605.5L89.3 607.5M96.6 618.7L98.2 620.3M116.9 632.8L119.0 633.6L121.1 634.4M200.6 646.6L202.8 646.8M89.3 590.7L89.9 588.6M95.2 576.4L96.4 574.5L97.6 572.6M108.6 561.5L110.5 560.2M126.7 552.2L128.8 551.5L131.0 550.8L133.1 550.1M212.8 539.3L215.0 539.2M124.6 632.7L126.7 633.5M98.9 578.5L100.1 576.6L101.3 574.7M102.6 572.9L104.0 571.2M105.5 569.5L107.1 567.9M110.4 564.9L112.2 563.5M123.8 556.5L125.9 555.6L127.9 554.7M94.4 597.1L95.1 599.2L96.0 601.2M123.8 629.2L125.9 630.1M98.9 588.6L99.7 586.6L100.5 584.5M101.5 582.5L102.5 580.6M103.7 578.6L104.9 576.8L106.2 574.9M115.6 565.4L117.4 564.0M131.2 556.4L133.3 555.5L135.4 554.7M99.7 599.1L100.5 601.2M103.7 607.1L104.9 608.9M110.6 615.8L112.2 617.4M117.4 621.7L119.3 623.0M121.2 624.2L123.1 625.3M125.1 626.4L127.1 627.5L129.1 628.4M131.2 629.3L133.3 630.2M101.9 592.8L102.6 590.7M109.7 577.0L111.1 575.2M120.8 565.9L122.6 564.6L124.5 563.3L126.4 562.1M103.3 597.0L104.2 599.1M114.0 613.9L115.6 615.5L117.3 617.0M122.6 621.1L124.5 622.4M126.4 623.6L128.3 624.7M132.4 626.8L134.4 627.7M107.0 590.8L107.8 588.7M122.3 569.1L124.0 567.7M107.0 594.9L107.8 597.0M111.9 604.9L113.2 606.7M131.5 623.0L133.5 624.1L135.5 625.1M114.2 584.7L115.4 582.8M129.0 568.1L130.9 566.8M110.6 592.8L111.4 594.9L112.2 597.0M116.6 604.8L117.9 606.6M129.0 617.6L130.9 618.9L132.7 620.1M128.7 572.8L130.4 571.3M116.7 597.0L117.7 598.9L118.8 600.9M130.4 614.4L132.2 615.8L134.0 617.1M119.4 592.8L120.2 590.8L121.2 588.8M124.6 583.0L125.9 581.2L127.3 579.5L128.7 577.8M229.0 640.4L231.3 640.6M125.6 588.8L126.7 586.9M131.9 606.1L133.4 607.7M231.8 639.6L234.0 639.8M131.2 586.9L132.4 585.1M133.7 583.2L135.1 581.5M132.4 600.6L133.7 602.5M234.9 548.0L237.1 547.7M238.7 552.2L240.9 551.9M244.1 555.1L246.3 554.8M246.9 628.5L249.0 628.9M249.9 560.8L252.0 560.3M250.4 563.6L252.6 563.1M248.2 621.6L250.4 622.1M250.9 566.6L253.1 566.0M250.9 619.1L253.1 619.7M249.4 570.5L251.5 569.8M249.7 572.3L251.8 571.5M252.1 612.4L254.2 613.2M252.5 610.6L254.6 611.4M252.9 577.1L254.9 576.2" stroke="rgb(45,45,255)" stroke-opacity="0.6" stroke-width="1.1" fill="none"/><path d="M224.4 559.2L226.6 558.7M224.8 560.7L226.9 560.1M227.3 561.7L229.4 561.1M223.0 622.9L225.1 623.5M227.3 624.0L229.4 624.6M223.7 566.2L225.8 565.5M230.4 565.9L232.6 565.2M230.8 618.1L232.9 618.8M225.3 573.7L227.4 572.9M227.8 610.8L229.8 611.7L231.9 612.6L234.0 613.4M232.3 575.1L234.4 574.2M228.8 579.3L230.8 578.2M229.4 581.6L231.3 580.5M229.4 604.1L231.3 605.2M222.9 596.1L224.6 597.5M224.1 592.8L225.7 594.5M228.5 592.8L230.1 591.2" stroke="rgb(255,70,70)" stroke-opacity="0.6" stroke-width="1.1" fill="none"/><path d="M49.2 585.4h1.7v1.7h-1.7zM52.0 565.8h1.7v1.7h-1.7zM48.7 592.0h1.7v1.7h-1.7zM49.2 598.6h1.7v1.7h-1.7zM54.0 585.5h1.7v1.7h-1.7zM76.4 543.9h1.7v1.7h-1.7zM54.0 598.5h1.7v1.7h-1.7zM60.9 624.0h1.7v1.7h-1.7zM57.4 592.0h1.7v1.7h-1.7zM60.1 579.1h1.7v1.7h-1.7zM61.9 572.7h1.7v1.7h-1.7zM67.4 560.6h1.7v1.7h-1.7zM76.3 550.5h1.7v1.7h-1.7zM57.4 592.0h1.7v1.7h-1.7zM58.6 598.5h1.7v1.7h-1.7zM64.8 579.1h1.7v1.7h-1.7zM69.8 566.8h1.7v1.7h-1.7zM73.3 561.1h1.7v1.7h-1.7zM99.4 544.0h1.7v1.7h-1.7zM63.1 598.5h1.7v1.7h-1.7zM64.8 604.9h1.7v1.7h-1.7zM85.1 555.2h1.7v1.7h-1.7zM101.1 546.5h1.7v1.7h-1.7zM71.9 611.0h1.7v1.7h-1.7zM72.0 585.6h1.7v1.7h-1.7zM76.6 573.1h1.7v1.7h-1.7zM85.4 623.7h1.7v1.7h-1.7zM81.1 573.2h1.7v1.7h-1.7zM90.3 560.6h1.7v1.7h-1.7zM86.6 571.3h1.7v1.7h-1.7zM79.7 594.2h1.7v1.7h-1.7zM82.0 602.7h1.7v1.7h-1.7zM84.6 608.8h1.7v1.7h-1.7zM93.0 614.3h1.7v1.7h-1.7zM106.0 626.6h1.7v1.7h-1.7zM105.3 609.9h1.7v1.7h-1.7z" fill="rgb(45,45,255)" fill-opacity="0.7"/><path d="M85.0 536.8L87.3 536.5M89.6 536.2L91.9 535.9M94.1 535.7L96.4 535.4M98.7 535.2L100.9 535.1L103.2 534.9M117.8 534.1L120.9 534.0M75.9 647.0L78.1 647.6M82.7 648.5L85.0 648.9M87.3 649.2L89.6 649.5M94.1 650.0L96.4 650.3M105.4 650.9L107.7 651.1M114.9 651.4L117.8 651.6M83.6 542.1L85.9 541.5M108.4 537.3L110.6 537.1M115.1 536.7L117.3 536.5L119.6 536.3M126.3 535.8L128.5 535.7M143.5 535.0L146.6 534.8M149.9 534.7L153.4 534.6M157.3 534.5L161.5 534.3M79.3 641.9L81.5 642.8L83.6 643.6L85.9 644.2L88.1 644.9M121.8 649.6L124.1 649.7M126.3 649.9L128.5 650.0M135.4 650.4L137.9 650.5M161.5 651.4L166.0 651.5M93.6 543.4L95.8 542.7M100.2 541.6L102.5 541.1M142.8 536.5L145.0 536.4M147.2 536.2L149.4 536.1M156.9 535.8L159.6 535.6L162.5 535.5L165.6 535.4L168.9 535.3L172.4 535.2M77.2 634.3L79.0 635.7M82.9 638.1L85.0 639.1M118.2 647.1L120.4 647.3L122.6 647.6L124.9 647.8L127.1 648.0M168.9 650.4L172.4 650.5M83.7 552.5L85.6 551.2M111.3 542.1L113.5 541.6M115.8 541.2L118.0 540.9M124.7 539.9L127.0 539.6M140.4 538.2L142.6 538.0M153.7 537.2L156.0 537.1L158.2 536.9M162.6 536.7L164.9 536.6L167.4 536.4M169.9 536.3L172.6 536.2M184.7 535.7L188.2 535.6M89.6 636.7L91.7 637.7M111.3 643.6L113.5 644.1M129.2 646.4L131.4 646.6L133.7 646.9M138.1 647.3L140.4 647.5M147.1 648.0L149.3 648.2M153.7 648.5L156.0 648.6M169.9 649.4L172.6 649.5L175.4 649.6M77.0 566.1L78.2 564.2M84.2 557.5L86.0 556.1M93.6 551.1L95.6 550.0L97.7 549.1L99.8 548.2M175.2 537.1L177.6 536.9M194.2 536.2L197.4 536.1M101.9 638.3L104.1 639.1M115.0 642.0L117.3 642.5M119.5 643.0L121.7 643.4M148.5 646.8L150.7 647.0L152.9 647.2M164.1 648.0L166.3 648.1M168.5 648.3L170.7 648.4M177.6 648.8L180.0 648.9M101.1 550.8L103.2 549.9M109.6 547.5L111.7 546.8M124.9 543.6L127.2 543.2M129.4 542.8L131.6 542.4M160.6 539.0L162.8 538.9L165.0 538.7M195.1 536.9L197.9 536.8M84.7 622.9L86.2 624.6M93.2 630.4L95.1 631.6L97.0 632.8M103.2 635.8L105.3 636.6M118.3 640.7L120.5 641.2M127.2 642.5L129.4 642.9M187.4 648.4L189.9 648.5M192.4 648.6L195.1 648.8M110.4 549.7L112.5 548.9L114.7 548.2L116.8 547.5L119.0 546.9M130.0 544.3L132.2 543.8M86.7 619.2L88.1 621.0M106.2 634.3L108.3 635.2M125.6 640.5L127.8 641.0L130.0 641.4L132.2 641.9M176.7 647.0L179.0 647.1L181.2 647.3M187.8 647.7L190.0 647.8M199.5 648.3L202.1 648.4M80.1 592.8L80.5 590.7M105.1 555.0L107.1 554.0L109.1 552.9M111.2 552.0L113.3 551.1M115.4 550.3L117.5 549.5M119.7 548.8L121.8 548.1M201.7 538.0L204.1 537.9M80.1 592.8L80.5 595.0M81.6 599.3L82.2 601.4L82.9 603.5M83.6 605.6L84.5 607.7M88.7 615.5L89.9 617.3M95.9 624.0L97.6 625.5M109.1 632.8L111.2 633.7M113.3 634.6L115.4 635.4M121.8 637.6L124.0 638.2M183.9 646.6L186.1 646.8M188.3 646.9L190.6 647.1M84.9 590.7L85.5 588.6M95.2 568.7L96.6 567.0M98.2 565.4L99.8 563.8M101.4 562.3L103.2 560.9M108.8 557.0L110.8 555.9M123.2 550.5L125.4 549.8M202.8 538.9L205.1 538.8M103.2 624.8L105.0 626.2M110.8 629.8L112.8 630.8M114.8 631.8L116.9 632.8M202.8 646.8L205.1 646.9M90.6 586.5L91.4 584.4M101.9 567.4L103.5 565.9M110.5 560.2L112.4 559.0M122.5 553.8L124.6 553.0L126.7 552.2M89.3 595.0L89.9 597.1M90.6 599.2L91.4 601.3M92.2 603.4L93.1 605.4M126.7 633.5L128.8 634.2M97.8 580.4L98.9 578.5M104.0 571.2L105.5 569.5M107.1 567.9L108.7 566.3M114.0 562.1L115.9 560.9M121.8 557.5L123.8 556.5M102.6 612.8L104.0 614.5M110.4 620.8L112.2 622.2L114.0 623.6M119.8 627.1L121.8 628.2M109.0 571.5L110.6 569.9M119.3 562.7L121.2 561.5L123.1 560.4L125.1 559.3L127.1 558.2L129.1 557.3M97.5 592.8L98.2 595.0M109.0 614.2L110.6 615.8M112.2 617.4L113.9 618.9L115.6 620.3L117.4 621.7M123.1 625.3L125.1 626.4M129.1 628.4L131.2 629.3M105.1 584.6L106.1 582.6L107.2 580.7M111.1 575.2L112.5 573.5M126.4 562.1L128.3 561.0L130.3 559.9L132.4 558.9M106.1 603.1L107.2 605.0L108.4 606.9M109.7 608.7L111.1 610.5M119.0 618.4L120.8 619.8M128.3 624.7L130.3 625.8M124.0 567.7L125.8 566.4M109.7 601.0L110.7 603.0M113.2 606.7L114.5 608.5M122.3 616.6L124.0 618.0M127.7 620.6L129.6 621.8M111.4 590.8L112.2 588.7M125.5 571.0L127.2 569.5M113.2 599.0L114.2 601.0L115.4 602.9L116.6 604.8M117.9 606.6L119.3 608.3M127.2 616.2L129.0 617.6M120.0 582.9L121.2 581.1M125.5 575.9L127.1 574.3M130.4 571.3L132.2 569.9M115.8 594.9L116.7 597.0M118.8 600.9L120.0 602.8L121.2 604.6L122.6 606.4M125.5 609.8L127.1 611.4L128.7 612.9L130.4 614.4M128.7 577.8L130.3 576.1M119.4 592.8L120.2 594.9L121.2 596.9M122.2 598.9L123.3 600.8L124.6 602.7L125.9 604.5M128.7 607.9L130.3 609.6M123.7 592.8L124.6 590.8M127.9 585.0L129.1 583.1L130.5 581.4M125.6 596.9L126.7 598.8M129.0 590.8L130.0 588.9L131.2 586.9M131.2 598.8L132.4 600.6" stroke="rgb(45,45,255)" stroke-opacity="0.7" stroke-width="1.1" fill="none"/><path d="M48.7 592.0h1.7v1.7h-1.7zM59.3 636.7h1.7v1.7h-1.7zM53.1 592.0h1.7v1.7h-1.7zM68.8 549.1h1.7v1.7h-1.7zM56.5 611.5h1.7v1.7h-1.7zM84.1 638.2h1.7v1.7h-1.7zM63.1 585.5h1.7v1.7h-1.7zM79.3 554.5h1.7v1.7h-1.7zM90.8 547.2h1.7v1.7h-1.7zM61.8 592.0h1.7v1.7h-1.7zM67.0 611.1h1.7v1.7h-1.7zM73.3 622.9h1.7v1.7h-1.7zM99.4 640.0h1.7v1.7h-1.7zM66.1 592.0h1.7v1.7h-1.7zM69.5 579.2h1.7v1.7h-1.7zM78.8 561.6h1.7v1.7h-1.7zM67.6 598.4h1.7v1.7h-1.7zM69.5 604.8h1.7v1.7h-1.7zM105.4 638.9h1.7v1.7h-1.7zM85.4 560.3h1.7v1.7h-1.7zM98.2 551.0h1.7v1.7h-1.7zM77.6 612.9h1.7v1.7h-1.7zM81.1 610.8h1.7v1.7h-1.7zM84.6 587.7h1.7v1.7h-1.7zM83.6 592.0h1.7v1.7h-1.7zM98.9 621.1h1.7v1.7h-1.7zM98.1 614.0h1.7v1.7h-1.7zM92.3 592.0h1.7v1.7h-1.7zM94.3 585.7h1.7v1.7h-1.7zM100.4 573.9h1.7v1.7h-1.7zM92.9 594.1h1.7v1.7h-1.7zM103.3 585.8h1.7v1.7h-1.7z" fill="rgb(45,45,255)" fill-opacity="0.8"/><path d="M105.4 534.8L107.7 534.6M128.2 533.8L132.4 533.7M67.1 643.5L69.2 644.6M89.6 649.5L91.9 649.8M100.9 650.6L103.2 650.8L105.4 650.9M75.2 545.9L77.2 544.8M88.1 540.8L90.3 540.3L92.6 539.8M94.8 539.3L97.1 538.9L99.3 538.5L101.6 538.2M124.1 536.0L126.3 535.8M128.5 535.7L130.8 535.6L133.0 535.4M137.9 535.2L140.6 535.1M77.2 640.9L79.3 641.9M88.1 644.9L90.3 645.4L92.6 645.9M101.6 647.5L103.8 647.8L106.1 648.1M119.6 649.4L121.8 649.6M146.6 650.9L149.9 651.0M153.4 651.1L157.3 651.2M91.4 544.1L93.6 543.4M111.4 539.5L113.7 539.2M122.6 538.1L124.9 537.9M129.4 537.5L131.6 537.3M145.0 536.4L147.2 536.2M151.8 536.0L154.3 535.9M87.1 640.0L89.2 640.9M93.6 642.3L95.8 643.0M100.2 644.1L102.5 644.6M98.1 545.5L100.3 544.8M106.9 543.0L109.1 542.5M122.5 540.2L124.7 539.9M131.4 539.1L133.7 538.8M147.1 537.7L149.3 537.5M87.6 635.6L89.6 636.7M98.1 640.2L100.3 640.9M104.7 642.1L106.9 642.7M120.2 645.2L122.5 645.5M133.7 646.9L135.9 647.1L138.1 647.3M78.2 564.2L79.6 562.4M106.2 546.0L108.4 545.3M110.6 544.7L112.8 544.2M152.9 538.5L155.2 538.3M104.1 639.1L106.2 639.7M110.6 641.0L112.8 641.5M126.2 644.1L128.4 644.5M146.2 646.6L148.5 646.8M76.5 576.0L77.4 574.0M95.1 554.1L97.0 552.9M107.4 548.3L109.6 547.5M111.7 546.8L113.9 546.2L116.1 545.6M111.7 638.9L113.9 639.5M122.7 641.7L124.9 642.1M76.2 590.7L76.7 588.5M92.8 559.9L94.5 558.4M108.3 550.5L110.4 549.7M123.4 545.7L125.6 545.2M89.5 622.7L91.1 624.3M96.3 628.6L98.2 629.9M100.1 631.1L102.1 632.2M114.7 637.5L116.8 638.2L119.0 638.8L121.2 639.4M84.5 578.0L85.4 576.0M88.7 570.2L89.9 568.4M95.9 561.7L97.6 560.2M101.2 557.5L103.1 556.2L105.1 555.0M89.9 617.3L91.3 619.1M84.5 592.8L84.9 590.7M112.8 554.9L114.8 553.9M86.1 599.3L86.8 601.4M89.3 607.5L90.3 609.5M101.4 623.4L103.2 624.8M123.2 635.2L125.4 635.9M127.6 636.6L129.7 637.2M88.8 592.8L89.3 590.7M100.4 569.1L101.9 567.4M103.5 565.9L105.1 564.3L106.9 562.9M112.4 559.0L114.3 557.8L116.3 556.7M94.1 607.4L95.2 609.3M97.6 613.1L99.0 614.9M108.6 624.2L110.5 625.5M112.4 626.7L114.3 627.9L116.3 629.0M120.4 630.9L122.5 631.9M93.8 590.7L94.4 588.6M112.2 563.5L114.0 562.1M119.8 558.6L121.8 557.5M127.9 554.7L130.0 553.9M96.0 601.2L96.9 603.3M105.5 616.2L107.1 617.8M114.0 623.6L115.9 624.8L117.8 626.0M121.8 628.2L123.8 629.2M125.9 630.1L127.9 631.0L130.0 631.8M98.2 590.7L98.9 588.6M102.5 580.6L103.7 578.6M107.6 573.2L109.0 571.5M98.2 595.0L98.9 597.1M101.5 603.2L102.5 605.1L103.7 607.1M112.5 573.5L114.0 571.8L115.6 570.2L117.3 568.7M108.4 606.9L109.7 608.7M124.5 622.4L126.4 623.6M109.7 584.7L110.7 582.7M113.2 579.0L114.5 577.2M117.4 573.8L118.9 572.1L120.6 570.6M117.4 611.9L118.9 613.6M120.6 615.1L122.3 616.6M124.0 618.0L125.8 619.3L127.7 620.6M112.2 588.7L113.2 586.7M123.9 572.5L125.5 571.0M127.2 569.5L129.0 568.1M120.7 610.0L122.2 611.7M115.0 592.8L115.8 590.8M116.7 588.7L117.7 586.8L118.8 584.8M124.0 577.6L125.5 575.9M127.1 574.3L128.7 572.8M115.0 592.8L115.8 594.9M122.6 606.4L124.0 608.1M121.2 588.8L122.2 586.8L123.3 584.9M126.7 586.9L127.9 585.0" stroke="rgb(45,45,255)" stroke-opacity="0.8" stroke-width="1.1" fill="none"/><path d="M50.8 572.3h1.7v1.7h-1.7zM53.5 559.4h1.7v1.7h-1.7zM49.9 605.1h1.7v1.7h-1.7zM74.3 639.0h1.7v1.7h-1.7zM58.6 585.5h1.7v1.7h-1.7zM71.3 555.2h1.7v1.7h-1.7zM61.9 611.3h1.7v1.7h-1.7zM67.4 623.4h1.7v1.7h-1.7zM71.3 628.8h1.7v1.7h-1.7zM88.4 640.0h1.7v1.7h-1.7zM61.8 592.0h1.7v1.7h-1.7zM69.8 617.2h1.7v1.7h-1.7zM82.9 632.3h1.7v1.7h-1.7zM71.9 573.0h1.7v1.7h-1.7zM74.9 567.1h1.7v1.7h-1.7zM81.1 565.4h1.7v1.7h-1.7zM84.5 567.4h1.7v1.7h-1.7zM76.4 598.4h1.7v1.7h-1.7zM87.2 620.1h1.7v1.7h-1.7zM79.7 589.8h1.7v1.7h-1.7zM90.5 618.3h1.7v1.7h-1.7zM96.8 571.8h1.7v1.7h-1.7zM94.3 608.5h1.7v1.7h-1.7z" fill="rgb(45,45,255)" fill-opacity="0.9"/><path d="M73.6 539.4L75.9 538.7M78.1 538.1L80.4 537.6M87.3 536.5L89.6 536.2M91.9 535.9L94.1 535.7M96.4 535.4L98.7 535.2M142.7 533.4L148.9 533.3M69.2 644.6L71.4 645.5M78.1 647.6L80.4 648.1M85.0 648.9L87.3 649.2M112.3 651.3L114.9 651.4M132.4 652.0L137.2 652.2L142.7 652.3L148.9 652.4L156.1 652.5M79.3 543.8L81.5 542.9M119.6 536.3L121.8 536.1L124.1 536.0M135.4 535.3L137.9 535.2M140.6 535.1L143.5 535.0M146.6 534.8L149.9 534.7M94.8 646.4L97.1 646.8M124.1 649.7L126.3 649.9M98.0 542.1L100.2 541.6M104.7 540.7L106.9 540.3M133.8 537.1L136.1 537.0M140.5 536.7L142.8 536.5M95.8 643.0L98.0 643.6M104.7 645.0L106.9 645.4M113.7 646.5L115.9 646.8L118.2 647.1M127.1 648.0L129.4 648.2M131.6 648.4L133.8 648.6M138.3 648.9L140.5 649.0M95.9 546.3L98.1 545.5M104.7 543.6L106.9 543.0M91.7 637.7L93.8 638.6L95.9 639.4M113.5 644.1L115.8 644.5M146.2 539.1L148.5 538.9M150.7 538.7L152.9 538.5M89.6 632.3L91.6 633.5L93.6 634.6M87.9 559.6L89.6 558.1L91.3 556.6M103.2 549.9L105.3 549.1M107.4 637.4L109.6 638.2M89.5 563.0L91.1 561.4M96.3 557.1L98.2 555.8L100.1 554.6M106.2 551.4L108.3 550.5M94.3 563.2L95.9 561.7M97.6 625.5L99.4 626.9M99.8 563.8L101.4 562.3M105.0 626.2L106.9 627.5M89.9 588.6L90.6 586.5M93.1 580.3L94.1 578.3L95.2 576.4M105.1 621.4L106.9 622.8M97.5 592.8L98.2 590.7M106.2 574.9L107.6 573.2M112.2 568.3L113.9 566.8L115.6 565.4M102.6 590.7L103.3 588.7L104.2 586.6M101.9 592.8L102.6 595.0M104.2 599.1L105.1 601.1M106.3 592.8L107.0 590.8M110.7 603.0L111.9 604.9" stroke="rgb(45,45,255)" stroke-opacity="0.9" stroke-width="1.1" fill="none"/><path d="M55.8 553.1h1.7v1.7h-1.7zM53.5 624.6h1.7v1.7h-1.7zM55.8 630.9h1.7v1.7h-1.7zM55.1 579.0h1.7v1.7h-1.7zM56.5 572.5h1.7v1.7h-1.7zM58.4 566.1h1.7v1.7h-1.7zM60.9 560.0h1.7v1.7h-1.7zM58.4 617.9h1.7v1.7h-1.7zM64.3 629.8h1.7v1.7h-1.7zM68.8 634.9h1.7v1.7h-1.7zM60.1 604.9h1.7v1.7h-1.7zM64.3 617.5h1.7v1.7h-1.7zM67.0 572.9h1.7v1.7h-1.7zM77.7 628.0h1.7v1.7h-1.7zM67.6 585.6h1.7v1.7h-1.7zM66.1 592.0h1.7v1.7h-1.7zM74.0 579.2h1.7v1.7h-1.7zM70.5 592.0h1.7v1.7h-1.7zM74.8 606.8h1.7v1.7h-1.7zM74.9 592.0h1.7v1.7h-1.7zM76.4 585.6h1.7v1.7h-1.7zM74.9 592.0h1.7v1.7h-1.7zM81.3 583.4h1.7v1.7h-1.7zM91.4 581.5h1.7v1.7h-1.7z" fill="rgb(45,45,255)" fill-opacity="1.0"/><path d="M65.1 543.4L67.1 542.2M69.2 541.1L71.4 540.2L73.6 539.4M107.7 534.6L109.9 534.5L112.3 534.4M114.9 534.3L117.8 534.1M120.9 534.0L124.4 533.9L128.2 533.8M137.2 533.5L142.7 533.4M148.9 533.3L156.1 533.2M65.1 642.3L67.1 643.5M71.4 645.5L73.6 646.3M91.9 649.8L94.1 650.0M96.4 650.3L98.7 650.5L100.9 650.6M124.4 651.8L128.2 651.9M81.5 542.9L83.6 542.1M101.6 538.2L103.8 537.9M106.1 537.6L108.4 537.3M153.4 534.6L157.3 534.5M117.3 649.2L119.6 649.4M140.6 650.6L143.5 650.7M149.9 651.0L153.4 651.1M113.7 539.2L115.9 538.9M118.2 538.6L120.4 538.4M124.9 537.9L127.1 537.7M149.4 536.1L151.8 536.0M80.9 636.9L82.9 638.1M129.4 648.2L131.6 648.4M133.8 648.6L136.1 648.7M142.8 649.2L145.0 649.3M151.8 649.7L154.3 649.8M144.8 537.8L147.1 537.7M140.4 647.5L142.6 647.7M149.3 648.2L151.5 648.3L153.7 648.5M148.5 538.9L150.7 538.7M79.6 623.3L81.1 625.0M86.7 566.5L88.1 564.7M76.7 597.2L77.2 599.3M83.0 613.6L84.1 615.6M85.3 617.4L86.7 619.2M92.8 620.8L94.3 622.5" stroke="rgb(45,45,255)" stroke-opacity="1.0" stroke-width="1.1" fill="none"/></g>
<rect x="43.5" y="531.8" width="223.8" height="122.10000000000002" fill="none" stroke="#9a9a9a" stroke-width="0.8" />
<line x1="65.88" y1="531.8" x2="65.88" y2="533.8" stroke="#9a9a9a" stroke-width="0.7" />
<line x1="65.88" y1="653.9" x2="65.88" y2="651.9" stroke="#9a9a9a" stroke-width="0.7" />
<line x1="88.25999999999999" y1="531.8" x2="88.25999999999999" y2="533.8" stroke="#9a9a9a" stroke-width="0.7" />
<line x1="88.25999999999999" y1="653.9" x2="88.25999999999999" y2="651.9" stroke="#9a9a9a" stroke-width="0.7" />
<line x1="110.64" y1="531.8" x2="110.64" y2="533.8" stroke="#9a9a9a" stroke-width="0.7" />
<line x1="110.64" y1="653.9" x2="110.64" y2="651.9" stroke="#9a9a9a" stroke-width="0.7" />
<line x1="133.01999999999998" y1="531.8" x2="133.01999999999998" y2="533.8" stroke="#9a9a9a" stroke-width="0.7" />
<line x1="133.01999999999998" y1="653.9" x2="133.01999999999998" y2="651.9" stroke="#9a9a9a" stroke-width="0.7" />
<line x1="155.4" y1="531.8" x2="155.4" y2="533.8" stroke="#9a9a9a" stroke-width="0.7" />
<line x1="155.4" y1="653.9" x2="155.4" y2="651.9" stroke="#9a9a9a" stroke-width="0.7" />
<line x1="177.78" y1="531.8" x2="177.78" y2="533.8" stroke="#9a9a9a" stroke-width="0.7" />
<line x1="177.78" y1="653.9" x2="177.78" y2="651.9" stroke="#9a9a9a" stroke-width="0.7" />
<line x1="200.16" y1="531.8" x2="200.16" y2="533.8" stroke="#9a9a9a" stroke-width="0.7" />
<line x1="200.16" y1="653.9" x2="200.16" y2="651.9" stroke="#9a9a9a" stroke-width="0.7" />
<line x1="222.54" y1="531.8" x2="222.54" y2="533.8" stroke="#9a9a9a" stroke-width="0.7" />
<line x1="222.54" y1="653.9" x2="222.54" y2="651.9" stroke="#9a9a9a" stroke-width="0.7" />
<line x1="244.92" y1="531.8" x2="244.92" y2="533.8" stroke="#9a9a9a" stroke-width="0.7" />
<line x1="244.92" y1="653.9" x2="244.92" y2="651.9" stroke="#9a9a9a" stroke-width="0.7" />
<line x1="43.5" y1="592.8499999999999" x2="45.5" y2="592.8499999999999" stroke="#9a9a9a" stroke-width="0.7" />
<line x1="267.3" y1="592.8499999999999" x2="265.3" y2="592.8499999999999" stroke="#9a9a9a" stroke-width="0.7" />
<text x="43.5" y="666.6999999999999" font-size="10.5" text-anchor="middle" fill="#222" font-weight="normal" font-family='"Liberation Sans", sans-serif' stroke="#222" stroke-width="0.22" >0</text>
<text x="88.25999999999999" y="666.6999999999999" font-size="10.5" text-anchor="middle" fill="#222" font-weight="normal" font-family='"Liberation Sans", sans-serif' stroke="#222" stroke-width="0.22" >20</text>
<text x="133.01999999999998" y="666.6999999999999" font-size="10.5" text-anchor="middle" fill="#222" font-weight="normal" font-family='"Liberation Sans", sans-serif' stroke="#222" stroke-width="0.22" >40</text>
<text x="177.78" y="666.6999999999999" font-size="10.5" text-anchor="middle" fill="#222" font-weight="normal" font-family='"Liberation Sans", sans-serif' stroke="#222" stroke-width="0.22" >60</text>
<text x="222.54" y="666.6999999999999" font-size="10.5" text-anchor="middle" fill="#222" font-weight="normal" font-family='"Liberation Sans", sans-serif' stroke="#222" stroke-width="0.22" >80</text>
<text x="267.3" y="666.6999999999999" font-size="10.5" text-anchor="middle" fill="#222" font-weight="normal" font-family='"Liberation Sans", sans-serif' stroke="#222" stroke-width="0.22" >100</text>
<text x="39.2" y="536.4" font-size="10.5" text-anchor="end" fill="#222" font-weight="normal" font-family='"Liberation Sans", sans-serif' stroke="#222" stroke-width="0.22" >100</text>
<text x="39.2" y="597.4499999999999" font-size="10.5" text-anchor="end" fill="#222" font-weight="normal" font-family='"Liberation Sans", sans-serif' stroke="#222" stroke-width="0.22" >0</text>
<text x="39.2" y="658.4999999999999" font-size="10.5" text-anchor="end" fill="#222" font-weight="normal" font-family='"Liberation Sans", sans-serif' stroke="#222" stroke-width="0.22" >-100</text>
<text x="159.8" y="524" font-size="10" text-anchor="middle" fill="#222" font-weight="normal" font-family='"Liberation Sans", sans-serif' stroke="#222" stroke-width="0.22" >chr22 (+) strand DRIP peaks</text>
<text x="155.4" y="680.6999999999999" font-size="10.5" text-anchor="middle" fill="#222" font-weight="normal" font-family='"Liberation Sans", sans-serif' stroke="#222" stroke-width="0.22" >%GC</text>
<text x="14.5" y="592.8499999999999" font-size="10.5" text-anchor="middle" fill="#222" font-weight="normal" font-family='"Liberation Sans", sans-serif' transform="rotate(-90 14.5 592.8499999999999)" stroke="#222" stroke-width="0.22" >GC% skew</text>
<text x="248.5" y="547" font-size="10.5" text-anchor="middle" fill="#ff2020" font-weight="normal" font-family='"Liberation Sans", sans-serif' stroke="#ff2020" stroke-width="0.22" >G bias</text>
<clipPath id="ec1"><rect x="47.0" y="714.2" width="220.8" height="121.09999999999991"/></clipPath><g clip-path="url(#ec1)"><path d="M163.8 830.4L166.1 830.5M163.0 720.3L165.2 720.1M171.9 719.7L174.1 719.6M142.9 827.5L145.1 827.7M171.9 829.8L174.1 829.9M150.5 722.5L152.7 722.3M154.9 722.1L157.2 721.8M148.3 826.7L150.5 827.0L152.7 827.2L154.9 827.4M159.4 827.9L161.6 828.1M151.0 723.6L153.3 723.4L155.5 723.1M157.7 722.9L159.9 722.6L162.2 722.4L164.4 722.2M166.6 722.0L168.8 721.8L171.1 721.6M146.6 825.3L148.8 825.6L151.0 825.9L153.3 826.1L155.5 826.4L157.7 826.6L159.9 826.9L162.2 827.1L164.4 827.3L166.6 827.5L168.8 827.7L171.1 827.9L173.3 828.0M122.8 730.8L125.0 730.2M149.2 725.1L151.5 724.8L153.7 724.5L155.9 724.2M160.4 723.7L162.6 723.4M167.1 723.0L169.3 722.7L171.5 722.5M129.3 820.5L131.5 821.0M147.0 824.0L149.2 824.4L151.5 824.7L153.7 825.0L155.9 825.3M160.4 825.8L162.6 826.1M164.8 826.3L167.1 826.5M169.3 826.8L171.5 827.0M175.9 827.3L178.2 827.5M180.4 827.7L182.6 827.9M141.6 728.5L143.8 728.0M150.4 726.8L152.6 726.4L154.9 726.1M157.1 725.7L159.3 725.4L161.5 725.1M163.7 724.8L166.0 724.6L168.2 724.3M141.6 821.0L143.8 821.5M146.0 821.9L148.2 822.3L150.4 822.7L152.6 823.1L154.9 823.4M157.1 823.8L159.3 824.1M163.7 824.7L166.0 824.9M170.4 825.5L172.6 825.7L174.9 825.9M183.8 826.7L186.0 826.9L188.2 827.1M208.2 828.5L210.4 828.6M147.1 729.4L149.3 728.9L151.5 728.5M153.7 728.1L155.9 727.7M158.1 727.3L160.3 726.9M162.6 726.6L164.8 726.3L167.0 726.0M169.2 725.7L171.4 725.4M151.5 821.0L153.7 821.4L155.9 821.8L158.1 822.2L160.3 822.6L162.6 822.9M167.0 823.5L169.2 823.8M173.7 824.4L175.9 824.6M180.3 825.1L182.5 825.4M184.8 825.6L187.0 825.8L189.2 826.0M193.6 826.4L195.9 826.6L198.1 826.7M143.7 732.4L145.9 731.8M148.1 731.3L150.3 730.8L152.5 730.3L154.7 729.8L156.9 729.4L159.1 728.9L161.3 728.5L163.5 728.2M170.1 727.1L172.3 726.8M148.1 818.2L150.3 818.7L152.5 819.2L154.7 819.7M159.1 820.6L161.3 821.0M163.5 821.3L165.7 821.7M167.9 822.1L170.1 822.4M176.8 823.3L179.0 823.6L181.2 823.9M183.4 824.1L185.7 824.4M190.1 824.8L192.3 825.0L194.5 825.3L196.8 825.5M199.0 825.7L201.2 825.8M214.5 826.9L216.7 827.0M149.0 733.3L151.2 732.7L153.4 732.1L155.5 731.6M166.5 729.4L168.8 729.0M173.2 728.2L175.4 727.9M132.0 810.3L134.1 811.2M149.0 816.2L151.2 816.8L153.4 817.4L155.5 817.9M159.9 818.9L162.1 819.3M166.5 820.1L168.8 820.5L171.0 820.9L173.2 821.3L175.4 821.6M184.3 822.8L186.5 823.1M188.7 823.4L190.9 823.6M197.6 824.3L199.8 824.5M202.0 824.8L204.2 825.0M145.6 736.7L147.7 736.0M149.9 735.3L152.0 734.7L154.2 734.0M156.4 733.5L158.6 732.9M162.9 731.9L165.1 731.4L167.3 731.0L169.5 730.5M133.1 807.6L135.1 808.6M149.9 814.2L152.0 814.8L154.2 815.5L156.4 816.0M160.7 817.1L162.9 817.6L165.1 818.1M167.3 818.5L169.5 819.0L171.7 819.4M173.9 819.8L176.2 820.1M185.0 821.5L187.2 821.8L189.4 822.1L191.6 822.4M196.1 822.9L198.3 823.2L200.5 823.4L202.7 823.6L204.9 823.9M222.7 825.4L224.9 825.6M140.2 741.6L142.3 740.6M150.7 737.4L152.9 736.7L155.0 736.0M163.7 733.7L165.9 733.2M168.1 732.7L170.3 732.2M172.5 731.7L174.7 731.3M150.7 812.1L152.9 812.8L155.0 813.5M168.1 816.8L170.3 817.3L172.5 817.8M174.7 818.2L176.9 818.6M179.1 819.0L181.3 819.4L183.5 819.8L185.7 820.1L187.9 820.5L190.1 820.8L192.3 821.1L194.5 821.4L196.7 821.7M201.2 822.2L203.4 822.5L205.6 822.7L207.8 823.0M218.9 824.1L221.1 824.3L223.3 824.5M149.4 740.4L151.5 739.6L153.7 738.9L155.8 738.1M157.9 737.4L160.1 736.8M162.2 736.1L164.4 735.5M168.8 734.4L170.9 733.9L173.1 733.4M135.4 802.0L137.3 803.2M149.4 809.1L151.5 809.9L153.7 810.6L155.8 811.4M166.6 814.6L168.8 815.1L170.9 815.6M175.3 816.6L177.5 817.1M181.9 817.9L184.1 818.3M188.5 819.1L190.7 819.4M197.4 820.4L199.6 820.7L201.8 821.0L204.0 821.3M206.2 821.6L208.4 821.8L210.6 822.1M215.1 822.6L217.3 822.8M150.3 742.8L152.4 741.9M156.6 740.3L158.7 739.5M150.3 806.7L152.4 807.6L154.4 808.4L156.6 809.2L158.7 810.0M165.1 812.1L167.2 812.7M169.4 813.3L171.6 813.9M178.1 815.4L180.3 815.9M189.1 817.6L191.3 818.0M193.5 818.4L195.7 818.8M202.3 819.8L204.6 820.1L206.8 820.4L209.0 820.7M149.1 746.3L151.1 745.3L153.2 744.3L155.2 743.4M157.3 742.5L159.4 741.7L161.5 740.9L163.6 740.1L165.8 739.4L167.9 738.7M170.0 738.1L172.2 737.5M149.1 803.2L151.1 804.2L153.2 805.2L155.2 806.1M163.6 809.4L165.8 810.1L167.9 810.8M170.0 811.4L172.2 812.0M176.5 813.2L178.7 813.7L180.9 814.3M209.5 819.4L211.7 819.7L213.9 820.0M220.5 820.9L222.8 821.1M146.2 751.3L148.1 750.1L150.0 748.9L152.0 747.8L154.0 746.8L156.0 745.8M158.1 744.8L160.1 743.9L162.2 743.1L164.3 742.3L166.4 741.5M135.8 789.6L137.4 791.2M140.8 794.2L142.5 795.6M148.1 799.4L150.0 800.6L152.0 801.7L154.0 802.7L156.0 803.7M158.1 804.7L160.1 805.6L162.2 806.4L164.3 807.2L166.4 808.0M170.7 809.5L172.8 810.1L175.0 810.8M177.1 811.4L179.3 812.0M216.6 819.1L218.8 819.4M221.0 819.7L223.2 820.0M133.5 768.8L134.8 767.0M147.3 754.2L149.1 752.9L151.0 751.7L152.9 750.5L154.9 749.4M156.8 748.3L158.8 747.3L160.9 746.3M167.1 743.6L169.2 742.8M232.5 729.5L234.7 729.3M147.3 795.3L149.1 796.6M151.0 797.8L152.9 799.0L154.9 800.1M156.8 801.2L158.8 802.2M165.0 805.0L167.1 805.9L169.2 806.7M171.3 807.5L173.4 808.2M140.6 765.2L142.0 763.5M150.2 755.9L152.0 754.5L153.9 753.3L155.8 752.1L157.7 750.9M159.6 749.8L161.6 748.7L163.6 747.7L165.7 746.8M142.0 786.0L143.5 787.6M148.4 792.2L150.2 793.6L152.0 795.0L153.9 796.2L155.8 797.4M161.6 800.8L163.6 801.8L165.7 802.7M141.2 770.8L142.4 768.9M146.5 763.7L148.1 762.0L149.7 760.5L151.4 759.0L153.1 757.5L154.9 756.2L156.7 754.9L158.6 753.6L160.5 752.4L162.4 751.3L164.4 750.2L166.4 749.2M146.5 785.8L148.1 787.5L149.7 789.0L151.4 790.5L153.1 792.0L154.9 793.3M160.5 797.1L162.4 798.2M164.4 799.3L166.4 800.3L168.4 801.3M170.5 802.3L172.5 803.2L174.6 804.0L176.7 804.8M146.8 769.0L148.1 767.2L149.6 765.5L151.1 763.8L152.6 762.2L154.3 760.7L156.0 759.2L157.7 757.8L159.5 756.5M165.2 752.8L167.1 751.7M169.1 750.6L171.1 749.6M143.4 774.8L144.4 776.7M146.8 780.5L148.1 782.3M149.6 784.0L151.1 785.7L152.6 787.3L154.3 788.8M156.0 790.3L157.7 791.7M161.4 794.3L163.3 795.6L165.2 796.7L167.1 797.8M173.1 800.9L175.2 801.8M149.9 770.9L151.2 769.1L152.6 767.3L154.0 765.6L155.6 763.9M157.2 762.4L158.8 760.9M164.2 756.7L166.0 755.5L167.9 754.3M238.3 733.4L240.5 733.1M147.7 774.8L148.8 776.7L149.9 778.6L151.2 780.4L152.6 782.2M154.0 783.9L155.6 785.6M157.2 787.1L158.8 788.6L160.6 790.1L162.3 791.5L164.2 792.8M167.9 795.2L169.9 796.4M152.0 774.8L153.1 772.8L154.3 770.9L155.6 769.1M157.0 767.4L158.5 765.7L160.1 764.1M163.4 761.1L165.1 759.6M166.9 758.3L168.8 757.0L170.7 755.8M238.6 734.6L240.8 734.3M152.0 774.8L153.1 776.7L154.3 778.6L155.6 780.4M160.1 785.4L161.7 787.0M165.1 789.9L166.9 791.2L168.8 792.5M170.7 793.7L172.6 794.9M156.3 774.8L157.4 772.8M160.0 769.2L161.5 767.5M163.0 765.8L164.6 764.2L166.2 762.7M167.9 761.2L169.7 759.8M156.3 774.8L157.4 776.7L158.7 778.5M161.5 782.0L163.0 783.7M167.9 788.3L169.7 789.7M160.6 774.8L161.8 772.8M165.9 767.5L167.4 765.9M163.1 778.5L164.4 780.3L165.9 782.0M166.1 772.9L167.4 771.0M241.6 737.9L243.8 737.5M168.8 780.2L170.3 781.9M233.7 805.5L235.8 806.0M242.3 807.6L244.5 808.1M236.1 804.5L238.2 805.1M243.3 747.9L245.4 747.3M249.7 803.4L251.9 804.0M248.0 749.8L250.2 749.1M239.9 795.1L241.9 795.8M244.1 796.6L246.2 797.3M246.4 753.9L248.5 753.2M244.3 794.8L246.4 795.6M251.2 756.0L253.3 755.2M251.2 793.5L253.3 794.3M241.4 786.8L243.4 787.8M246.3 784.3L248.2 785.4M255.6 767.8L257.5 766.6M252.7 773.2L254.4 771.8M247.0 776.6L242.6 778.4M247.0 772.9L242.6 771.1M246.7 778.4L242.5 780.2M246.5 780.2L242.4 782.0M250.8 771.1L246.5 769.3L242.4 767.5M255.0 778.4L250.5 780.2" stroke="rgb(45,45,255)" stroke-opacity="0.1" stroke-width="1.1" fill="none"/><path d="M194.8 718.6L197.9 718.5M193.3 719.4L195.9 719.3M198.6 719.2L201.4 719.1M180.0 721.0L182.2 720.8M191.1 720.3L193.3 720.2L195.5 720.0L197.9 719.9M189.3 721.2L191.5 721.0M193.7 720.9L195.9 720.7L198.1 720.6M186.0 722.6L188.2 722.4L190.4 722.2L192.6 722.1L194.9 721.9L197.1 721.7M199.3 721.6L201.5 721.4L203.7 721.3M184.8 723.9L187.0 723.7L189.2 723.5L191.4 723.3M200.3 722.6L202.5 722.4M181.2 725.6L183.4 725.4L185.7 725.1L187.9 724.9L190.1 724.7M192.3 724.5L194.5 724.2M179.8 727.3L182.0 727.0L184.3 726.7L186.5 726.4L188.7 726.1M213.1 723.8L215.3 723.6M178.4 729.0L180.6 728.7L182.8 728.3L185.0 728.0L187.2 727.7M198.3 726.3L200.5 726.1M179.1 730.5L181.3 730.1L183.5 729.7L185.7 729.4M177.5 732.4L179.7 732.0L181.9 731.6L184.1 731.2M175.9 734.6L178.1 734.1L180.3 733.6M206.8 729.1L209.0 728.8M174.4 736.9L176.5 736.3L178.7 735.8M187.5 733.8L189.7 733.4M211.7 729.8L213.9 729.5M187.5 815.7L189.7 816.1L191.9 816.6L194.1 817.0L196.3 817.4M198.5 817.7L200.7 818.1M202.9 818.5L205.1 818.8M207.3 819.1L209.5 819.4M172.8 739.4L175.0 738.7L177.1 738.1L179.3 737.5L181.5 736.9M194.6 734.0L196.8 733.6M205.6 732.0L207.8 731.7M210.0 731.3L212.2 731.0L214.4 730.7M183.6 813.1L185.8 813.6L188.0 814.1L190.2 814.6L192.4 815.1L194.6 815.5M196.8 815.9L199.0 816.3L201.2 816.7L203.4 817.1M207.8 817.8L210.0 818.2M173.4 741.3L175.5 740.6L177.7 739.9L179.8 739.3M203.8 733.8L206.0 733.4M214.8 731.9L217.0 731.6M182.0 810.8L184.1 811.4L186.3 812.0L188.5 812.5M192.9 813.5L195.0 814.0M208.2 816.5L210.4 816.9M217.0 817.9L219.2 818.2M176.1 742.6L178.2 741.9M202.1 735.6L204.2 735.2M178.2 807.6L180.4 808.3L182.5 809.0L184.7 809.6L186.8 810.2M213.0 815.9L215.2 816.3M217.4 816.7L219.6 817.0M174.6 745.5L176.7 744.7L178.8 743.9M180.9 743.1L183.0 742.4M220.0 733.8L222.2 733.4M176.7 804.8L178.8 805.6L180.9 806.4L183.0 807.1L185.2 807.8M200.3 811.9L202.5 812.4M173.1 748.6L175.2 747.7L177.3 746.8M192.1 741.6L194.2 741.0M175.2 801.8L177.3 802.7L179.3 803.6L181.4 804.4M202.9 810.8L205.1 811.3M207.2 811.8L209.4 812.3M216.0 813.6L218.2 814.0M173.8 751.0L175.8 750.0L177.9 749.0M214.2 737.7L216.3 737.3M177.9 800.5L179.9 801.4M216.3 812.2L218.5 812.7M220.7 813.1L222.9 813.5L225.1 813.9M172.6 754.6L174.5 753.4L176.5 752.4M178.5 751.3L180.5 750.4L182.5 749.4M205.8 741.4L208.0 740.8M221.1 737.8L223.2 737.3M172.6 794.9L174.5 796.1L176.5 797.1L178.5 798.2M205.8 808.1L208.0 808.7M225.4 812.6L227.6 813.0M173.4 757.3L175.3 756.0M177.2 754.9L179.2 753.8M173.4 792.2L175.3 793.5L177.2 794.6L179.2 795.7M181.1 796.8L183.1 797.8M191.4 801.4L193.4 802.2M201.9 805.2L204.1 805.8M219.2 809.8L221.4 810.3M172.5 761.4L174.3 760.1L176.1 758.8M196.0 748.5L198.1 747.7M219.5 741.2L221.7 740.7M174.3 789.4L176.1 790.7L178.0 792.0M196.0 801.0L198.1 801.8M171.9 766.0L173.5 764.5L175.2 763.0L177.0 761.6L178.8 760.3M171.9 783.5L173.5 785.0L175.2 786.5L177.0 787.9M180.6 790.5L182.5 791.7M173.2 769.4L174.8 767.7L176.3 766.1L178.0 764.6M181.5 761.8L183.3 760.5M199.0 751.8L201.1 750.9M173.2 780.1L174.8 781.8L176.3 783.4L178.0 784.9M213.7 803.2L215.9 803.9M218.0 804.5L220.1 805.1M173.5 774.8L174.8 772.9L176.2 771.1L177.6 769.4L179.2 767.8M209.9 749.6L212.0 748.8M173.5 774.8L174.8 776.6L176.2 778.4L177.6 780.1M179.2 781.7L180.8 783.3M222.6 804.1L224.8 804.7M180.5 771.2L182.0 769.5M200.1 756.3L202.1 755.3M214.4 750.0L216.5 749.2M192.3 788.7L194.2 789.9M206.1 796.2L208.2 797.1M210.3 797.9L212.3 798.7M216.9 751.1L219.0 750.3M227.5 747.4L229.6 746.8M196.8 788.5L198.7 789.7M200.7 790.8L202.6 791.9M221.1 800.0L223.2 800.7M209.1 756.8L211.1 755.8M232.1 747.8L234.2 747.2M201.3 788.3L203.2 789.5M225.7 799.6L227.8 800.3M192.1 773.0L193.6 771.3M198.5 766.6L200.3 765.2M202.1 763.9L203.9 762.6L205.8 761.4M226.0 751.7L228.1 751.0M208.4 786.7L210.3 787.9M216.1 791.2L218.1 792.2M235.0 752.3L237.2 751.6M237.2 797.9L239.3 798.7M215.4 764.3L217.3 763.1M235.4 754.2L237.5 753.4M208.0 774.8L209.4 773.0M212.7 769.9L214.4 768.4M220.5 782.4L222.4 783.7L224.2 784.9M236.1 791.3L238.1 792.3M226.8 783.6L228.7 784.8L230.6 786.0M234.5 788.2L236.5 789.2M226.7 776.4L228.4 777.9M231.1 773.1L232.7 771.6M236.3 780.7L238.1 782.0M178.4 774.8L175.4 776.6M182.7 774.8L179.6 776.6L176.7 778.4M182.7 774.8L179.6 772.9L176.7 771.1L174.0 769.3M187.0 774.8L183.8 776.6L180.9 778.4L178.0 780.2L175.3 782.0M187.0 774.8L183.8 772.9L180.9 771.1L178.0 769.3L175.3 767.5L172.7 765.7M191.3 774.8L188.0 776.6L185.0 778.4L182.0 780.2L179.2 782.0L176.6 783.8L174.0 785.6M191.3 774.8L188.0 772.9L185.0 771.1L182.0 769.3L179.2 767.5L176.6 765.7M195.6 774.8L192.3 776.6L189.1 778.4L186.1 780.2L183.2 782.0L180.5 783.8L177.8 785.6M195.6 774.8L192.3 772.9L189.1 771.1L186.1 769.3L183.2 767.5L180.5 765.7L177.8 763.9M175.3 762.0L172.9 760.2M199.9 774.8L196.5 776.6L193.2 778.4L190.1 780.2L187.1 782.0L184.3 783.8L181.6 785.6L179.0 787.5L176.6 789.3M199.9 774.8L196.5 772.9L193.2 771.1L190.1 769.3L187.1 767.5L184.3 765.7L181.6 763.9L179.0 762.0L176.6 760.2M200.7 776.6L197.3 778.4L194.1 780.2L191.1 782.0L188.2 783.8L185.4 785.6L182.8 787.5L180.2 789.3L177.8 791.1L175.5 792.9M204.2 774.8L200.7 772.9L197.3 771.1L194.1 769.3L191.1 767.5L188.2 765.7L185.4 763.9L182.8 762.0L180.2 760.2L177.8 758.4L175.5 756.6M208.5 774.8L204.9 776.6L201.4 778.4L198.2 780.2L195.0 782.0L192.1 783.8L189.2 785.6L186.5 787.5L183.9 789.3L181.4 791.1L179.0 792.9M208.5 774.8L204.9 772.9M201.4 771.1L198.2 769.3M195.0 767.5L192.1 765.7L189.2 763.9L186.5 762.0L183.9 760.2L181.4 758.4L179.0 756.6L176.7 754.8L174.5 753.0M202.2 780.2L199.0 782.0L195.9 783.8L193.0 785.6L190.2 787.5L187.5 789.3L185.0 791.1L182.5 792.9L180.2 794.7L177.9 796.5M212.8 774.8L209.1 772.9L205.6 771.1M202.2 769.3L199.0 767.5L195.9 765.7L193.0 763.9L190.2 762.0L187.5 760.2L185.0 758.4L182.5 756.6L180.2 754.8L177.9 753.0L175.7 751.1M217.1 774.8L213.3 776.6M202.9 782.0L199.8 783.8L196.8 785.6L193.9 787.5L191.2 789.3L188.6 791.1L186.0 792.9L183.6 794.7L181.3 796.5L179.1 798.4M213.3 772.9L209.7 771.1L206.2 769.3L202.9 767.5M199.8 765.7L196.8 763.9L193.9 762.0L191.2 760.2L188.6 758.4L186.0 756.6L183.6 754.8L181.3 753.0L179.1 751.1L176.9 749.3L174.8 747.5M213.8 778.4L210.2 780.2L206.9 782.0M200.6 785.6L197.6 787.5L194.8 789.3L192.1 791.1L189.6 792.9L187.1 794.7L184.7 796.5L182.4 798.4L180.2 800.2M213.8 771.1L210.2 769.3L206.9 767.5L203.7 765.7M200.6 763.9L197.6 762.0L194.8 760.2L192.1 758.4L189.6 756.6L187.1 754.8L184.7 753.0L182.4 751.1L180.2 749.3L178.1 747.5L176.0 745.7M217.9 778.4L214.3 780.2L210.8 782.0L207.5 783.8M201.4 787.5L198.5 789.3L195.7 791.1L193.1 792.9L190.5 794.7L188.1 796.5L185.7 798.4L183.5 800.2L181.3 802.0L179.2 803.8M225.7 774.8L221.7 772.9M214.3 769.3L210.8 767.5M204.4 763.9L201.4 762.0L198.5 760.2L195.7 758.4L193.1 756.6L190.5 754.8L188.1 753.0L185.7 751.1L183.5 749.3L181.3 747.5L179.2 745.7L177.2 743.9M225.9 776.6L222.0 778.4M208.2 785.6L205.1 787.5M202.1 789.3L199.3 791.1L196.6 792.9L194.0 794.7L191.5 796.5L189.1 798.4L186.8 800.2L184.5 802.0L182.4 803.8M211.4 765.7L208.2 763.9M202.1 760.2L199.3 758.4L196.6 756.6L194.0 754.8L191.5 753.0L189.1 751.1L186.8 749.3L184.5 747.5L182.4 745.7L180.3 743.9L178.3 742.1L176.4 740.2M218.7 782.0L215.3 783.8M205.8 789.3L202.9 791.1M200.1 792.9L197.4 794.7L194.9 796.5L192.4 798.4L190.1 800.2L187.8 802.0L185.6 803.8L183.5 805.6L181.4 807.4M208.8 762.0L205.8 760.2L202.9 758.4M197.4 754.8L194.9 753.0L192.4 751.1L190.1 749.3L187.8 747.5L185.6 745.7L183.5 743.9L181.4 742.1L179.4 740.2M212.5 787.5L209.4 789.3L206.5 791.1L203.6 792.9L200.9 794.7L198.3 796.5L195.8 798.4L193.3 800.2L191.0 802.0L188.8 803.8L186.6 805.6L184.5 807.4M219.1 765.7L215.7 763.9L212.5 762.0M206.5 758.4L203.6 756.6L200.9 754.8L198.3 753.0L195.8 751.1L193.3 749.3L191.0 747.5L188.8 745.7L186.6 743.9L184.5 742.1L182.5 740.2L180.5 738.4L178.6 736.6M243.0 774.8L238.6 776.6M223.0 783.8L219.5 785.6M216.2 787.5L213.1 789.3M210.0 791.1L207.1 792.9L204.4 794.7L201.7 796.5L199.1 798.4L196.6 800.2L194.2 802.0L191.9 803.8L189.7 805.6L187.6 807.4L185.5 809.3M243.0 774.8L238.6 772.9M230.4 769.3L226.6 767.5L223.0 765.7M216.2 762.0L213.1 760.2M201.7 753.0L199.1 751.1L196.6 749.3L194.2 747.5L191.9 745.7L189.7 743.9L187.6 742.1L185.5 740.2L183.5 738.4L181.6 736.6L179.7 734.8M176.1 731.2L174.4 729.3M242.8 776.6L238.5 778.4M210.7 792.9L207.8 794.7L205.1 796.5L202.5 798.4M199.9 800.2L197.5 802.0L195.1 803.8L192.9 805.6L190.7 807.4L188.6 809.3L186.5 811.1M242.8 772.9L238.5 771.1M223.3 763.9L220.0 762.0L216.7 760.2M207.8 754.8L205.1 753.0M199.9 749.3L197.5 747.5L195.1 745.7L192.9 743.9L190.7 742.1L188.6 740.2L186.5 738.4L184.5 736.6L182.6 734.8L180.8 733.0M179.0 731.2L177.2 729.3M242.6 778.4L238.4 780.2M227.1 785.6L223.7 787.5M220.4 789.3L217.2 791.1M211.3 794.7L208.5 796.5L205.8 798.4L203.2 800.2M200.7 802.0L198.3 803.8L196.0 805.6L193.8 807.4L191.6 809.3L189.5 811.1L187.5 812.9M242.6 771.1L238.4 769.3M227.1 763.9L223.7 762.0M217.2 758.4L214.2 756.6M200.7 747.5L198.3 745.7L196.0 743.9L193.8 742.1L191.6 740.2L189.5 738.4L187.5 736.6L185.5 734.8L183.6 733.0L181.8 731.2M180.0 729.3L178.3 727.5L176.6 725.7L175.0 723.9M242.5 780.2L238.4 782.0M209.1 798.4L206.5 800.2M203.9 802.0L201.5 803.8M194.6 809.3L192.5 811.1L190.4 812.9M242.5 769.3L238.4 767.5M227.4 762.0L224.0 760.2M217.7 756.6L214.7 754.8L211.9 753.0M206.5 749.3L203.9 747.5M196.8 742.1L194.6 740.2L192.5 738.4L190.4 736.6L188.4 734.8L186.5 733.0L184.6 731.2L182.8 729.3M181.0 727.5L179.3 725.7L177.7 723.9M242.4 782.0L238.5 783.8M234.7 785.6L231.1 787.5L227.7 789.3M218.2 794.7L215.3 796.5M207.2 802.0L204.7 803.8L202.3 805.6L199.9 807.4M197.7 809.3L195.5 811.1L193.4 812.9L191.4 814.7L189.4 816.5M242.4 767.5L238.5 765.7M234.7 763.9L231.1 762.0L227.7 760.2M204.7 745.7L202.3 743.9L199.9 742.1L197.7 740.2L195.5 738.4L193.4 736.6L191.4 734.8L189.4 733.0L187.5 731.2L185.6 729.3L183.8 727.5M182.1 725.7L180.4 723.9L178.7 722.1L177.1 720.3L175.6 718.4M242.3 783.8L238.5 785.6M218.7 796.5L215.8 798.4M207.9 803.8L205.4 805.6M203.0 807.4L200.7 809.3L198.5 811.1L196.4 812.9L194.3 814.7L192.3 816.5M242.3 765.7L238.5 763.9M200.7 740.2L198.5 738.4L196.4 736.6L194.3 734.8L192.3 733.0L190.3 731.2L188.4 729.3L186.6 727.5M181.4 722.1L179.7 720.3L178.2 718.4" stroke="rgb(255,70,70)" stroke-opacity="0.1" stroke-width="1.1" fill="none"/><path d="M258.3 772.0h1.5v1.5h-1.5zM211.4 721.0h1.5v1.5h-1.5zM258.8 786.5h1.5v1.5h-1.5zM251.7 814.9h1.5v1.5h-1.5zM224.2 723.3h1.5v1.5h-1.5zM261.2 797.1h1.5v1.5h-1.5zM249.8 809.0h1.5v1.5h-1.5zM241.8 733.3h1.5v1.5h-1.5zM260.6 791.9h1.5v1.5h-1.5zM241.6 729.8h1.5v1.5h-1.5zM253.8 794.9h1.5v1.5h-1.5zM252.9 753.5h1.5v1.5h-1.5zM221.8 825.7h1.5v1.5h-1.5z" fill="rgb(45,45,255)" fill-opacity="0.1"/><path d="M104.6 717.4L106.9 717.2M109.1 717.1L111.4 716.9M95.6 831.3L97.8 831.6M134.4 831.6L136.7 831.8M88.4 728.7L90.6 727.7M106.0 723.3L108.2 722.9M101.5 825.2L103.7 825.7M152.7 719.8L154.9 719.6M110.3 824.3L112.5 824.8M121.4 826.5L123.7 826.8M137.1 828.4L139.3 828.6M94.9 734.2L96.9 733.1M101.0 731.1L103.1 730.3M114.0 726.8L116.2 726.3M125.0 724.5L127.3 724.1M140.7 722.2L142.9 722.0M145.1 721.8L147.4 721.5L149.6 721.3M160.7 720.4L163.0 720.3M85.8 808.5L87.5 810.0M78.0 762.0L78.8 759.9M146.0 723.0L148.3 722.8L150.5 722.5M110.7 819.2L112.8 819.9M117.2 821.2L119.4 821.8M141.6 825.9L143.8 826.2M146.0 826.5L148.3 826.7M175.0 829.0L177.2 829.2M179.4 829.3L181.6 829.5M148.8 723.9L151.0 723.6M117.9 819.3L120.0 819.9M135.9 727.5L138.1 727.0M142.6 726.2L144.8 725.8L147.0 725.5M207.3 720.1L209.8 720.0M84.0 779.1L84.6 781.2M106.2 811.3L108.2 812.5M116.4 816.4L118.5 817.2L120.6 817.9M125.0 819.3L127.1 819.9M144.8 823.7L147.0 824.0M124.2 733.3L126.3 732.6M146.0 727.6L148.2 727.2L150.4 726.8M210.4 720.9L212.6 720.8M87.9 776.9L88.4 779.0M98.2 798.9L99.6 800.6M117.9 813.6L119.9 814.5M126.3 816.9L128.4 817.6M92.2 772.6L92.8 770.5M140.5 730.9L142.7 730.4L144.9 729.9L147.1 729.4M92.2 776.9L92.8 779.0M111.6 806.1L113.4 807.4M140.5 818.6L142.7 819.1L144.9 819.6M147.1 820.1L149.3 820.6L151.5 821.0M102.9 758.5L104.1 756.6M108.3 751.4L109.9 749.8M145.9 731.8L148.1 731.3M106.9 796.4L108.3 798.1M145.9 817.7L148.1 818.2M205.6 826.2L207.8 826.4M101.6 770.5L102.4 768.5M105.3 762.4L106.4 760.5M111.8 753.4L113.4 751.8M144.7 734.5L146.8 733.9L149.0 733.3M103.3 783.1L104.3 785.1M142.5 814.3L144.7 815.0L146.8 815.6L149.0 816.2M108.8 764.5L109.9 762.6M147.7 736.0L149.9 735.3M115.2 794.1L116.7 795.8M120.0 798.9L121.7 800.3M141.4 811.3L143.5 812.1L145.6 812.8L147.7 813.5L149.9 814.2M117.1 759.1L118.6 757.3M120.0 755.7L121.6 754.0M142.3 740.6L144.4 739.8L146.5 738.9L148.6 738.2L150.7 737.4M121.6 795.5L123.2 797.0M126.7 799.9L128.5 801.2M132.3 803.7L134.2 804.8M140.2 807.9L142.3 808.9M146.5 810.6L148.6 811.3L150.7 812.1M207.8 823.0L210.0 823.2M126.5 754.4L128.1 752.9M143.3 743.2L145.3 742.2L147.4 741.3L149.4 740.4M143.3 806.3L145.3 807.3L147.4 808.2L149.4 809.1M212.9 822.3L215.1 822.6M129.6 756.2L131.3 754.7M142.2 746.9L144.2 745.8L146.2 744.7L148.2 743.7L150.3 742.8M144.2 803.7L146.2 804.8L148.2 805.8M141.4 750.9L143.3 749.7L145.2 748.5L147.1 747.3L149.1 746.3M141.4 798.6L143.3 799.8L145.2 801.0L147.1 802.2L149.1 803.2M213.9 820.0L216.1 820.3M229.4 821.8L231.6 822.1M129.1 768.8L130.3 766.9M132.9 763.2L134.3 761.5M142.5 753.9L144.4 752.6L146.2 751.3M229.9 728.7L232.1 728.5M146.2 798.2L148.1 799.4M142.1 758.5L143.8 757.0L145.5 755.6L147.3 754.2M143.8 792.5L145.5 793.9L147.3 795.3M149.1 796.6L151.0 797.8M142.0 763.5L143.5 761.9M145.1 760.3L146.7 758.7L148.4 757.3L150.2 755.9M143.5 787.6L145.1 789.2L146.7 790.8L148.4 792.2M143.7 767.1L145.1 765.4L146.5 763.7M143.7 782.4L145.1 784.1L146.5 785.8M222.2 816.1L224.4 816.5M143.4 774.8L144.4 772.8L145.6 770.9M144.4 776.7L145.6 778.6L146.8 780.5M148.1 782.3L149.6 784.0M147.7 774.8L148.8 772.8L149.9 770.9M227.6 813.0L229.8 813.4M240.8 815.2L243.0 815.6M230.4 810.7L232.6 811.2M246.0 812.4L248.2 812.7M247.6 746.7L249.7 746.1M245.9 799.0L248.0 799.7M240.9 789.0L242.9 790.0M247.3 774.8L242.8 776.6M247.3 774.8L242.8 772.9M251.6 774.8L247.0 776.6M171.9 829.2L170.4 831.1M251.6 774.8L247.0 772.9M251.2 776.6L246.7 778.4M176.1 827.4L174.5 829.2L173.0 831.1M255.9 774.8L251.2 772.9L246.7 771.1L242.5 769.3M173.0 718.4L171.5 716.6M255.4 776.6L250.8 778.4L246.5 780.2M178.7 827.4L177.1 829.2M255.4 772.9L250.8 771.1M175.6 718.4L174.0 716.6M250.5 780.2L246.3 782.0L242.3 783.8M179.7 829.2L178.2 831.1L176.6 832.9M255.0 771.1L250.5 769.3L246.3 767.5L242.3 765.7" stroke="rgb(45,45,255)" stroke-opacity="0.2" stroke-width="1.1" fill="none"/><path d="M61.8 748.0h1.7v1.7h-1.7zM64.3 805.9h1.7v1.7h-1.7zM67.6 748.4h1.7v1.7h-1.7zM83.2 757.1h1.7v1.7h-1.7zM103.4 738.6h1.7v1.7h-1.7zM86.6 773.9h1.7v1.7h-1.7zM88.2 767.5h1.7v1.7h-1.7zM87.6 778.2h1.7v1.7h-1.7zM262.3 774.5h1.5v1.5h-1.5zM253.5 800.6h1.5v1.5h-1.5zM257.4 795.9h1.5v1.5h-1.5zM261.6 756.2h1.5v1.5h-1.5zM260.5 757.9h1.5v1.5h-1.5zM238.1 726.3h1.5v1.5h-1.5zM261.5 756.6h1.5v1.5h-1.5zM258.4 759.7h1.5v1.5h-1.5zM242.1 735.4h1.5v1.5h-1.5zM239.6 730.3h1.5v1.5h-1.5zM260.9 751.8h1.5v1.5h-1.5zM253.6 795.6h1.5v1.5h-1.5zM258.5 778.7h1.5v1.5h-1.5zM259.5 783.8h1.5v1.5h-1.5zM262.8 790.5h1.5v1.5h-1.5zM258.5 745.0h1.5v1.5h-1.5zM249.8 816.9h1.5v1.5h-1.5zM258.7 799.9h1.5v1.5h-1.5zM248.4 813.1h1.5v1.5h-1.5z" fill="rgb(45,45,255)" fill-opacity="0.2"/><path d="M177.2 720.3L179.4 720.2M188.4 719.7L190.8 719.6M198.1 720.6L200.4 720.5M179.3 723.2L181.5 722.9L183.8 722.8M197.1 721.7L199.3 721.6M178.1 724.6L180.3 724.4M191.4 723.3L193.6 723.1L195.9 722.9L198.1 722.8L200.3 722.6M202.5 722.4L204.7 722.3M174.6 726.5L176.8 726.2L179.0 725.9M190.1 724.7L192.3 724.5M194.5 724.2L196.8 724.0L199.0 723.8L201.2 723.7M188.7 726.1L190.9 725.9L193.1 725.6L195.3 725.4M197.6 725.2L199.8 725.0M176.2 729.4L178.4 729.0M187.2 727.7L189.4 727.4L191.6 727.1M196.1 726.6L198.3 726.3M174.7 731.3L176.9 730.9L179.1 730.5M185.7 729.4L187.9 729.0M190.1 728.7L192.3 728.4L194.5 728.1L196.7 727.8M184.1 731.2L186.3 730.8L188.5 730.4L190.7 730.1M192.9 729.7L195.2 729.4L197.4 729.1M217.3 726.7L219.5 726.5M180.3 733.6L182.5 733.1L184.7 732.7M195.7 730.7L197.9 730.4M200.1 730.1L202.3 729.7M180.9 735.2L183.1 734.7L185.3 734.3L187.5 733.8M198.5 731.8L200.7 731.4L202.9 731.0L205.1 730.7L207.3 730.4M205.1 818.8L207.3 819.1M181.5 736.9L183.6 736.4L185.8 735.9L188.0 735.4L190.2 734.9L192.4 734.4L194.6 734.0M196.8 733.6L199.0 733.2M203.4 817.1L205.6 817.5L207.8 817.8M210.0 818.2L212.2 818.5L214.4 818.8M179.8 739.3L182.0 738.7L184.1 738.1L186.3 737.5L188.5 737.0L190.7 736.5M201.6 734.2L203.8 733.8M188.5 812.5L190.7 813.0L192.9 813.5M195.0 814.0L197.2 814.5L199.4 814.9L201.6 815.3L203.8 815.7L206.0 816.1L208.2 816.5M210.4 816.9L212.6 817.2L214.8 817.6L217.0 817.9M178.2 741.9L180.4 741.2L182.5 740.5L184.7 739.9L186.8 739.3L189.0 738.7L191.1 738.1L193.3 737.6M197.7 736.6L199.9 736.1L202.1 735.6M204.2 735.2L206.4 734.8M228.5 731.2L230.7 730.9M186.8 810.2L189.0 810.8L191.1 811.4L193.3 811.9L195.5 812.4L197.7 812.9M199.9 813.4L202.1 813.9M204.2 814.3L206.4 814.7M210.8 815.6L213.0 815.9M215.2 816.3L217.4 816.7M219.6 817.0L221.8 817.3M178.8 743.9L180.9 743.1M183.0 742.4L185.2 741.7M187.3 741.1L189.5 740.4L191.6 739.8L193.8 739.2L195.9 738.7L198.1 738.1M200.3 737.6L202.5 737.1M185.2 807.8L187.3 808.4L189.5 809.1L191.6 809.7M213.4 814.6L215.6 815.0L217.8 815.4L220.0 815.7L222.2 816.1M177.3 746.8L179.3 745.9L181.4 745.1L183.5 744.4M185.7 743.6L187.8 742.9M202.9 738.7L205.1 738.2M181.4 804.4L183.5 805.1L185.7 805.9M187.8 806.6L189.9 807.3M192.1 807.9L194.2 808.5M213.8 813.2L216.0 813.6M218.2 814.0L220.4 814.4L222.6 814.8L224.8 815.2M177.9 749.0L179.9 748.1L182.0 747.2L184.1 746.4L186.2 745.6L188.3 744.8L190.4 744.1M182.0 802.3L184.1 803.1L186.2 803.9L188.3 804.7M190.4 805.4L192.5 806.1M196.8 807.4L199.0 808.0L201.1 808.6L203.3 809.2M205.4 809.8L207.6 810.3M225.1 813.9L227.3 814.3M182.5 749.4L184.6 748.5L186.7 747.7L188.8 746.8M193.0 745.3L195.1 744.6L197.2 743.9L199.4 743.2M178.5 798.2L180.5 799.1L182.5 800.1L184.6 801.0L186.7 801.8L188.8 802.7M190.9 803.4L193.0 804.2L195.1 804.9M197.2 805.6L199.4 806.3M201.5 806.9L203.7 807.5M221.1 811.7L223.2 812.2L225.4 812.6M179.2 753.8L181.1 752.7L183.1 751.7M185.2 750.7L187.2 749.8L189.3 748.9L191.4 748.1L193.4 747.3L195.5 746.5L197.7 745.7M201.9 744.3L204.1 743.7M179.2 795.7L181.1 796.8M183.1 797.8L185.2 798.8L187.2 799.7L189.3 800.6M204.1 805.8L206.2 806.5L208.4 807.1M227.9 811.7L230.1 812.1M176.1 758.8L178.0 757.5L179.9 756.3L181.8 755.2L183.8 754.1L185.8 753.0L187.8 752.1L189.8 751.1L191.9 750.2M200.2 746.9L202.3 746.2M178.0 792.0L179.9 793.2L181.8 794.3L183.8 795.4L185.8 796.5L187.8 797.4M189.8 798.4L191.9 799.3M204.4 804.0L206.6 804.7M178.8 760.3L180.6 759.0L182.5 757.8L184.4 756.6L186.4 755.5L188.4 754.4L190.4 753.4M226.3 741.1L228.5 740.6M177.0 787.9L178.8 789.2L180.6 790.5M182.5 791.7L184.4 792.9L186.4 794.0M188.4 795.1L190.4 796.1M192.4 797.1L194.4 798.0L196.5 798.9M228.5 808.9L230.7 809.4M178.0 764.6L179.7 763.2L181.5 761.8M183.3 760.5L185.2 759.2L187.1 758.0L189.0 756.8L191.0 755.7M193.0 754.7L195.0 753.7M197.0 752.7L199.0 751.8M235.3 740.6L237.5 740.1M178.0 784.9L179.7 786.3L181.5 787.7L183.3 789.0L185.2 790.3M187.1 791.5L189.0 792.7L191.0 793.8L193.0 794.8M201.1 798.6L203.2 799.4M231.0 807.9L233.1 808.4M179.2 767.8L180.8 766.2L182.5 764.7L184.2 763.3L186.0 762.0L187.8 760.7L189.7 759.4L191.6 758.2M195.5 756.0L197.5 755.0L199.5 754.0M235.6 742.0L237.7 741.5M177.6 780.1L179.2 781.7M180.8 783.3L182.5 784.8L184.2 786.2L186.0 787.5M187.8 788.8L189.7 790.1L191.6 791.3M201.6 796.5L203.6 797.4L205.7 798.3M229.1 805.9L231.2 806.4L233.4 807.0M177.8 774.8L179.1 772.9L180.5 771.2M182.0 769.5L183.6 767.9L185.2 766.3L186.9 764.9M188.7 763.5L190.5 762.1M198.1 757.3L200.1 756.3M177.8 774.8L179.1 776.6L180.5 778.3L182.0 780.0L183.6 781.6L185.2 783.2L186.9 784.6L188.7 786.0M194.2 789.9L196.1 791.0L198.1 792.2M200.1 793.2L202.1 794.2M231.5 804.9L233.7 805.5M182.1 774.8L183.5 772.9L184.9 771.2M186.4 769.5L188.0 768.0M193.2 763.6L195.0 762.3M200.7 758.7L202.6 757.6L204.6 756.5M236.1 745.0L238.2 744.4L240.4 743.9M182.1 774.8L183.5 776.6L184.9 778.3M186.4 780.0L188.0 781.5M195.0 787.2L196.8 788.5M204.6 793.0L206.6 794.0M231.8 803.3L233.9 803.9L236.1 804.5M186.4 774.8L187.8 773.0L189.2 771.2L190.8 769.6L192.4 768.0L194.1 766.5L195.8 765.1M207.1 757.8L209.1 756.8M238.5 745.9L240.6 745.4M186.4 774.8L187.8 776.5L189.2 778.3L190.8 779.9L192.4 781.5M199.4 787.0L201.3 788.3M203.2 789.5L205.2 790.6M234.2 802.3L236.3 803.0M230.2 750.2L232.3 749.5M238.7 747.5L240.9 746.9M192.1 776.5L193.6 778.2L195.2 779.8L196.8 781.4L198.5 782.9M234.5 800.7L236.6 801.3M198.0 771.3L199.5 769.7M202.9 766.7L204.7 765.4M239.0 749.2L241.1 748.5M234.7 799.0L236.9 799.7M199.4 774.8L200.8 773.0M205.6 781.2L207.3 782.7L209.1 784.0M235.0 797.2L237.2 797.9M237.5 753.4L239.6 752.6L241.7 751.9M205.1 776.5L206.7 778.1M235.4 795.3L237.5 796.1L239.6 796.9M239.9 754.4L241.9 753.7M237.8 794.2L239.9 795.1M240.2 756.4L242.3 755.5M238.1 792.3L240.2 793.1M238.5 759.3L240.5 758.4L242.6 757.5M238.5 790.2L240.5 791.1M238.9 761.5L240.9 760.5L242.9 759.5M229.3 782.2L231.2 783.5M236.9 787.0L238.9 788.0M239.4 763.8L241.4 762.7M237.5 784.6L239.4 785.7L241.4 786.8M240.0 766.2L241.9 765.1M238.1 782.0L240.0 783.3L241.9 784.4M240.6 768.9L242.5 767.6M238.8 779.3L240.6 780.6L242.5 781.9M239.7 773.2L241.4 771.7M239.7 776.3L241.4 777.8M204.2 774.8L200.7 776.6M204.9 772.9L201.4 771.1M198.2 769.3L195.0 767.5M212.8 774.8L209.1 776.6L205.6 778.4L202.2 780.2M205.6 771.1L202.2 769.3M213.3 776.6L209.7 778.4L206.2 780.2L202.9 782.0M217.1 774.8L213.3 772.9M202.9 767.5L199.8 765.7M221.4 774.8L217.5 776.6L213.8 778.4M206.9 782.0L203.7 783.8L200.6 785.6M221.4 774.8L217.5 772.9L213.8 771.1M203.7 765.7L200.6 763.9M225.7 774.8L221.7 776.6L217.9 778.4M207.5 783.8L204.4 785.6L201.4 787.5M221.7 772.9L217.9 771.1L214.3 769.3M210.8 767.5L207.5 765.7L204.4 763.9M230.0 774.8L225.9 776.6M222.0 778.4L218.3 780.2L214.8 782.0L211.4 783.8L208.2 785.6M205.1 787.5L202.1 789.3M230.0 774.8L225.9 772.9L222.0 771.1L218.3 769.3L214.8 767.5L211.4 765.7M208.2 763.9L205.1 762.0L202.1 760.2M234.3 774.8L230.1 776.6L226.1 778.4L222.3 780.2L218.7 782.0M215.3 783.8L212.0 785.6L208.8 787.5L205.8 789.3M202.9 791.1L200.1 792.9M234.3 774.8L230.1 772.9L226.1 771.1L222.3 769.3L218.7 767.5L215.3 765.7L212.0 763.9L208.8 762.0M202.9 758.4L200.1 756.6L197.4 754.8M234.3 776.6L230.3 778.4L226.4 780.2L222.7 782.0L219.1 783.8L215.7 785.6L212.5 787.5M226.4 769.3L222.7 767.5L219.1 765.7M212.5 762.0L209.4 760.2L206.5 758.4M234.4 778.4L230.4 780.2L226.6 782.0L223.0 783.8M219.5 785.6L216.2 787.5M213.1 789.3L210.0 791.1M238.6 772.9L234.4 771.1L230.4 769.3M223.0 765.7L219.5 763.9L216.2 762.0M213.1 760.2L210.0 758.4L207.1 756.6L204.4 754.8L201.7 753.0M238.5 778.4L234.4 780.2L230.5 782.0L226.9 783.8L223.3 785.6L220.0 787.5L216.7 789.3L213.6 791.1L210.7 792.9M202.5 798.4L199.9 800.2M234.4 769.3L230.5 767.5L226.9 765.7L223.3 763.9M216.7 760.2L213.6 758.4L210.7 756.6L207.8 754.8M205.1 753.0L202.5 751.1L199.9 749.3M177.2 729.3L175.5 727.5M238.4 780.2L234.5 782.0M230.7 783.8L227.1 785.6M223.7 787.5L220.4 789.3M217.2 791.1L214.2 792.9L211.3 794.7M203.2 800.2L200.7 802.0M238.4 769.3L234.5 767.5L230.7 765.7M223.7 762.0L220.4 760.2L217.2 758.4M214.2 756.6L211.3 754.8L208.5 753.0L205.8 751.1L203.2 749.3L200.7 747.5M238.4 782.0L234.6 783.8L230.9 785.6L227.4 787.5L224.0 789.3L220.8 791.1L217.7 792.9L214.7 794.7L211.9 796.5L209.1 798.4M206.5 800.2L203.9 802.0M201.5 803.8L199.1 805.6L196.8 807.4L194.6 809.3M238.4 767.5L234.6 765.7L230.9 763.9L227.4 762.0M224.0 760.2L220.8 758.4L217.7 756.6M211.9 753.0L209.1 751.1L206.5 749.3M203.9 747.5L201.5 745.7L199.1 743.9L196.8 742.1M177.7 723.9L176.1 722.1L174.5 720.3M238.5 783.8L234.7 785.6M227.7 789.3L224.4 791.1L221.2 792.9L218.2 794.7M215.3 796.5L212.5 798.4L209.8 800.2L207.2 802.0M199.9 807.4L197.7 809.3M238.5 765.7L234.7 763.9M227.7 760.2L224.4 758.4L221.2 756.6L218.2 754.8L215.3 753.0L212.5 751.1L209.8 749.3L207.2 747.5L204.7 745.7M238.5 785.6L234.8 787.5L231.3 789.3L228.0 791.1L224.7 792.9L221.6 794.7L218.7 796.5M215.8 798.4L213.1 800.2L210.4 802.0L207.9 803.8M205.4 805.6L203.0 807.4M238.5 763.9L234.8 762.0L231.3 760.2L228.0 758.4L224.7 756.6L221.6 754.8L218.7 753.0L215.8 751.1L213.1 749.3L210.4 747.5L207.9 745.7L205.4 743.9L203.0 742.1L200.7 740.2M183.1 723.9L181.4 722.1" stroke="rgb(255,70,70)" stroke-opacity="0.2" stroke-width="1.1" fill="none"/><path d="M59.3 735.0h1.7v1.7h-1.7zM76.3 735.5h1.7v1.7h-1.7zM67.6 799.4h1.7v1.7h-1.7zM75.1 754.9h1.7v1.7h-1.7zM88.4 810.6h1.7v1.7h-1.7zM94.2 763.4h1.7v1.7h-1.7zM251.9 748.6h1.5v1.5h-1.5zM259.9 798.0h1.5v1.5h-1.5zM259.2 766.8h1.5v1.5h-1.5zM237.5 817.7h1.5v1.5h-1.5zM256.6 802.0h1.5v1.5h-1.5zM262.2 776.5h1.5v1.5h-1.5zM264.1 766.7h1.5v1.5h-1.5zM232.1 728.5h1.5v1.5h-1.5zM260.2 786.3h1.5v1.5h-1.5zM257.3 778.5h1.5v1.5h-1.5zM248.7 815.5h1.5v1.5h-1.5zM244.6 736.9h1.5v1.5h-1.5zM260.1 758.8h1.5v1.5h-1.5zM236.3 728.9h1.5v1.5h-1.5zM249.5 814.1h1.5v1.5h-1.5zM244.7 816.4h1.5v1.5h-1.5zM259.0 762.2h1.5v1.5h-1.5zM223.6 827.8h1.5v1.5h-1.5zM264.9 764.7h1.5v1.5h-1.5zM221.0 826.8h1.5v1.5h-1.5zM253.9 783.2h1.5v1.5h-1.5zM245.0 736.4h1.5v1.5h-1.5zM253.1 788.2h1.5v1.5h-1.5zM253.3 796.7h1.5v1.5h-1.5zM261.2 754.3h1.5v1.5h-1.5zM252.4 748.8h1.5v1.5h-1.5zM257.6 800.5h1.5v1.5h-1.5zM245.6 817.9h1.5v1.5h-1.5z" fill="rgb(45,45,255)" fill-opacity="0.3"/><path d="M66.9 822.6L68.7 824.0M114.2 830.1L116.5 830.4M123.2 830.9L125.4 831.1M128.4 829.3L130.6 829.6M95.1 819.5L97.2 820.3M142.9 722.0L145.1 721.8M138.4 827.0L140.7 827.3L142.9 827.5M145.1 827.7L147.4 828.0M149.6 828.2L151.8 828.4M154.1 828.6L156.3 828.7M143.8 723.3L146.0 723.0M139.3 825.6L141.6 825.9M143.8 826.2L146.0 826.5M139.9 725.2L142.1 724.9L144.3 724.5L146.6 724.2M205.5 719.6L208.2 719.4M142.1 824.6L144.3 825.0L146.6 825.3M138.1 727.0L140.4 726.6M138.1 822.5L140.4 822.9M142.6 823.3L144.8 823.7M204.9 829.3L207.3 829.4M135.0 730.0L137.2 729.5L139.4 728.9M143.8 728.0L146.0 727.6M212.6 720.8L214.9 720.7M139.4 820.6L141.6 821.0M143.8 821.5L146.0 821.9M194.9 827.6L197.1 827.8L199.3 827.9M205.9 828.3L208.2 828.5M212.6 828.7L214.9 828.8M144.9 819.6L147.1 820.1M198.1 826.7L200.3 826.9L202.5 827.1M139.4 733.7L141.5 733.0L143.7 732.4M141.5 816.5L143.7 817.1L145.9 817.7M201.2 825.8L203.4 826.0M140.4 735.9L142.5 735.2L144.7 734.5M217.5 723.4L219.7 723.3M140.4 813.6L142.5 814.3M204.2 825.0L206.4 825.2L208.7 825.4M215.3 825.9L217.5 826.1M141.4 738.2L143.5 737.4L145.6 736.7M138.2 807.0L140.2 807.9M142.3 808.9L144.4 809.7L146.5 810.6M210.0 823.2L212.3 823.4M214.5 823.7L216.7 823.9L218.9 824.1M141.2 744.2L143.3 743.2M226.1 725.8L228.4 725.6M139.2 804.3L141.2 805.3M210.6 822.1L212.9 822.3M217.3 822.8L219.5 823.0L221.7 823.2L223.9 823.5M142.2 802.6L144.2 803.7M213.4 821.2L215.6 821.5L217.8 821.7M220.0 822.0L222.3 822.2M224.5 822.4L226.7 822.6M137.8 795.9L139.6 797.3M216.1 820.3L218.3 820.6M137.4 758.3L139.1 756.8L140.8 755.3L142.5 753.9M137.4 791.2L139.1 792.7L140.8 794.2M142.5 795.6L144.4 796.9L146.2 798.2M218.8 819.4L221.0 819.7M137.5 763.4L138.9 761.7L140.5 760.1M136.1 784.4L137.5 786.1M142.1 791.0L143.8 792.5M230.3 819.7L232.5 820.0M139.2 767.0L140.6 765.2M143.5 761.9L145.1 760.3M226.3 731.5L228.5 731.2M138.0 780.6L139.2 782.5L140.6 784.3L142.0 786.0M221.8 817.3L224.1 817.7L226.3 818.0M232.9 818.9L235.1 819.1M139.1 774.8L140.1 772.8L141.2 770.8M142.4 768.9L143.7 767.1M233.2 731.8L235.5 731.5M140.1 776.7L141.2 778.7M142.4 780.6L143.7 782.4M145.6 770.9L146.8 769.0M229.2 733.6L231.4 733.2L233.6 732.9M238.0 732.3L240.2 732.0M229.2 815.9L231.4 816.3M233.9 734.1L236.1 733.8M227.3 814.3L229.5 814.7M231.7 815.0L233.9 815.4M238.6 814.9L240.8 815.2M234.5 736.6L236.7 736.2L238.9 735.8L241.1 735.5M234.5 812.9L236.7 813.3M234.8 737.9L237.0 737.5M239.2 737.1L241.4 736.7L243.6 736.3M237.0 812.0L239.2 812.4M235.1 739.2L237.2 738.8M230.7 809.4L232.9 809.8L235.1 810.3L237.2 810.7L239.4 811.2L241.6 811.6L243.8 812.0M239.7 739.7L241.9 739.2M233.1 808.4L235.3 808.9L237.5 809.4M239.7 809.8L241.9 810.3M237.7 741.5L239.9 741.0L242.1 740.6L244.3 740.1L246.5 739.7M235.6 807.5L237.7 808.0L239.9 808.5L242.1 808.9M238.0 742.9L240.2 742.4M240.2 807.1L242.3 807.6M240.4 743.9L242.6 743.3M238.2 805.1L240.4 805.6M242.6 806.2L244.7 806.7M240.6 745.4L242.8 744.8L245.0 744.3M247.1 805.8L249.3 806.3M245.2 745.7L247.4 745.2M236.6 801.3L238.7 802.0M243.0 803.2L245.2 803.8M247.4 804.3L249.5 804.9M236.9 799.7L239.0 800.3L241.1 801.0M245.4 802.2L247.6 802.8M251.9 804.0L254.1 804.5M247.8 748.2L250.0 747.6M239.3 798.7L241.4 799.4M247.8 801.3L250.0 801.9M245.9 750.5L248.0 749.8M239.6 796.9L241.7 797.6M241.9 753.7L244.1 752.9M246.2 752.2L248.3 751.4M241.9 795.8L244.1 796.6M250.4 798.7L252.5 799.4M242.3 794.0L244.3 794.8M246.4 795.6L248.5 796.3M244.6 756.6L246.7 755.8M240.5 791.1L242.6 792.0M246.7 793.7L248.8 794.6M245.0 758.6L247.0 757.7L249.1 756.8M249.8 760.8L251.8 759.9M243.8 785.6L245.8 786.7M242.5 767.6L244.4 766.3M248.2 764.1L250.2 763.0M244.4 783.2L246.3 784.3M243.2 770.3L245.0 768.9L246.8 767.7L248.7 766.4M241.4 777.8L243.2 779.2M250.7 784.2L252.6 785.3M242.4 774.8L244.0 773.2M245.8 771.7L247.5 770.3L249.4 769.0M242.4 774.8L244.0 776.3M251.2 781.8L253.1 783.0M246.7 774.8L248.4 773.2L250.1 771.7L251.9 770.4M246.7 774.8L248.4 776.3M251.0 774.8L252.7 773.2M252.7 776.3L254.4 777.7M173.4 827.4L171.9 829.2M173.4 722.1L171.9 720.3L170.4 718.4M255.9 774.8L251.2 776.6M173.0 831.1L171.5 832.9M174.5 720.3L173.0 718.4M177.1 829.2L175.6 831.1L174.0 832.9M181.4 827.4L179.7 829.2M178.2 718.4L176.6 716.6" stroke="rgb(45,45,255)" stroke-opacity="0.3" stroke-width="1.1" fill="none"/><path d="M174.1 719.6L176.3 719.5L178.6 719.3L181.0 719.2L183.5 719.1L186.1 719.0L188.9 718.8L191.8 718.7M175.0 720.5L177.2 720.3M179.4 720.2L181.6 720.0L183.9 719.9L186.1 719.8L188.4 719.7M190.8 719.6L193.3 719.4M175.5 721.3L177.7 721.1L180.0 721.0M182.2 720.8L184.4 720.7M188.8 720.4L191.1 720.3M200.3 719.8L202.9 719.7L205.5 719.6M175.9 722.2L178.2 722.0L180.4 721.8L182.6 721.6L184.8 721.5M187.1 721.3L189.3 721.2M202.6 720.4L204.9 720.2M174.9 723.6L177.1 723.4L179.3 723.2M183.8 722.8L186.0 722.6M208.2 721.0L210.4 720.9M180.3 724.4L182.5 724.1L184.8 723.9M179.0 725.9L181.2 725.6M201.2 723.7L203.4 723.5L205.6 723.3L207.8 723.1M210.1 723.0L212.3 722.8L214.5 722.6M175.4 727.9L177.6 727.6L179.8 727.3M195.3 725.4L197.6 725.2M199.8 725.0L202.0 724.7L204.2 724.5L206.4 724.3L208.7 724.1M191.6 727.1L193.9 726.9L196.1 726.6M200.5 726.1L202.7 725.9M211.6 725.0L213.8 724.8M216.0 724.6L218.2 724.4M187.9 729.0L190.1 728.7M196.7 727.8L199.0 727.5L201.2 727.3L203.4 727.0L205.6 726.8L207.8 726.5M212.3 726.1L214.5 725.8L216.7 725.6L218.9 725.4M190.7 730.1L192.9 729.7M197.4 729.1L199.6 728.8L201.8 728.5L204.0 728.2M210.6 727.4L212.9 727.2M219.5 726.5L221.7 726.3M184.7 732.7L186.9 732.3L189.1 731.9L191.3 731.5L193.5 731.1L195.7 730.7M197.9 730.4L200.1 730.1M202.3 729.7L204.6 729.4L206.8 729.1M209.0 728.8L211.2 728.6L213.4 728.3L215.6 728.0M217.8 727.8L220.0 727.5L222.3 727.3M189.7 733.4L191.9 732.9L194.1 732.5L196.3 732.1L198.5 731.8M207.3 730.4L209.5 730.1M199.0 733.2L201.2 732.8L203.4 732.4L205.6 732.0M207.8 731.7L210.0 731.3M214.4 730.7L216.6 730.4M190.7 736.5L192.9 736.0L195.0 735.5L197.2 735.0L199.4 734.6L201.6 734.2M206.0 733.4L208.2 733.0L210.4 732.6M217.0 731.6L219.2 731.3M223.7 730.7L225.9 730.4L228.1 730.1M193.3 737.6L195.5 737.1L197.7 736.6M206.4 734.8L208.6 734.3L210.8 733.9M217.4 732.8L219.6 732.5L221.8 732.2L224.1 731.8L226.3 731.5M197.7 812.9L199.9 813.4M202.1 813.9L204.2 814.3M206.4 814.7L208.6 815.2L210.8 815.6M185.2 741.7L187.3 741.1M206.8 736.2L209.0 735.7L211.2 735.3L213.4 734.9M217.8 734.1L220.0 733.8M222.2 733.4L224.4 733.0M191.6 809.7L193.8 810.3L195.9 810.8L198.1 811.4L200.3 811.9M202.5 812.4L204.7 812.8L206.8 813.3L209.0 813.8M211.2 814.2L213.4 814.6M183.5 744.4L185.7 743.6M187.8 742.9L189.9 742.2L192.1 741.6M194.2 741.0L196.4 740.4L198.5 739.8L200.7 739.2L202.9 738.7M205.1 738.2L207.2 737.7M213.8 736.3L216.0 735.9M218.2 735.5L220.4 735.1M185.7 805.9L187.8 806.6M189.9 807.3L192.1 807.9M194.2 808.5L196.4 809.1L198.5 809.7L200.7 810.3M205.1 811.3L207.2 811.8M190.4 744.1L192.5 743.4L194.7 742.7L196.8 742.1L199.0 741.5L201.1 740.9M203.3 740.3L205.4 739.7L207.6 739.2M216.3 737.3L218.5 736.8M225.1 735.6L227.3 735.2L229.5 734.8M188.3 804.7L190.4 805.4M192.5 806.1L194.7 806.8L196.8 807.4M207.6 810.3L209.8 810.8M218.5 812.7L220.7 813.1M188.8 746.8L190.9 746.1L193.0 745.3M199.4 743.2L201.5 742.6L203.7 742.0L205.8 741.4M208.0 740.8L210.2 740.2L212.3 739.7L214.5 739.2L216.7 738.7L218.9 738.2M188.8 802.7L190.9 803.4M195.1 804.9L197.2 805.6M199.4 806.3L201.5 806.9M203.7 807.5L205.8 808.1M210.2 809.3L212.3 809.8L214.5 810.3M216.7 810.8L218.9 811.3M197.7 745.7L199.8 745.0L201.9 744.3M210.5 741.8L212.7 741.3L214.8 740.7M232.3 737.0L234.5 736.6M189.3 800.6L191.4 801.4M193.4 802.2L195.5 803.0L197.7 803.8L199.8 804.5M214.8 808.8L217.0 809.3M221.4 810.3L223.6 810.8L225.7 811.2L227.9 811.7M191.9 750.2L193.9 749.3L196.0 748.5M198.1 747.7L200.2 746.9M202.3 746.2L204.4 745.5L206.6 744.8M208.7 744.1L210.9 743.5L213.0 742.9M187.8 797.4L189.8 798.4M191.9 799.3L193.9 800.2L196.0 801.0M198.1 801.8L200.2 802.6L202.3 803.3L204.4 804.0M213.0 806.6L215.2 807.2L217.3 807.8M223.9 809.3L226.0 809.8L228.2 810.3L230.4 810.7M190.4 753.4L192.4 752.4L194.4 751.5L196.5 750.6L198.6 749.7L200.6 748.9M202.7 748.1L204.8 747.3L207.0 746.6M217.7 743.3L219.8 742.8M222.0 742.2L224.2 741.7M186.4 794.0L188.4 795.1M190.4 796.1L192.4 797.1M196.5 798.9L198.6 799.8L200.6 800.6M204.8 802.2L207.0 802.9L209.1 803.6L211.2 804.3L213.4 804.9L215.5 805.6M226.3 808.4L228.5 808.9M191.0 755.7L193.0 754.7M195.0 753.7L197.0 752.7M201.1 750.9L203.2 750.1L205.3 749.2M207.4 748.5L209.5 747.7M215.9 745.6L218.0 745.0M220.1 744.4L222.3 743.8L224.5 743.2M233.1 741.1L235.3 740.6M185.2 790.3L187.1 791.5M193.0 794.8L195.0 795.8L197.0 796.8L199.0 797.7M205.3 800.3L207.4 801.0M211.6 802.5L213.7 803.2M220.1 805.1L222.3 805.7M226.6 806.9L228.8 807.4L231.0 807.9M191.6 758.2L193.6 757.1L195.5 756.0M199.5 754.0L201.6 753.0M203.6 752.1L205.7 751.2L207.8 750.4L209.9 749.6M220.5 746.0L222.6 745.4L224.8 744.8L226.9 744.2M229.1 743.6L231.2 743.1L233.4 742.5L235.6 742.0M186.0 787.5L187.8 788.8M191.6 791.3L193.6 792.4L195.5 793.5L197.5 794.5L199.5 795.5L201.6 796.5M205.7 798.3L207.8 799.1M209.9 799.9L212.0 800.7L214.1 801.4M216.2 802.1L218.3 802.8L220.5 803.5M224.8 804.7L226.9 805.3L229.1 805.9M186.9 764.9L188.7 763.5M190.5 762.1L192.3 760.8L194.2 759.6L196.1 758.5L198.1 757.3M202.1 755.3L204.1 754.3M206.1 753.3L208.2 752.4M233.7 744.0L235.8 743.5L238.0 742.9M188.7 786.0L190.5 787.4L192.3 788.7M198.1 792.2L200.1 793.2M202.1 794.2L204.1 795.2L206.1 796.2M208.2 797.1L210.3 797.9M212.3 798.7L214.4 799.5L216.5 800.3L218.7 801.0M220.8 801.7L222.9 802.4M229.3 804.3L231.5 804.9M184.9 771.2L186.4 769.5M188.0 768.0L189.7 766.4L191.4 765.0L193.2 763.6M195.0 762.3L196.8 761.0L198.7 759.8L200.7 758.7M206.6 755.5L208.6 754.6L210.7 753.6M214.8 751.9L216.9 751.1M219.0 750.3L221.1 749.5L223.2 748.8M184.9 778.3L186.4 780.0M188.0 781.5L189.7 783.1L191.4 784.5L193.2 785.9L195.0 787.2M198.7 789.7L200.7 790.8M202.6 791.9L204.6 793.0M206.6 794.0L208.6 794.9M210.7 795.9L212.7 796.7L214.8 797.6M229.6 802.7L231.8 803.3M195.8 765.1L197.6 763.8L199.4 762.5L201.3 761.2L203.2 760.0L205.2 758.9L207.1 757.8M211.1 755.8L213.2 754.8M229.9 748.5L232.1 747.8M236.3 746.5L238.5 745.9M192.4 781.5L194.1 783.0L195.8 784.4L197.6 785.7L199.4 787.0M205.2 790.6L207.1 791.7L209.1 792.7M211.1 793.7L213.2 794.7L215.2 795.6L217.3 796.4L219.4 797.3M221.5 798.1L223.6 798.9L225.7 799.6M232.1 801.7L234.2 802.3M190.7 774.8L192.1 773.0M193.6 771.3L195.2 769.7L196.8 768.1L198.5 766.6M200.3 765.2L202.1 763.9M205.8 761.4L207.7 760.2L209.7 759.1L211.6 758.1L213.6 757.0L215.7 756.1L217.7 755.1M190.7 774.8L192.1 776.5M198.5 782.9L200.3 784.3L202.1 785.6L203.9 786.9L205.8 788.1L207.7 789.3L209.7 790.4L211.6 791.4L213.6 792.5L215.7 793.4M223.9 797.0L226.0 797.8M232.3 800.0L234.5 800.7M195.0 774.8L196.5 773.0L198.0 771.3M199.5 769.7L201.2 768.2L202.9 766.7M210.3 761.6L212.2 760.4L214.2 759.3M218.1 757.3L220.2 756.3M224.3 754.5L226.3 753.6M236.9 749.8L239.0 749.2M195.0 774.8L196.5 776.5L198.0 778.2L199.5 779.8M202.9 782.8L204.7 784.1L206.5 785.5L208.4 786.7M214.2 790.2L216.1 791.2M224.3 795.0L226.3 795.9M200.8 773.0L202.3 771.4M203.9 769.8L205.6 768.3M212.8 762.9L214.7 761.7M218.6 759.5L220.6 758.5M230.9 753.9L232.9 753.1M237.2 751.6L239.3 750.8M199.4 774.8L200.8 776.5M202.3 778.1L203.9 779.7M214.7 787.8L216.7 788.9M218.6 790.0L220.6 791.0M232.9 796.4L235.0 797.2M206.7 771.4L208.3 769.8L210.0 768.4M211.7 766.9L213.5 765.6M203.7 774.8L205.1 776.5M210.0 781.1L211.7 782.6L213.5 783.9M215.4 785.2L217.3 786.4M223.1 789.8L225.1 790.8L227.1 791.8L229.2 792.7M214.4 768.4L216.1 767.0M219.8 764.4L221.7 763.2L223.6 762.1M227.6 759.9L229.6 758.9M209.4 776.5L211.0 778.1M216.1 782.5L218.0 783.8M225.6 788.5L227.6 789.6M229.6 790.6L231.6 791.6M235.7 793.4L237.8 794.2M212.3 774.8L213.8 773.1M215.4 771.5L217.0 769.9M218.7 768.5L220.5 767.1M226.1 763.4L228.1 762.2M232.0 760.1L234.0 759.1M236.1 758.2L238.1 757.2L240.2 756.4M213.8 776.4L215.4 778.0M217.0 779.6L218.7 781.0L220.5 782.4M234.0 790.4L236.1 791.3M236.5 760.3L238.5 759.3M221.4 779.5L223.1 780.9M224.9 782.3L226.8 783.6M236.5 789.2L238.5 790.2M222.4 773.1L224.0 771.5M225.7 770.1L227.5 768.6M229.3 767.3L231.2 766.0M233.1 764.8L235.0 763.7M220.9 774.8L222.4 776.4M238.9 788.0L240.9 789.0M237.5 764.9L239.4 763.8M230.1 779.4L231.9 780.8M238.1 767.5L240.0 766.2M231.1 776.4L232.7 777.9M234.5 779.3L236.3 780.7M237.1 771.6L238.8 770.2L240.6 768.9M237.1 777.9L238.8 779.3M238.1 774.8L239.7 773.2M241.4 771.7L243.2 770.3M238.7 774.8L234.3 776.6M238.7 774.8L234.3 772.9L230.3 771.1L226.4 769.3M238.6 776.6L234.4 778.4M238.5 771.1L234.4 769.3M234.5 782.0L230.7 783.8M230.7 765.7L227.1 763.9" stroke="rgb(255,70,70)" stroke-opacity="0.3" stroke-width="1.1" fill="none"/><path d="M154.3 715.6L162.0 715.5M154.3 833.9L162.0 834.0M171.0 834.1L181.9 834.2M175.8 716.4L181.5 716.3M170.7 833.0L175.8 833.1M187.9 833.3L194.9 833.5M160.6 718.1L163.4 717.9M166.4 717.8L169.5 717.7M180.3 717.3L184.4 717.2M188.8 717.1L193.5 717.0M169.5 831.8L172.9 831.9M180.3 832.2L184.4 832.3M157.2 719.5L159.4 719.3M163.8 719.1L166.1 719.0M173.5 718.6L176.2 718.5L179.1 718.4M188.7 718.0L192.2 717.9M196.0 717.8L200.0 717.6M166.1 830.5L168.5 830.7M179.1 831.1L182.1 831.3M188.7 831.5L192.2 831.6M134.0 723.1L136.2 722.8L138.4 722.5L140.7 722.2M169.6 719.8L171.9 719.7M197.9 718.5L201.3 718.4M167.4 829.5L169.6 829.7M181.0 830.3L183.5 830.4M186.1 830.5L188.9 830.7M194.8 830.9L197.9 831.0M130.4 725.3L132.7 724.9M134.9 724.6L137.1 724.2M139.3 723.9L141.6 723.6L143.8 723.3M161.6 721.4L163.9 721.3M201.4 719.1L204.4 719.0M137.1 825.3L139.3 825.6M161.6 828.1L163.9 828.2M172.8 828.9L175.0 829.0M186.1 829.7L188.4 829.8M135.4 726.0L137.7 725.6L139.9 725.2M173.3 721.5L175.5 721.3M135.4 823.5L137.7 823.9L139.9 824.3L142.1 824.6M197.9 829.6L200.3 829.7M205.5 829.9L208.2 830.1M129.3 729.0L131.5 728.5M140.4 726.6L142.6 726.2M133.7 821.6L135.9 822.0M140.4 822.9L142.6 823.3M198.1 828.9L200.4 829.0M202.6 829.1L204.9 829.3M207.3 829.4L209.8 829.5M132.8 730.6L135.0 730.0M139.4 728.9L141.6 728.5M137.2 820.0L139.4 820.6M199.3 827.9L201.5 828.1M210.4 828.6L212.6 828.7M134.0 732.8L136.1 732.1M138.3 731.5L140.5 730.9M131.8 816.0L134.0 816.7M138.3 818.0L140.5 818.6M202.5 827.1L204.7 827.2L207.0 827.4L209.2 827.5L211.4 827.7M133.0 735.9L135.1 735.1M137.2 734.4L139.4 733.7M124.7 810.0L126.7 811.0M133.0 813.6L135.1 814.4L137.2 815.1L139.4 815.8L141.5 816.5M203.4 826.0L205.6 826.2M138.3 736.7L140.4 735.9M138.3 812.8L140.4 813.6M208.7 825.4L210.9 825.5M135.1 740.9L137.2 740.0L139.3 739.1L141.4 738.2M220.5 724.2L222.7 724.1M135.1 808.6L137.2 809.5M207.2 824.1L209.4 824.3L211.6 824.5L213.8 824.7L216.0 824.9M220.5 825.3L222.7 825.4M134.2 744.7L136.2 743.6M138.2 742.5L140.2 741.6M212.3 823.4L214.5 823.7M223.3 824.5L225.5 824.6M135.4 747.5L137.3 746.3L139.2 745.2L141.2 744.2M137.3 803.2L139.2 804.3M141.2 805.3L143.3 806.3M133.0 753.2L134.7 751.8L136.5 750.5L138.4 749.2L140.3 748.0L142.2 746.9M134.7 797.7L136.5 799.0L138.4 800.3L140.3 801.5L142.2 802.6M217.8 821.7L220.0 822.0M222.3 822.2L224.5 822.4M226.7 822.6L228.9 822.9M128.3 763.1L129.7 761.4M139.6 752.2L141.4 750.9M229.4 727.7L231.6 727.4M139.6 797.3L141.4 798.6M218.3 820.6L220.5 820.9M225.0 821.4L227.2 821.6M134.3 761.5L135.8 759.9M223.2 820.0L225.4 820.3M227.6 820.5L229.9 820.8L232.1 821.0M132.4 770.7L133.5 768.8M136.1 765.1L137.5 763.4M140.5 760.1L142.1 758.5M234.7 729.3L236.9 729.0M137.5 786.1L138.9 787.8M140.5 789.4L142.1 791.0M219.2 818.2L221.4 818.5L223.7 818.8L225.9 819.1L228.1 819.4L230.3 819.7M134.8 774.8L135.7 772.7M136.8 770.8L138.0 768.9L139.2 767.0M226.3 818.0L228.5 818.3L230.7 818.6L232.9 818.9M228.8 732.4L231.0 732.1L233.2 731.8M235.5 731.5L237.7 731.2M141.2 778.7L142.4 780.6M224.4 816.5L226.6 816.8L228.8 817.1L231.0 817.4L233.2 817.7L235.5 818.0M233.6 732.9L235.8 732.6M224.8 815.2L227.0 815.6L229.2 815.9M235.8 816.9L238.0 817.2M236.1 733.8L238.3 733.4M240.5 733.1L242.7 732.8M229.5 814.7L231.7 815.0M236.1 815.7L238.3 816.1M232.0 735.7L234.2 735.3L236.4 735.0L238.6 734.6M240.8 734.3L243.0 733.9M229.8 813.4L232.0 813.8L234.2 814.2L236.4 814.5M243.3 735.1L245.5 734.8M230.1 812.1L232.3 812.5L234.5 812.9M236.7 813.3L238.9 813.7L241.1 814.0L243.3 814.4M232.6 811.2L234.8 811.6M239.2 812.4L241.4 812.8L243.6 813.2M239.4 738.3L241.6 737.9M243.8 737.5L246.0 737.1M243.8 812.0L246.0 812.4M244.1 738.8L246.2 738.4M237.5 809.4L239.7 809.8M241.9 810.3L244.1 810.7M233.4 807.0L235.6 807.5M246.5 809.8L248.7 810.3M240.2 742.4L242.3 741.9L244.5 741.4L246.7 741.0L248.9 740.5L251.1 740.1M235.8 806.0L238.0 806.6L240.2 807.1M244.7 742.8L246.9 742.3L249.1 741.9M240.4 805.6L242.6 806.2M249.1 807.6L251.3 808.1M236.3 803.0L238.5 803.6L240.6 804.1L242.8 804.7M245.0 805.2L247.1 805.8M240.9 746.9L243.0 746.3L245.2 745.7M247.4 745.2L249.5 744.6M238.7 802.0L240.9 802.6L243.0 803.2M241.1 748.5L243.3 747.9M245.4 747.3L247.6 746.7M241.1 801.0L243.3 801.6L245.4 802.2M245.7 748.8L247.8 748.2M250.0 747.6L252.1 747.0M243.5 800.0L245.7 800.7M241.7 751.9L243.8 751.1L245.9 750.5M250.2 749.1L252.3 748.5L254.5 747.9M241.7 797.6L243.8 798.4M250.2 800.4L252.3 801.0L254.5 801.6M246.2 797.3L248.3 798.1M242.3 755.5L244.3 754.7L246.4 753.9M248.5 753.2L250.7 752.4M252.8 751.7L254.9 751.1M240.2 793.1L242.3 794.0M242.6 757.5L244.6 756.6M250.9 754.2L253.0 753.4M242.6 792.0L244.6 792.9L246.7 793.7M248.8 794.6L250.9 795.3M253.0 796.1L255.1 796.8M242.9 759.5L245.0 758.6M247.0 791.8L249.1 792.7M241.4 762.7L243.4 761.7L245.4 760.7L247.4 759.7L249.4 758.8M251.5 757.9L253.6 757.0M243.4 787.8L245.4 788.8L247.4 789.8M249.4 790.7L251.5 791.6L253.6 792.5M243.8 763.9L245.8 762.8M251.8 759.9L253.9 759.0M241.9 784.4L243.8 785.6M245.8 786.7L247.8 787.7L249.8 788.7L251.8 789.6M244.4 766.3L246.3 765.2M250.2 763.0L252.2 762.0L254.2 761.0M242.5 781.9L244.4 783.2M250.2 786.5L252.2 787.5L254.2 788.5M248.7 766.4L250.7 765.3M252.6 764.2L254.6 763.1M243.2 779.2L245.0 780.6M246.8 781.8L248.7 783.1M244.0 773.2L245.8 771.7M249.4 769.0L251.2 767.7L253.1 766.5M255.1 765.4L257.0 764.3M244.0 776.3L245.8 777.8M247.5 779.2L249.4 780.5M255.1 784.1L257.0 785.2M248.4 776.3L250.1 777.8M251.9 779.1L253.7 780.4L255.6 781.7M254.4 777.7L256.2 779.1" stroke="rgb(45,45,255)" stroke-opacity="0.4" stroke-width="1.1" fill="none"/><path d="M191.8 718.7L194.8 718.6M195.9 719.3L198.6 719.2M184.4 720.7L186.6 720.5L188.8 720.4M197.9 719.9L200.3 719.8M184.8 721.5L187.1 721.3M200.4 720.5L202.6 720.4M204.9 720.2L207.3 720.1M203.7 721.3L205.9 721.2M175.9 724.9L178.1 724.6M204.7 722.3L207.0 722.1L209.2 722.0L211.4 721.8M208.7 724.1L210.9 724.0L213.1 723.8M202.7 725.9L204.9 725.6L207.2 725.4L209.4 725.2M207.8 726.5L210.0 726.3L212.3 726.1M218.9 725.4L221.1 725.2L223.3 725.0M204.0 728.2L206.2 727.9L208.4 727.7L210.6 727.4M212.9 727.2L215.1 726.9L217.3 726.7M224.5 727.1L226.7 726.9M209.5 730.1L211.7 729.8M213.9 729.5L216.1 729.2L218.3 728.9L220.5 728.6L222.8 728.4M227.2 727.9L229.4 727.7M216.6 730.4L218.8 730.1L221.0 729.8M225.4 729.2L227.6 729.0M210.4 732.6L212.6 732.3L214.8 731.9M219.2 731.3L221.4 731.0L223.7 730.7M228.1 730.1L230.3 729.8L232.5 729.5M213.0 733.6L215.2 733.2M198.1 738.1L200.3 737.6M202.5 737.1L204.7 736.7L206.8 736.2M213.4 734.9L215.6 734.5L217.8 734.1M224.4 733.0L226.6 732.7L228.8 732.4M209.0 813.8L211.2 814.2M207.2 737.7L209.4 737.2L211.6 736.7L213.8 736.3M216.0 735.9L218.2 735.5M220.4 735.1L222.6 734.7L224.8 734.3M227.0 733.9L229.2 733.6M200.7 810.3L202.9 810.8M209.4 812.3L211.6 812.8L213.8 813.2M201.1 740.9L203.3 740.3M207.6 739.2L209.8 738.7L212.0 738.2L214.2 737.7M218.5 736.8L220.7 736.4L222.9 736.0L225.1 735.6M203.3 809.2L205.4 809.8M209.8 810.8L212.0 811.3L214.2 811.8L216.3 812.2M218.9 738.2L221.1 737.8M223.2 737.3L225.4 736.9M208.0 808.7L210.2 809.3M214.5 810.3L216.7 810.8M218.9 811.3L221.1 811.7M204.1 743.7L206.2 743.0L208.4 742.4L210.5 741.8M214.8 740.7L217.0 740.2M219.2 739.7L221.4 739.2L223.6 738.7L225.7 738.3M227.9 737.8L230.1 737.4L232.3 737.0M199.8 804.5L201.9 805.2M208.4 807.1L210.5 807.7L212.7 808.2L214.8 808.8M217.0 809.3L219.2 809.8M206.6 744.8L208.7 744.1M215.2 742.3L217.3 741.7M232.6 738.3L234.8 737.9M206.6 804.7L208.7 805.4L210.9 806.0M217.3 807.8L219.5 808.3L221.7 808.8M200.6 748.9L202.7 748.1M207.0 746.6L209.1 745.9L211.2 745.2L213.4 744.6M215.5 743.9L217.7 743.3M219.8 742.8L222.0 742.2M224.2 741.7L226.3 741.1M230.7 740.1L232.9 739.7L235.1 739.2M200.6 800.6L202.7 801.4L204.8 802.2M215.5 805.6L217.7 806.2M219.8 806.7L222.0 807.3L224.2 807.8L226.3 808.4M205.3 749.2L207.4 748.5M209.5 747.7L211.6 747.0M218.0 745.0L220.1 744.4M224.5 743.2L226.6 742.6M228.8 742.1L231.0 741.6M199.0 797.7L201.1 798.6M203.2 799.4L205.3 800.3M207.4 801.0L209.5 801.8L211.6 802.5M215.9 803.9L218.0 804.5M222.3 805.7L224.5 806.3M201.6 753.0L203.6 752.1M212.0 748.8L214.1 748.1L216.2 747.4M218.3 746.7L220.5 746.0M207.8 799.1L209.9 799.9M214.1 801.4L216.2 802.1M220.5 803.5L222.6 804.1M204.1 754.3L206.1 753.3M208.2 752.4L210.3 751.6L212.3 750.8M222.9 747.1L225.1 746.4M231.5 744.6L233.7 744.0M222.9 802.4L225.1 803.1L227.2 803.7M204.6 756.5L206.6 755.5M210.7 753.6L212.7 752.8L214.8 751.9M225.4 748.1L227.5 747.4M231.8 746.2L233.9 745.6L236.1 745.0M208.6 794.9L210.7 795.9M214.8 797.6L216.9 798.4L219.0 799.2L221.1 800.0M223.2 800.7L225.4 801.4L227.5 802.1M213.2 754.8L215.2 753.9L217.3 753.1L219.4 752.2L221.5 751.4L223.6 750.6M225.7 749.9L227.8 749.2L229.9 748.5M234.2 747.2L236.3 746.5M209.1 792.7L211.1 793.7M219.8 754.2L221.8 753.3M228.1 751.0L230.2 750.2M232.3 749.5L234.5 748.8L236.6 748.2L238.7 747.5M217.7 794.4L219.8 795.3M226.0 797.8L228.1 798.5M204.7 765.4L206.5 764.0L208.4 762.8L210.3 761.6M216.1 758.3L218.1 757.3M222.2 755.4L224.3 754.5M226.3 753.6L228.4 752.8M230.5 752.0L232.6 751.3M234.7 750.5L236.9 749.8M199.5 779.8L201.2 781.3L202.9 782.8M210.3 787.9L212.2 789.1L214.2 790.2M218.1 792.2L220.2 793.2L222.2 794.1L224.3 795.0M228.4 796.7L230.5 797.5L232.6 798.2L234.7 799.0M202.3 771.4L203.9 769.8M205.6 768.3L207.3 766.8L209.1 765.5L210.9 764.2L212.8 762.9M214.7 761.7L216.7 760.6L218.6 759.5M232.9 753.1L235.0 752.3M200.8 776.5L202.3 778.1M203.9 779.7L205.6 781.2M209.1 784.0L210.9 785.3L212.8 786.6L214.7 787.8M216.7 788.9L218.6 790.0M220.6 791.0L222.6 792.0L224.7 793.0M230.9 795.6L232.9 796.4M203.7 774.8L205.1 773.0L206.7 771.4M210.0 768.4L211.7 766.9M213.5 765.6L215.4 764.3M217.3 763.1L219.2 761.9L221.1 760.8L223.1 759.7M227.1 757.7L229.2 756.8M231.2 755.9L233.3 755.0M206.7 778.1L208.3 779.7L210.0 781.1M213.5 783.9L215.4 785.2M233.3 794.5L235.4 795.3M209.4 773.0L211.0 771.4M216.1 767.0L218.0 765.7M223.6 762.1L225.6 761.0M229.6 758.9L231.6 757.9M237.8 755.3L239.9 754.4M208.0 774.8L209.4 776.5M211.0 778.1L212.7 779.6L214.4 781.1L216.1 782.5M218.0 783.8L219.8 785.1L221.7 786.3L223.6 787.4L225.6 788.5M227.6 789.6L229.6 790.6M233.6 792.5L235.7 793.4M213.8 773.1L215.4 771.5M217.0 769.9L218.7 768.5M222.4 765.8L224.2 764.6L226.1 763.4M228.1 762.2L230.0 761.2M212.3 774.8L213.8 776.4M228.1 787.3L230.0 788.3M216.6 774.8L218.1 773.1L219.7 771.5L221.4 770.0M226.8 765.9L228.7 764.7L230.6 763.5M232.5 762.4L234.5 761.3L236.5 760.3M216.6 774.8L218.1 776.4M219.7 778.0L221.4 779.5M223.1 780.9L224.9 782.3M230.6 786.0L232.5 787.1M220.9 774.8L222.4 773.1M231.2 766.0L233.1 764.8M236.9 762.5L238.9 761.5M222.4 776.4L224.0 778.0L225.7 779.4M231.2 783.5L233.1 784.7L235.0 785.8M226.7 773.1L228.4 771.6L230.1 770.1L231.9 768.7M235.6 766.1L237.5 764.9M233.7 782.1L235.6 783.4M234.5 770.2L236.3 768.8M232.7 777.9L234.5 779.3M233.8 774.8L235.4 773.2M238.1 774.8L239.7 776.3" stroke="rgb(255,70,70)" stroke-opacity="0.4" stroke-width="1.1" fill="none"/><path d="M162.0 715.5L171.0 715.4L181.9 715.3M162.0 834.0L171.0 834.1M170.7 716.5L175.8 716.4M175.8 833.1L181.5 833.2L187.9 833.3M108.2 722.9L110.4 722.5M172.9 717.6L176.5 717.4M184.4 717.2L188.8 717.1M193.5 717.0L198.7 716.8M103.7 825.7L106.0 826.2M172.9 831.9L176.5 832.1M184.4 832.3L188.8 832.4L193.5 832.5M101.5 727.6L103.7 726.9M119.2 723.4L121.4 723.0M123.7 722.7L125.9 722.4M182.1 718.2L185.3 718.1L188.7 718.0M108.1 823.8L110.3 824.3M112.5 824.8L114.7 825.3M159.4 830.2L161.6 830.3M168.5 830.7L170.9 830.8L173.5 830.9L176.2 831.0L179.1 831.1M185.3 831.4L188.7 831.5M129.5 723.7L131.7 723.4L134.0 723.1M156.3 720.8L158.5 720.6M165.2 720.1L167.4 720.0M109.6 821.5L111.8 822.1M122.8 824.6L125.0 825.0M134.0 826.4L136.2 826.7L138.4 827.0M163.0 829.2L165.2 829.4M169.6 829.7L171.9 829.8M176.3 830.0L178.6 830.2M183.5 830.4L186.1 830.5M197.9 831.0L201.3 831.1L204.8 831.3M110.7 730.3L112.8 729.6M137.1 724.2L139.3 723.9M163.9 721.3L166.1 721.1M115.0 820.6L117.2 821.2M126.0 823.3L128.2 823.8L130.4 824.2M134.9 824.9L137.1 825.3M163.9 828.2L166.1 828.4M170.5 828.7L172.8 828.9M188.4 829.8L190.8 829.9M195.9 830.2L198.6 830.3L201.4 830.4L204.4 830.5M105.3 735.4L107.3 734.4M128.8 727.3L131.0 726.8M133.2 726.4L135.4 726.0M111.4 816.9L113.6 817.8M131.0 822.7L133.2 823.1M188.8 829.1L191.1 829.2L193.3 829.3L195.5 829.5M125.0 730.2L127.1 729.6M131.5 728.5L133.7 727.9L135.9 727.5M108.2 812.5L110.2 813.6M127.1 819.9L129.3 820.5M135.9 822.0L138.1 822.5M187.1 828.2L189.3 828.3M191.5 828.5L193.7 828.6M195.9 828.8L198.1 828.9M200.4 829.0L202.6 829.1M122.0 734.1L124.2 733.3M130.6 731.2L132.8 730.6M93.3 791.4L94.3 793.3M106.2 806.7L108.0 808.0M119.9 814.5L122.0 815.4M124.2 816.2L126.3 816.9M128.4 817.6L130.6 818.3M132.8 818.9L135.0 819.5M201.5 828.1L203.7 828.2M109.8 744.8L111.6 743.4M113.4 742.1L115.3 740.9M119.3 738.7L121.3 737.7L123.4 736.7M136.1 732.1L138.3 731.5M213.6 721.7L215.8 721.6M99.2 793.1L100.5 795.0M104.8 800.1L106.4 801.7M119.3 810.8L121.3 811.8M125.4 813.7L127.6 814.5M129.7 815.3L131.8 816.0M136.1 817.4L138.3 818.0M211.4 827.7L213.6 827.8M116.9 744.1L118.8 742.8M122.7 740.5L124.7 739.5L126.7 738.5M214.5 722.6L216.7 722.5L218.9 722.3M96.6 776.9L97.2 779.0M115.0 804.1L116.9 805.4L118.8 806.7L120.7 807.9M128.8 811.9L130.8 812.8M207.8 826.4L210.1 826.5L212.3 826.7L214.5 826.9M216.7 827.0L218.9 827.2M102.4 768.5L103.3 766.4L104.3 764.4M116.7 748.7L118.4 747.3M120.2 745.9L122.1 744.7L124.0 743.5M129.9 740.2L132.0 739.2L134.1 738.3L136.1 737.5L138.3 736.7M102.4 781.0L103.3 783.1M111.8 796.1L113.4 797.7M120.2 803.6L122.1 804.8M129.9 809.3L132.0 810.3M134.1 811.2L136.1 812.0L138.3 812.8M210.9 825.5L213.1 825.7L215.3 825.9M217.5 826.1L219.7 826.2L222.0 826.4M109.9 762.6L111.1 760.7M120.0 750.6L121.7 749.2M123.5 747.8L125.3 746.5L127.2 745.2M222.7 724.1L224.9 723.9M104.6 774.8L105.3 776.9M106.0 778.9L106.9 781.0M113.8 792.4L115.2 794.1M137.2 809.5L139.3 810.4L141.4 811.3M216.0 824.9L218.2 825.1L220.5 825.3M114.6 762.7L115.8 760.9L117.1 759.1M136.2 743.6L138.2 742.5M223.3 725.0L225.5 724.9M134.2 804.8L136.2 805.9L138.2 807.0M114.0 772.7L114.8 770.6M119.2 762.8L120.5 761.0M124.8 755.9L126.5 754.4M131.6 750.1L133.5 748.8M223.9 726.0L226.1 725.8M115.8 780.9L116.8 782.9M117.9 784.8L119.2 786.7M123.3 791.9L124.8 793.6L126.5 795.1M128.1 796.6L129.9 798.1M131.6 799.4L133.5 800.7L135.4 802.0M223.9 823.5L226.1 823.7M118.3 772.7L119.2 770.6M123.8 763.0L125.1 761.2L126.5 759.5M128.0 757.8L129.6 756.2M131.3 754.7L133.0 753.2M226.7 726.9L228.9 726.6L231.1 726.4M118.3 776.8L119.2 778.9M121.3 782.8L122.5 784.7L123.8 786.5M126.5 790.0L128.0 791.7M131.3 794.8L133.0 796.3M228.9 822.9L231.1 823.1M122.7 772.7L123.6 770.7M125.8 766.8L127.0 764.9L128.3 763.1M134.4 756.5L136.0 755.0M137.8 753.6L139.6 752.2M121.9 774.8L122.7 776.8M124.7 780.8L125.8 782.7M132.7 791.5L134.4 793.0M136.0 794.5L137.8 795.9M222.8 821.1L225.0 821.4M227.2 821.6L229.4 821.8M126.2 774.8L127.0 772.7M135.8 759.9L137.4 758.3M129.1 780.7L130.3 782.6M132.9 786.3L134.3 788.0L135.8 789.6M225.4 820.3L227.6 820.5M232.1 821.0L234.3 821.3M131.4 772.7L132.4 770.7M134.8 767.0L136.1 765.1M130.5 774.8L131.4 776.8M133.5 780.7L134.8 782.5L136.1 784.4M138.9 787.8L140.5 789.4M232.5 820.0L234.7 820.2L236.9 820.5M135.7 776.8L136.8 778.7L138.0 780.6M139.1 774.8L140.1 776.7M235.5 818.0L237.7 818.3L239.9 818.6M231.4 816.3L233.6 816.6L235.8 816.9M231.7 734.5L233.9 734.1M233.9 815.4L236.1 815.7M238.3 816.1L240.5 816.4L242.7 816.7M236.4 814.5L238.6 814.9M241.1 735.5L243.3 735.1M243.3 814.4L245.5 814.7M237.0 737.5L239.2 737.1M243.6 736.3L245.8 735.9M234.8 811.6L237.0 812.0M243.6 813.2L245.8 813.6M237.2 738.8L239.4 738.3M246.0 737.1L248.2 736.8M237.5 740.1L239.7 739.7M241.9 739.2L244.1 738.8M244.1 810.7L246.2 811.1L248.4 811.5M246.5 739.7L248.7 739.2M242.1 808.9L244.3 809.4L246.5 809.8M244.5 808.1L246.7 808.5M242.6 743.3L244.7 742.8M244.7 806.7L246.9 807.2L249.1 807.6M245.0 744.3L247.1 743.7L249.3 743.2L251.5 742.7M242.8 804.7L245.0 805.2M249.5 744.6L251.7 744.1M245.2 803.8L247.4 804.3M249.5 804.9L251.7 805.4M251.9 745.5L254.1 745.0M247.6 802.8L249.7 803.4M241.4 750.1L243.5 749.5L245.7 748.8M241.4 799.4L243.5 800.0M245.7 800.7L247.8 801.3M250.0 801.9L252.1 802.5L254.3 803.1M243.8 798.4L245.9 799.0M248.0 799.7L250.2 800.4M244.1 752.9L246.2 752.2M248.3 751.4L250.4 750.8L252.5 750.1M248.3 798.1L250.4 798.7M252.5 799.4L254.7 800.0M250.7 752.4L252.8 751.7M248.5 796.3L250.7 797.1L252.8 797.8L254.9 798.4M246.7 755.8L248.8 754.9L250.9 754.2M250.9 795.3L253.0 796.1M249.1 756.8L251.2 756.0M253.3 755.2L255.4 754.4M242.9 790.0L245.0 790.9L247.0 791.8M249.1 792.7L251.2 793.5M253.3 794.3L255.4 795.1M249.4 758.8L251.5 757.9M253.6 757.0L255.6 756.2M247.4 789.8L249.4 790.7M253.6 792.5L255.6 793.3M241.9 765.1L243.8 763.9M245.8 762.8L247.8 761.8L249.8 760.8M253.9 759.0L255.9 758.1M251.8 789.6L253.9 790.5L255.9 791.4M246.3 765.2L248.2 764.1M254.2 761.0L256.3 760.1M248.2 785.4L250.2 786.5M250.7 765.3L252.6 764.2M254.6 763.1L256.6 762.1M245.0 780.6L246.8 781.8M248.7 783.1L250.7 784.2M252.6 785.3L254.6 786.4M253.1 766.5L255.1 765.4M245.8 777.8L247.5 779.2M249.4 780.5L251.2 781.8M253.1 783.0L255.1 784.1M251.9 770.4L253.7 769.1M250.1 777.8L251.9 779.1M254.4 771.8L256.2 770.4M251.0 774.8L252.7 776.3M255.3 774.8L257.0 773.2M255.3 774.8L257.0 776.3" stroke="rgb(45,45,255)" stroke-opacity="0.5" stroke-width="1.1" fill="none"/><path d="M102.2 818.4h1.7v1.7h-1.7zM98.1 805.0h1.7v1.7h-1.7zM103.4 809.2h1.7v1.7h-1.7zM94.7 794.4h1.7v1.7h-1.7zM97.2 757.4h1.7v1.7h-1.7z" fill="rgb(45,45,255)" fill-opacity="0.5"/><path d="M205.9 721.2L208.2 721.0M211.4 721.8L213.6 721.7M207.8 723.1L210.1 723.0M215.3 723.6L217.5 723.4M209.4 725.2L211.6 725.0M213.8 724.8L216.0 724.6M218.2 724.4L220.5 724.2M221.7 726.3L223.9 726.0M215.6 728.0L217.8 727.8M222.3 727.3L224.5 727.1M222.8 728.4L225.0 728.1L227.2 727.9M221.0 729.8L223.2 729.5L225.4 729.2M227.6 729.0L229.9 728.7M210.8 733.9L213.0 733.6M215.2 733.2L217.4 732.8M230.7 730.9L232.9 730.6L235.1 730.4M229.5 734.8L231.7 734.5M227.6 736.5L229.8 736.1L232.0 735.7M217.0 740.2L219.2 739.7M213.0 742.9L215.2 742.3M217.3 741.7L219.5 741.2M221.7 740.7L223.9 740.2M226.0 739.7L228.2 739.2M230.4 738.8L232.6 738.3M210.9 806.0L213.0 806.6M221.7 808.8L223.9 809.3M213.4 744.6L215.5 743.9M228.5 740.6L230.7 740.1M217.7 806.2L219.8 806.7M211.6 747.0L213.7 746.3L215.9 745.6M226.6 742.6L228.8 742.1M224.5 806.3L226.6 806.9M216.2 747.4L218.3 746.7M212.3 750.8L214.4 750.0M216.5 749.2L218.7 748.5L220.8 747.8L222.9 747.1M225.1 746.4L227.2 745.8L229.3 745.2L231.5 744.6M218.7 801.0L220.8 801.7M227.2 803.7L229.3 804.3M223.2 748.8L225.4 748.1M229.6 746.8L231.8 746.2M227.5 802.1L229.6 802.7M223.6 750.6L225.7 749.9M219.4 797.3L221.5 798.1M229.9 801.0L232.1 801.7M217.7 755.1L219.8 754.2M221.8 753.3L223.9 752.5L226.0 751.7M215.7 793.4L217.7 794.4M219.8 795.3L221.8 796.2L223.9 797.0M228.1 798.5L230.2 799.3M214.2 759.3L216.1 758.3M220.2 756.3L222.2 755.4M232.6 751.3L234.7 750.5M226.3 795.9L228.4 796.7M220.6 758.5L222.6 757.5L224.7 756.5L226.7 755.6M228.8 754.8L230.9 753.9M224.7 793.0L226.7 793.9L228.8 794.7M223.1 759.7L225.1 758.7L227.1 757.7M229.2 756.8L231.2 755.9M233.3 755.0L235.4 754.2M217.3 786.4L219.2 787.6L221.1 788.7L223.1 789.8M231.2 793.6L233.3 794.5M211.0 771.4L212.7 769.9M218.0 765.7L219.8 764.4M225.6 761.0L227.6 759.9M233.6 757.0L235.7 756.1L237.8 755.3M220.5 767.1L222.4 765.8M215.4 778.0L217.0 779.6M224.2 784.9L226.1 786.1L228.1 787.3M221.4 770.0L223.1 768.6L224.9 767.2L226.8 765.9M230.6 763.5L232.5 762.4M218.1 776.4L219.7 778.0M232.5 787.1L234.5 788.2M224.0 771.5L225.7 770.1M227.5 768.6L229.3 767.3M225.7 779.4L227.5 780.9L229.3 782.2M235.0 785.8L236.9 787.0M225.2 774.8L226.7 773.1M231.9 768.7L233.7 767.4M225.2 774.8L226.7 776.4M231.9 780.8L233.7 782.1M235.6 783.4L237.5 784.6M229.5 774.8L231.1 773.1M232.7 771.6L234.5 770.2M236.3 768.8L238.1 767.5M229.5 774.8L231.1 776.4M235.4 773.2L237.1 771.6M233.8 774.8L235.4 776.3" stroke="rgb(255,70,70)" stroke-opacity="0.5" stroke-width="1.1" fill="none"/><path d="M54.2 754.2h1.7v1.7h-1.7zM55.4 747.7h1.7v1.7h-1.7zM52.7 780.5h1.7v1.7h-1.7zM72.2 816.7h1.7v1.7h-1.7zM60.7 773.9h1.7v1.7h-1.7zM65.0 773.9h1.7v1.7h-1.7zM68.1 786.8h1.7v1.7h-1.7zM70.2 793.0h1.7v1.7h-1.7zM92.1 817.6h1.7v1.7h-1.7zM77.9 773.9h1.7v1.7h-1.7zM85.8 761.1h1.7v1.7h-1.7zM96.5 744.3h1.7v1.7h-1.7zM85.8 786.7h1.7v1.7h-1.7zM109.3 812.7h1.7v1.7h-1.7zM95.9 751.6h1.7v1.7h-1.7zM102.4 797.6h1.7v1.7h-1.7zM109.5 793.6h1.7v1.7h-1.7z" fill="rgb(45,45,255)" fill-opacity="0.6"/><path d="M86.4 719.4L88.7 719.0M91.0 718.7L93.3 718.4M181.9 715.3L195.2 715.1M93.3 831.1L95.6 831.3M118.8 832.9L121.8 833.0M142.0 833.6L147.7 833.8L154.3 833.9M123.2 718.6L125.4 718.4L127.7 718.3M157.6 716.9L161.6 716.8L165.9 716.7L170.7 716.5M181.5 716.3L187.9 716.2M85.0 824.5L87.2 825.2M102.9 828.8L105.2 829.1L107.4 829.4M125.4 831.1L127.7 831.2M144.4 832.1L147.4 832.2M157.6 832.6L161.6 832.7M165.9 832.8L170.7 833.0M92.7 726.9L94.9 726.1M101.5 724.3L103.7 723.8M112.7 722.1L114.9 721.7M117.2 721.4L119.4 721.1L121.7 720.9M128.4 720.2L130.6 719.9M135.1 719.6L137.3 719.4L139.6 719.2M141.8 719.1L144.0 718.9M150.7 718.5L153.0 718.4M157.9 718.2L160.6 718.1M163.4 717.9L166.4 717.8M169.5 717.7L172.9 717.6M176.5 717.4L180.3 717.3M94.9 823.4L97.1 824.0M106.0 826.2L108.2 826.6L110.4 827.0L112.7 827.4M123.9 828.9L126.1 829.1M137.3 830.1L139.6 830.3M150.7 831.0L153.0 831.1M157.9 831.3L160.6 831.4L163.4 831.6L166.4 831.7M176.5 832.1L180.3 832.2M193.5 832.5L198.7 832.7M114.7 724.2L117.0 723.8M125.9 722.4L128.1 722.1M130.4 721.8L132.6 721.5M148.3 720.1L150.5 719.9M159.4 719.3L161.6 719.2M170.9 718.7L173.5 718.6M179.1 718.4L182.1 718.2M192.2 717.9L196.0 717.8M119.2 826.1L121.4 826.5M132.6 828.0L134.9 828.2M141.6 828.9L143.8 829.0L146.0 829.2M196.0 831.7L200.0 831.9M92.9 735.4L94.9 734.2M109.6 728.0L111.8 727.4M167.4 720.0L169.6 719.8M201.3 718.4L204.8 718.2M91.0 812.9L92.9 814.1M96.9 816.4L98.9 817.4M116.2 823.2L118.4 823.7M120.6 824.2L122.8 824.6M129.5 825.8L131.7 826.1M151.8 828.4L154.1 828.6M156.3 828.7L158.5 828.9L160.7 829.1L163.0 829.2M165.2 829.4L167.4 829.5M91.0 741.5L92.7 740.0M102.3 733.8L104.3 732.9M108.5 731.1L110.7 730.3M121.6 727.2L123.8 726.6L126.0 726.2M170.5 720.8L172.8 720.6M78.0 787.5L78.8 789.6M81.6 795.6L82.6 797.6M89.4 806.5L91.0 808.0M96.4 812.2L98.3 813.5M100.2 814.6L102.3 815.7M106.4 817.6L108.5 818.4M112.8 819.9L115.0 820.6M168.3 828.6L170.5 828.7M177.2 829.2L179.4 829.3M181.6 829.5L183.9 829.6M190.8 829.9L193.3 830.1L195.9 830.2M204.4 830.5L207.5 830.7M87.2 752.0L88.4 750.2M91.1 746.6L92.6 744.9M99.5 739.0L101.3 737.7M109.3 733.5L111.4 732.6M131.0 726.8L133.2 726.4M103.3 812.9L105.3 814.1M107.3 815.1L109.3 816.0L111.4 816.9M124.4 821.1L126.6 821.7L128.8 822.2M133.2 823.1L135.4 823.5M173.3 828.0L175.5 828.2M177.7 828.4L180.0 828.5M184.4 828.8L186.6 829.0M195.5 829.5L197.9 829.6M200.3 829.7L202.9 829.8M90.5 754.0L91.7 752.1M112.2 734.9L114.3 734.0L116.4 733.1L118.5 732.3L120.6 731.6M127.1 729.6L129.3 729.0M112.2 814.6L114.3 815.5M120.6 817.9L122.8 818.7M131.5 821.0L133.7 821.6M184.8 828.0L187.1 828.2M193.7 828.6L195.9 828.8M99.6 748.9L101.1 747.3L102.7 745.7M109.9 740.2L111.8 739.0L113.8 737.9M128.4 731.9L130.6 731.2M108.0 808.0L109.9 809.3M111.8 810.5L113.8 811.6M115.8 812.7L117.9 813.6M135.0 819.5L137.2 820.0M203.7 828.2L205.9 828.3M97.0 760.2L98.1 758.3M99.2 756.4L100.5 754.5M115.3 740.9L117.3 739.8M129.7 734.2L131.8 733.5M115.3 808.6L117.3 809.7L119.3 810.8M134.0 816.7L136.1 817.4M213.6 827.8L215.8 827.9M100.7 762.3L101.7 760.4M104.1 756.6L105.4 754.8M106.9 753.1L108.3 751.4M115.0 745.4L116.9 744.1M128.8 737.6L130.8 736.7M135.1 735.1L137.2 734.4M96.0 774.8L96.6 776.9M106.4 760.5L107.7 758.7M109.0 756.8L110.3 755.1M115.0 750.2L116.7 748.7M219.7 723.3L222.0 723.1M105.3 787.1L106.4 789.0M107.7 790.8L109.0 792.7M113.4 797.7L115.0 799.3M116.7 800.8L118.4 802.2M124.0 806.0L125.9 807.2L127.9 808.3M106.0 770.6L106.9 768.5M133.1 741.9L135.1 740.9M109.9 786.9L111.1 788.8M116.7 795.8L118.3 797.4L120.0 798.9M121.7 800.3L123.5 801.7L125.3 803.0L127.2 804.3M129.1 805.4L131.1 806.5L133.1 807.6M108.9 774.8L109.6 772.7M113.4 764.6L114.6 762.7M123.2 752.5L124.9 751.0M126.7 749.6L128.5 748.3L130.4 747.0M132.3 745.8L134.2 744.7M115.8 788.6L117.1 790.4L118.6 792.2M120.0 793.8L121.6 795.5M124.9 798.5L126.7 799.9M128.5 801.2L130.4 802.5M113.2 774.8L114.0 772.7M116.8 766.6L117.9 764.7M120.5 761.0L121.8 759.3L123.3 757.6M128.1 752.9L129.9 751.4L131.6 750.1M119.2 786.7L120.5 788.5M129.9 798.1L131.6 799.4M226.1 823.7L228.4 823.9M119.2 778.9L120.2 780.8M123.8 786.5L125.1 788.3M129.6 793.3L131.3 794.8M133.0 796.3L134.7 797.7M129.7 761.4L131.2 759.7M136.0 755.0L137.8 753.6M123.6 778.8L124.7 780.8M125.8 782.7L127.0 784.6L128.3 786.4M129.7 788.1L131.2 789.8L132.7 791.5M134.4 793.0L136.0 794.5M131.5 765.0L132.9 763.2M232.1 728.5L234.3 728.2M131.4 776.8L132.4 778.8M135.7 772.7L136.8 770.8M235.1 730.4L237.3 730.1M134.8 774.8L135.7 776.8M235.1 819.1L237.3 819.4M237.7 731.2L239.9 730.9M235.8 732.6L238.0 732.3M238.0 817.2L240.2 817.5M246.2 738.4L248.4 738.0M246.7 808.5L248.9 809.0L251.1 809.4M249.1 741.9L251.3 741.4M249.3 806.3L251.5 806.8M249.7 746.1L251.9 745.5M252.1 747.0L254.3 746.4M252.5 750.1L254.7 749.5M253.0 753.4L255.1 752.7M254.2 788.5L256.3 789.4M254.6 786.4L256.6 787.4M253.7 769.1L255.6 767.8M255.6 781.7L257.5 782.9" stroke="rgb(45,45,255)" stroke-opacity="0.6" stroke-width="1.1" fill="none"/><path d="M224.8 734.3L227.0 733.9M225.4 736.9L227.6 736.5M225.7 738.3L227.9 737.8M223.9 740.2L226.0 739.7M228.2 739.2L230.4 738.8M231.0 741.6L233.1 741.1M226.9 744.2L229.1 743.6M227.8 800.3L229.9 801.0M230.2 799.3L232.3 800.0M228.4 752.8L230.5 752.0M226.7 755.6L228.8 754.8M228.8 794.7L230.9 795.6M229.2 792.7L231.2 793.6M231.6 757.9L233.6 757.0M231.6 791.6L233.6 792.5M230.0 761.2L232.0 760.1M234.0 759.1L236.1 758.2M230.0 788.3L232.0 789.4L234.0 790.4M235.0 763.7L236.9 762.5M233.7 767.4L235.6 766.1M228.4 777.9L230.1 779.4M235.4 776.3L237.1 777.9" stroke="rgb(255,70,70)" stroke-opacity="0.6" stroke-width="1.1" fill="none"/><path d="M52.7 767.3h1.7v1.7h-1.7zM53.3 760.8h1.7v1.7h-1.7zM57.0 741.3h1.7v1.7h-1.7zM57.0 806.5h1.7v1.7h-1.7zM67.7 736.1h1.7v1.7h-1.7zM57.3 780.4h1.7v1.7h-1.7zM58.5 786.9h1.7v1.7h-1.7zM83.5 729.9h1.7v1.7h-1.7zM74.7 810.7h1.7v1.7h-1.7zM66.4 767.4h1.7v1.7h-1.7zM73.0 748.7h1.7v1.7h-1.7zM66.4 780.4h1.7v1.7h-1.7zM86.2 814.2h1.7v1.7h-1.7zM69.3 773.9h1.7v1.7h-1.7zM70.8 767.5h1.7v1.7h-1.7zM79.3 747.1h1.7v1.7h-1.7zM90.2 735.8h1.7v1.7h-1.7zM96.0 732.2h1.7v1.7h-1.7zM102.2 729.4h1.7v1.7h-1.7zM70.8 780.3h1.7v1.7h-1.7zM75.1 792.9h1.7v1.7h-1.7zM73.6 773.9h1.7v1.7h-1.7zM85.6 745.6h1.7v1.7h-1.7zM99.4 734.1h1.7v1.7h-1.7zM93.4 805.3h1.7v1.7h-1.7zM100.5 810.9h1.7v1.7h-1.7zM83.7 767.4h1.7v1.7h-1.7zM93.5 800.1h1.7v1.7h-1.7zM101.9 744.9h1.7v1.7h-1.7zM102.4 750.2h1.7v1.7h-1.7zM95.7 771.8h1.7v1.7h-1.7zM103.4 763.6h1.7v1.7h-1.7zM104.4 776.0h1.7v1.7h-1.7z" fill="rgb(45,45,255)" fill-opacity="0.7"/><path d="M75.1 722.3L77.3 721.5M81.8 720.3L84.1 719.8M88.7 719.0L91.0 718.7M93.3 718.4L95.6 718.2M102.4 717.5L104.6 717.4M113.7 716.8L116.1 716.7M118.8 716.6L121.8 716.5M125.0 716.3L128.6 716.2L132.5 716.1M142.0 715.9L147.7 715.7M70.8 825.3L72.9 826.3L75.1 827.2M81.8 829.2L84.1 829.7L86.4 830.1M88.7 830.5L91.0 830.8M97.8 831.6L100.1 831.8L102.4 832.0L104.6 832.1M113.7 832.7L116.1 832.8M125.0 833.2L128.6 833.3L132.5 833.4M137.0 833.5L142.0 833.6M181.9 834.2L195.2 834.4M82.9 725.9L85.0 725.0M87.2 724.3L89.4 723.6M93.9 722.4L96.2 721.9M98.4 721.5L100.7 721.1M105.2 720.4L107.4 720.1M111.9 719.6L114.2 719.4L116.5 719.1L118.7 718.9M136.7 717.7L139.1 717.6M147.4 717.3L150.5 717.1L154.0 717.0M187.9 716.2L194.9 716.0M82.9 823.6L85.0 824.5M93.9 827.1L96.2 827.6M107.4 829.4L109.7 829.7M111.9 829.9L114.2 830.1M116.5 830.4L118.7 830.6M120.9 830.7L123.2 830.9M141.7 832.0L144.4 832.1M161.6 832.7L165.9 832.8M97.1 725.5L99.3 724.8M114.9 721.7L117.2 721.4M126.1 720.4L128.4 720.2M130.6 719.9L132.9 719.7L135.1 719.6M144.0 718.9L146.3 718.8L148.5 718.7M97.1 824.0L99.3 824.7L101.5 825.2M130.6 829.6L132.9 829.8M148.5 830.8L150.7 831.0M166.4 831.7L169.5 831.8M87.1 734.5L89.0 733.2M105.9 726.3L108.1 725.7L110.3 725.2M117.0 723.8L119.2 723.4M121.4 723.0L123.7 722.7M128.1 722.1L130.4 721.8M134.9 721.3L137.1 721.1M161.6 719.2L163.8 719.1M166.1 719.0L168.5 718.8L170.9 718.7M89.0 816.3L91.0 817.4M103.7 822.6L105.9 823.2M114.7 825.3L117.0 825.7M123.7 826.8L125.9 827.1M128.1 827.4L130.4 827.7L132.6 828.0M148.3 829.4L150.5 829.6M152.7 829.7L154.9 829.9L157.2 830.0L159.4 830.2M161.6 830.3L163.8 830.4M182.1 831.3L185.3 831.4M192.2 831.6L196.0 831.7M79.0 749.8L80.2 748.0M105.2 729.5L107.4 728.7M111.8 727.4L114.0 726.8M116.2 726.3L118.4 725.8L120.6 725.3M122.8 724.9L125.0 724.5M127.3 724.1L129.5 723.7M158.5 720.6L160.7 720.4M87.5 810.0L89.2 811.5M101.0 818.4L103.1 819.2M111.8 822.1L114.0 822.7M118.4 823.7L120.6 824.2M127.3 825.4L129.5 825.8M131.7 826.1L134.0 826.4M147.4 828.0L149.6 828.2M174.1 829.9L176.3 830.0M178.6 830.2L181.0 830.3M188.9 830.7L191.8 830.8L194.8 830.9M92.7 740.0L94.5 738.6M132.7 724.9L134.9 724.6M166.1 721.1L168.3 720.9L170.5 720.8M172.8 720.6L175.0 720.5M204.4 719.0L207.5 718.8M92.7 809.5L94.5 810.9L96.4 812.2M121.6 822.3L123.8 822.9L126.0 823.3M130.4 824.2L132.7 824.6L134.9 824.9M166.1 828.4L168.3 828.6M183.9 829.6L186.1 829.7M94.2 743.3L95.9 741.8M101.3 737.7L103.3 736.6M113.6 731.7L115.7 731.0L117.9 730.2M124.4 728.4L126.6 727.8L128.8 727.3M115.7 818.5L117.9 819.3M120.0 819.9L122.2 820.5M175.5 828.2L177.7 828.4M180.0 828.5L182.2 828.7L184.4 828.8M186.6 829.0L188.8 829.1M202.9 829.8L205.5 829.9M99.0 743.6L100.7 742.1L102.4 740.7M120.6 731.6L122.8 730.8M89.4 793.6L90.5 795.5M95.8 802.7L97.3 804.3M189.3 828.3L191.5 828.5M88.4 770.5L89.0 768.3M92.3 760.1L93.3 758.1M104.4 744.2L106.2 742.8M108.0 741.5L109.9 740.2M113.8 737.9L115.8 736.8M126.3 732.6L128.4 731.9M89.7 783.3L90.5 785.3M94.3 793.3L95.5 795.2M130.6 818.3L132.8 818.9M93.5 768.4L94.3 766.3M101.8 752.7L103.3 751.0M117.3 739.8L119.3 738.7M123.4 736.7L125.4 735.8L127.6 735.0L129.7 734.2M131.8 733.5L134.0 732.8M96.0 787.3L97.0 789.3M101.8 796.8L103.3 798.5M109.8 804.7L111.6 806.1M127.6 814.5L129.7 815.3M96.0 774.8L96.6 772.6M97.2 770.5L98.0 768.4M105.4 754.8L106.9 753.1M109.9 749.8L111.6 748.2L113.3 746.8M120.7 741.6L122.7 740.5M130.8 736.7L133.0 735.9M99.7 785.2L100.7 787.2M104.1 792.9L105.4 794.7M122.7 809.0L124.7 810.0M130.8 812.8L133.0 813.6M107.7 758.7L109.0 756.8M118.4 747.3L120.2 745.9M124.0 743.5L125.9 742.3L127.9 741.2L129.9 740.2M109.0 792.7L110.3 794.4M118.4 802.2L120.2 803.6M122.1 804.8L124.0 806.0M127.9 808.3L129.9 809.3M105.3 772.6L106.0 770.6M107.8 766.5L108.8 764.5M118.3 752.1L120.0 750.6M127.2 745.2L129.1 744.1L131.1 743.0L133.1 741.9M106.9 781.0L107.8 783.0L108.8 785.0M111.1 788.8L112.4 790.6L113.8 792.4M110.4 770.6L111.3 768.6L112.3 766.6L113.4 764.6M118.6 757.3L120.0 755.7M121.6 754.0L123.2 752.5M130.4 747.0L132.3 745.8M109.6 776.8L110.4 778.9L111.3 780.9L112.3 782.9L113.4 784.9M114.6 786.8L115.8 788.6M118.6 792.2L120.0 793.8M123.2 797.0L124.9 798.5M117.9 764.7L119.2 762.8M133.5 748.8L135.4 747.5M113.2 774.8L114.0 776.8M114.8 778.9L115.8 780.9M116.8 782.9L117.9 784.8M121.8 790.2L123.3 791.9M126.5 795.1L128.1 796.6M119.2 770.6L120.2 768.7L121.3 766.7M126.5 759.5L128.0 757.8M120.2 780.8L121.3 782.8M125.1 788.3L126.5 790.0M128.0 791.7L129.6 793.3M121.9 774.8L122.7 772.7M124.7 768.7L125.8 766.8M132.7 758.0L134.4 756.5M122.7 776.8L123.6 778.8M128.3 786.4L129.7 788.1M130.3 766.9L131.5 765.0M126.2 774.8L127.0 776.8M130.3 782.6L131.5 784.5L132.9 786.3M132.4 778.8L133.5 780.7" stroke="rgb(45,45,255)" stroke-opacity="0.7" stroke-width="1.1" fill="none"/><path d="M52.1 773.9h1.7v1.7h-1.7zM57.3 767.4h1.7v1.7h-1.7zM77.9 727.1h1.7v1.7h-1.7zM77.9 820.7h1.7v1.7h-1.7zM85.5 819.0h1.7v1.7h-1.7zM94.2 729.2h1.7v1.7h-1.7zM72.7 761.1h1.7v1.7h-1.7zM83.4 741.8h1.7v1.7h-1.7zM82.0 804.3h1.7v1.7h-1.7zM73.6 773.9h1.7v1.7h-1.7zM75.2 780.3h1.7v1.7h-1.7zM83.0 798.6h1.7v1.7h-1.7zM87.6 749.3h1.7v1.7h-1.7zM81.5 786.7h1.7v1.7h-1.7zM84.2 792.7h1.7v1.7h-1.7zM92.1 749.4h1.7v1.7h-1.7zM82.3 773.9h1.7v1.7h-1.7zM89.7 794.6h1.7v1.7h-1.7zM98.7 799.7h1.7v1.7h-1.7zM92.0 778.2h1.7v1.7h-1.7zM94.2 784.4h1.7v1.7h-1.7zM96.4 778.1h1.7v1.7h-1.7zM99.8 786.3h1.7v1.7h-1.7zM100.1 771.8h1.7v1.7h-1.7zM100.1 776.0h1.7v1.7h-1.7zM108.1 773.9h1.7v1.7h-1.7z" fill="rgb(45,45,255)" fill-opacity="0.8"/><path d="M70.8 724.2L72.9 723.2M95.6 718.2L97.8 717.9M116.1 716.7L118.8 716.6M132.5 716.1L137.0 716.0M68.7 824.0L70.8 825.3M79.6 828.6L81.8 829.2M91.0 830.8L93.3 831.1M106.9 832.3L109.1 832.4L111.4 832.6L113.7 832.7M89.4 723.6L91.7 723.0L93.9 722.4M96.2 721.9L98.4 721.5M102.9 720.7L105.2 720.4M109.7 719.8L111.9 719.6M120.9 718.8L123.2 718.6M132.1 718.0L134.4 717.9M141.7 717.5L144.4 717.4L147.4 717.3M87.2 825.2L89.4 825.9L91.7 826.5M96.2 827.6L98.4 828.0M109.7 829.7L111.9 829.9M132.1 831.5L134.4 831.6M147.4 832.2L150.5 832.4M82.4 732.0L84.4 730.8M94.9 726.1L97.1 725.5M110.4 722.5L112.7 722.1M148.5 718.7L150.7 718.5M112.7 827.4L114.9 827.8L117.2 828.1L119.4 828.4L121.7 828.6M132.9 829.8L135.1 829.9M139.6 830.3L141.8 830.4M146.3 830.7L148.5 830.8M155.4 831.2L157.9 831.3M91.0 732.1L93.0 731.0L95.1 730.0M112.5 724.7L114.7 724.2M137.1 721.1L139.3 720.9M99.3 821.2L101.5 821.9M117.0 825.7L119.2 826.1M125.9 827.1L128.1 827.4M146.0 829.2L148.3 829.4M120.6 725.3L122.8 724.9M92.9 814.1L94.9 815.3M98.9 817.4L101.0 818.4M114.0 822.7L116.2 823.2M125.0 825.0L127.3 825.4M104.3 732.9L106.4 731.9L108.5 731.1M112.8 729.6L115.0 728.9L117.2 728.3L119.4 727.7L121.6 727.2M126.0 726.2L128.2 725.7L130.4 725.3M119.4 821.8L121.6 822.3M95.9 741.8L97.6 740.4L99.5 739.0M103.3 736.6L105.3 735.4M107.3 734.4L109.3 733.5M111.4 732.6L113.6 731.7M117.9 730.2L120.0 729.6L122.2 729.0L124.4 728.4M80.9 783.3L81.6 785.4M92.6 804.6L94.2 806.2M113.6 817.8L115.7 818.5M122.2 820.5L124.4 821.1M128.8 822.2L131.0 822.7M108.2 737.0L110.2 735.9L112.2 734.9M88.4 791.6L89.4 793.6M114.3 815.5L116.4 816.4M122.8 818.7L125.0 819.3M95.5 754.3L96.8 752.4M117.9 735.9L119.9 735.0L122.0 734.1M102.7 803.8L104.4 805.3M109.9 809.3L111.8 810.5M113.8 811.6L115.8 812.7M122.0 815.4L124.2 816.2M94.3 766.3L95.1 764.2M111.6 743.4L113.4 742.1M91.7 774.8L92.2 776.9M106.4 801.7L108.0 803.2L109.8 804.7M113.4 807.4L115.3 808.6M121.3 811.8L123.4 812.8L125.4 813.7M118.8 742.8L120.7 741.6M126.7 738.5L128.8 737.6M98.0 781.1L98.8 783.1L99.7 785.2M101.7 789.1L102.9 791.0M108.3 798.1L109.9 799.7L111.6 801.3L113.3 802.7M120.7 807.9L122.7 809.0M126.7 811.0L128.8 811.9M100.3 774.8L100.9 772.6M110.3 755.1L111.8 753.4M115.0 799.3L116.7 800.8M104.6 774.8L105.3 772.6M106.9 768.5L107.8 766.5M113.8 757.1L115.2 755.4M116.7 753.7L118.3 752.1M121.7 749.2L123.5 747.8M108.8 785.0L109.9 786.9M127.2 804.3L129.1 805.4M109.6 772.7L110.4 770.6M124.9 751.0L126.7 749.6M130.4 802.5L132.3 803.7M114.8 770.6L115.8 768.6L116.8 766.6M123.3 757.6L124.8 755.9M114.0 776.8L114.8 778.9M120.5 788.5L121.8 790.2M117.5 774.8L118.3 772.7M121.3 766.7L122.5 764.8L123.8 763.0M117.5 774.8L118.3 776.8M123.6 770.7L124.7 768.7M131.2 759.7L132.7 758.0M127.0 772.7L128.0 770.7L129.1 768.8M127.0 776.8L128.0 778.8L129.1 780.7M130.5 774.8L131.4 772.7" stroke="rgb(45,45,255)" stroke-opacity="0.8" stroke-width="1.1" fill="none"/><path d="M62.8 729.3h1.7v1.7h-1.7zM53.3 787.0h1.7v1.7h-1.7zM62.8 818.5h1.7v1.7h-1.7zM59.9 754.4h1.7v1.7h-1.7zM64.3 741.9h1.7v1.7h-1.7zM72.2 731.1h1.7v1.7h-1.7zM59.9 793.4h1.7v1.7h-1.7zM60.7 773.9h1.7v1.7h-1.7zM63.3 760.9h1.7v1.7h-1.7zM70.7 742.5h1.7v1.7h-1.7zM63.3 786.9h1.7v1.7h-1.7zM70.7 805.3h1.7v1.7h-1.7zM89.7 820.9h1.7v1.7h-1.7zM65.0 773.9h1.7v1.7h-1.7zM80.9 809.9h1.7v1.7h-1.7zM100.6 821.1h1.7v1.7h-1.7zM72.7 786.7h1.7v1.7h-1.7zM93.7 737.7h1.7v1.7h-1.7zM77.9 788.7h1.7v1.7h-1.7zM101.4 814.8h1.7v1.7h-1.7zM80.7 763.2h1.7v1.7h-1.7zM91.8 744.1h1.7v1.7h-1.7zM79.4 780.3h1.7v1.7h-1.7zM82.3 773.9h1.7v1.7h-1.7zM88.6 755.1h1.7v1.7h-1.7zM90.5 761.3h1.7v1.7h-1.7zM89.6 784.5h1.7v1.7h-1.7zM104.6 793.8h1.7v1.7h-1.7z" fill="rgb(45,45,255)" fill-opacity="0.9"/><path d="M72.9 723.2L75.1 722.3M77.3 721.5L79.6 720.9M84.1 719.8L86.4 719.4M100.1 717.7L102.4 717.5M106.9 717.2L109.1 717.1M111.4 716.9L113.7 716.8M137.0 716.0L142.0 715.9M147.7 715.7L154.3 715.6M75.1 827.2L77.3 828.0L79.6 828.6M80.8 726.8L82.9 725.9M100.7 721.1L102.9 720.7M118.7 718.9L120.9 718.8M127.7 718.3L129.9 718.1L132.1 718.0M139.1 717.6L141.7 717.5M154.0 717.0L157.6 716.9M91.7 826.5L93.9 827.1M100.7 828.4L102.9 828.8M118.7 830.6L120.9 830.7M139.1 831.9L141.7 832.0M154.0 832.5L157.6 832.6M99.3 724.8L101.5 724.3M103.7 723.8L106.0 723.3M121.7 720.9L123.9 720.6M139.6 719.2L141.8 719.1M121.7 828.6L123.9 828.9M97.2 729.2L99.3 728.3L101.5 727.6M103.7 726.9L105.9 726.3M110.3 725.2L112.5 724.7M132.6 721.5L134.9 721.3M141.6 720.6L143.8 720.5M146.0 720.3L148.3 720.1M105.9 823.2L108.1 823.8M139.3 828.6L141.6 828.9M150.5 829.6L152.7 829.7M89.2 738.0L91.0 736.6M107.4 728.7L109.6 728.0M151.8 721.1L154.1 720.9L156.3 720.8M94.9 815.3L96.9 816.4M96.4 737.3L98.3 736.0M82.6 797.6L83.8 799.5M98.3 813.5L100.2 814.6M108.5 818.4L110.7 819.2M78.8 774.8L79.2 772.6L79.7 770.4M91.1 802.9L92.6 804.6M99.5 810.5L101.3 811.8M102.4 740.7L104.3 739.4M100.7 807.4L102.4 808.8L104.3 810.1M94.3 756.2L95.5 754.3M98.2 750.6L99.6 748.9M115.8 736.8L117.9 735.9M101.1 802.2L102.7 803.8M104.4 805.3L106.2 806.7M96.0 762.2L97.0 760.2M104.8 749.4L106.4 747.8L108.0 746.3L109.8 744.8M94.3 783.2L95.1 785.3M97.0 789.3L98.1 791.2M100.5 795.0L101.8 796.8M98.0 768.4L98.8 766.4M99.7 764.3L100.7 762.3M101.7 760.4L102.9 758.5M113.3 746.8L115.0 745.4M102.9 791.0L104.1 792.9M113.3 802.7L115.0 804.1M113.4 751.8L115.0 750.2M100.3 774.8L100.9 776.9M101.6 779.0L102.4 781.0M104.3 785.1L105.3 787.1M106.4 789.0L107.7 790.8M111.1 760.7L112.4 758.9L113.8 757.1M115.2 755.4L116.7 753.7M113.4 784.9L114.6 786.8" stroke="rgb(45,45,255)" stroke-opacity="0.9" stroke-width="1.1" fill="none"/><path d="M66.9 726.9L68.7 725.5L70.8 724.2M79.6 720.9L81.8 720.3M97.8 717.9L100.1 717.7M121.8 716.5L125.0 716.3M86.4 830.1L88.7 830.5M104.6 832.1L106.9 832.3M116.1 832.8L118.8 832.9M121.8 833.0L125.0 833.2M132.5 833.4L137.0 833.5M85.0 725.0L87.2 724.3M107.4 720.1L109.7 719.8M134.4 717.9L136.7 717.7M98.4 828.0L100.7 828.4M127.7 831.2L129.9 831.4L132.1 831.5M136.7 831.8L139.1 831.9M150.5 832.4L154.0 832.5M75.6 737.9L77.1 736.3M123.9 720.6L126.1 720.4M153.0 718.4L155.4 718.3L157.9 718.2M78.8 814.7L80.6 816.2M126.1 829.1L128.4 829.3M135.1 829.9L137.3 830.1M141.8 830.4L144.0 830.6L146.3 830.7M153.0 831.1L155.4 831.2M139.3 720.9L141.6 720.6M143.8 720.5L146.0 720.3M150.5 719.9L152.7 719.8M154.9 719.6L157.2 719.5M97.2 820.3L99.3 821.2M134.9 828.2L137.1 828.4M87.5 739.5L89.2 738.0M149.6 721.3L151.8 721.1M81.6 753.9L82.6 751.9M83.1 759.9L84.0 757.9M85.0 755.9L86.1 753.9M95.8 746.8L97.3 745.2M87.9 772.6L88.4 770.5M87.4 774.8L87.9 776.9M98.8 766.4L99.7 764.3" stroke="rgb(45,45,255)" stroke-opacity="1.0" stroke-width="1.1" fill="none"/><path d="M52.1 773.9h1.7v1.7h-1.7zM54.2 793.6h1.7v1.7h-1.7zM55.4 800.1h1.7v1.7h-1.7zM59.3 812.8h1.7v1.7h-1.7zM56.4 773.9h1.7v1.7h-1.7zM58.5 760.9h1.7v1.7h-1.7zM56.4 773.9h1.7v1.7h-1.7zM61.8 799.8h1.7v1.7h-1.7zM67.7 811.7h1.7v1.7h-1.7zM61.9 767.4h1.7v1.7h-1.7zM65.2 754.6h1.7v1.7h-1.7zM89.7 726.9h1.7v1.7h-1.7zM61.9 780.4h1.7v1.7h-1.7zM65.2 793.2h1.7v1.7h-1.7zM79.7 815.3h1.7v1.7h-1.7zM68.1 761.0h1.7v1.7h-1.7zM70.2 754.8h1.7v1.7h-1.7zM76.5 743.0h1.7v1.7h-1.7zM80.9 737.9h1.7v1.7h-1.7zM88.1 732.4h1.7v1.7h-1.7zM73.0 799.1h1.7v1.7h-1.7zM76.5 804.8h1.7v1.7h-1.7zM69.3 773.9h1.7v1.7h-1.7zM78.1 798.8h1.7v1.7h-1.7zM75.2 767.5h1.7v1.7h-1.7zM77.9 759.1h1.7v1.7h-1.7zM81.8 751.1h1.7v1.7h-1.7zM87.0 804.0h1.7v1.7h-1.7zM78.9 769.6h1.7v1.7h-1.7zM87.6 798.5h1.7v1.7h-1.7zM83.7 780.4h1.7v1.7h-1.7zM90.9 773.9h1.7v1.7h-1.7zM97.2 790.4h1.7v1.7h-1.7z" fill="rgb(45,45,255)" fill-opacity="1.0"/></g>
<rect x="47.0" y="714.2" width="220.8" height="121.09999999999991" fill="none" stroke="#9a9a9a" stroke-width="0.8" />
<line x1="69.08" y1="714.2" x2="69.08" y2="716.2" stroke="#9a9a9a" stroke-width="0.7" />
<line x1="69.08" y1="835.3" x2="69.08" y2="833.3" stroke="#9a9a9a" stroke-width="0.7" />
<line x1="91.16" y1="714.2" x2="91.16" y2="716.2" stroke="#9a9a9a" stroke-width="0.7" />
<line x1="91.16" y1="835.3" x2="91.16" y2="833.3" stroke="#9a9a9a" stroke-width="0.7" />
<line x1="113.24" y1="714.2" x2="113.24" y2="716.2" stroke="#9a9a9a" stroke-width="0.7" />
<line x1="113.24" y1="835.3" x2="113.24" y2="833.3" stroke="#9a9a9a" stroke-width="0.7" />
<line x1="135.32" y1="714.2" x2="135.32" y2="716.2" stroke="#9a9a9a" stroke-width="0.7" />
<line x1="135.32" y1="835.3" x2="135.32" y2="833.3" stroke="#9a9a9a" stroke-width="0.7" />
<line x1="157.4" y1="714.2" x2="157.4" y2="716.2" stroke="#9a9a9a" stroke-width="0.7" />
<line x1="157.4" y1="835.3" x2="157.4" y2="833.3" stroke="#9a9a9a" stroke-width="0.7" />
<line x1="179.48" y1="714.2" x2="179.48" y2="716.2" stroke="#9a9a9a" stroke-width="0.7" />
<line x1="179.48" y1="835.3" x2="179.48" y2="833.3" stroke="#9a9a9a" stroke-width="0.7" />
<line x1="201.56" y1="714.2" x2="201.56" y2="716.2" stroke="#9a9a9a" stroke-width="0.7" />
<line x1="201.56" y1="835.3" x2="201.56" y2="833.3" stroke="#9a9a9a" stroke-width="0.7" />
<line x1="223.64" y1="714.2" x2="223.64" y2="716.2" stroke="#9a9a9a" stroke-width="0.7" />
<line x1="223.64" y1="835.3" x2="223.64" y2="833.3" stroke="#9a9a9a" stroke-width="0.7" />
<line x1="245.72" y1="714.2" x2="245.72" y2="716.2" stroke="#9a9a9a" stroke-width="0.7" />
<line x1="245.72" y1="835.3" x2="245.72" y2="833.3" stroke="#9a9a9a" stroke-width="0.7" />
<line x1="47.0" y1="774.75" x2="49.0" y2="774.75" stroke="#9a9a9a" stroke-width="0.7" />
<line x1="267.8" y1="774.75" x2="265.8" y2="774.75" stroke="#9a9a9a" stroke-width="0.7" />
<text x="42.8" y="848.0999999999999" font-size="10.5" text-anchor="middle" fill="#222" font-weight="normal" font-family='"Liberation Sans", sans-serif' stroke="#222" stroke-width="0.22" >0</text>
<text x="86.96" y="848.0999999999999" font-size="10.5" text-anchor="middle" fill="#222" font-weight="normal" font-family='"Liberation Sans", sans-serif' stroke="#222" stroke-width="0.22" >20</text>
<text x="131.12" y="848.0999999999999" font-size="10.5" text-anchor="middle" fill="#222" font-weight="normal" font-family='"Liberation Sans", sans-serif' stroke="#222" stroke-width="0.22" >40</text>
<text x="175.28" y="848.0999999999999" font-size="10.5" text-anchor="middle" fill="#222" font-weight="normal" font-family='"Liberation Sans", sans-serif' stroke="#222" stroke-width="0.22" >60</text>
<text x="219.44" y="848.0999999999999" font-size="10.5" text-anchor="middle" fill="#222" font-weight="normal" font-family='"Liberation Sans", sans-serif' stroke="#222" stroke-width="0.22" >80</text>
<text x="263.6" y="848.0999999999999" font-size="10.5" text-anchor="middle" fill="#222" font-weight="normal" font-family='"Liberation Sans", sans-serif' stroke="#222" stroke-width="0.22" >100</text>
<text x="38.2" y="718.8000000000001" font-size="10.5" text-anchor="end" fill="#222" font-weight="normal" font-family='"Liberation Sans", sans-serif' stroke="#222" stroke-width="0.22" >100</text>
<text x="38.2" y="779.35" font-size="10.5" text-anchor="end" fill="#222" font-weight="normal" font-family='"Liberation Sans", sans-serif' stroke="#222" stroke-width="0.22" >0</text>
<text x="38.2" y="839.9" font-size="10.5" text-anchor="end" fill="#222" font-weight="normal" font-family='"Liberation Sans", sans-serif' stroke="#222" stroke-width="0.22" >-100</text>
<text x="157.4" y="704.5" font-size="10" text-anchor="middle" fill="#222" font-weight="normal" font-family='"Liberation Sans", sans-serif' stroke="#222" stroke-width="0.22" >chr22 (-) strand DRIP peaks</text>
<text x="157.4" y="862.0999999999999" font-size="10.5" text-anchor="middle" fill="#222" font-weight="normal" font-family='"Liberation Sans", sans-serif' stroke="#222" stroke-width="0.22" >%GC</text>
<text x="14.5" y="774.75" font-size="10.5" text-anchor="middle" fill="#222" font-weight="normal" font-family='"Liberation Sans", sans-serif' transform="rotate(-90 14.5 774.75)" stroke="#222" stroke-width="0.22" >GC% skew</text>
<text x="243.5" y="828" font-size="10.5" text-anchor="middle" fill="#ff2020" font-weight="normal" font-family='"Liberation Sans", sans-serif' stroke="#ff2020" stroke-width="0.22" >C bias</text>
<defs><linearGradient id="cbar" x1="0" y1="0" x2="0" y2="1"><stop offset="0" stop-color="#ff0000"/><stop offset="0.12" stop-color="#ff0a0a"/><stop offset="0.5" stop-color="#ffffff"/><stop offset="0.88" stop-color="#0a0aff"/><stop offset="1" stop-color="#0000ff"/></linearGradient></defs>
<text x="277.8" y="529.5" font-size="15" text-anchor="start" fill="#000" font-weight="bold" font-family='"Liberation Sans", sans-serif' stroke="#000" stroke-width="0.22" >f</text>
<rect x="342.82" y="539.75" width="73.79" height="12.97" fill="#0606f6" stroke="none" stroke-width="1" />
<rect x="416.11" y="539.75" width="10.97" height="12.97" fill="#f47a7a" stroke="none" stroke-width="1" />
<rect x="426.58" y="539.75" width="21.44" height="12.97" fill="#0606f6" stroke="none" stroke-width="1" />
<rect x="405.64" y="552.22" width="10.97" height="12.97" fill="#f5a0a0" stroke="none" stroke-width="1" />
<rect x="416.11" y="552.22" width="10.97" height="12.97" fill="#f8cccc" stroke="none" stroke-width="1" />
<rect x="426.58" y="552.22" width="10.97" height="12.97" fill="#f04545" stroke="none" stroke-width="1" />
<rect x="437.05" y="552.22" width="10.97" height="12.97" fill="#ff0000" stroke="none" stroke-width="1" />
<rect x="374.23" y="564.69" width="10.97" height="12.97" fill="#ececfb" stroke="none" stroke-width="1" />
<rect x="384.7" y="564.69" width="10.97" height="12.97" fill="#d5d5f8" stroke="none" stroke-width="1" />
<rect x="416.11" y="564.69" width="10.97" height="12.97" fill="#f5a8a8" stroke="none" stroke-width="1" />
<rect x="426.58" y="564.69" width="10.97" height="12.97" fill="#f04545" stroke="none" stroke-width="1" />
<rect x="437.05" y="564.69" width="10.97" height="12.97" fill="#ff0505" stroke="none" stroke-width="1" />
<rect x="363.76" y="577.16" width="10.97" height="12.97" fill="#9494f2" stroke="none" stroke-width="1" />
<rect x="395.17" y="577.16" width="10.97" height="12.97" fill="#fadada" stroke="none" stroke-width="1" />
<rect x="405.64" y="577.16" width="10.97" height="12.97" fill="#fbe9e9" stroke="none" stroke-width="1" />
<rect x="426.58" y="577.16" width="10.97" height="12.97" fill="#f05252" stroke="none" stroke-width="1" />
<rect x="437.05" y="577.16" width="10.97" height="12.97" fill="#0606f6" stroke="none" stroke-width="1" />
<rect x="384.7" y="589.63" width="10.97" height="12.97" fill="#f2f2fd" stroke="none" stroke-width="1" />
<rect x="405.64" y="589.63" width="10.97" height="12.97" fill="#f8d2d2" stroke="none" stroke-width="1" />
<rect x="416.11" y="589.63" width="10.97" height="12.97" fill="#f6c2c2" stroke="none" stroke-width="1" />
<rect x="426.58" y="589.63" width="10.97" height="12.97" fill="#f63030" stroke="none" stroke-width="1" />
<rect x="437.05" y="589.63" width="10.97" height="12.97" fill="#ff0505" stroke="none" stroke-width="1" />
<rect x="353.29" y="602.1" width="10.97" height="12.97" fill="#0606f6" stroke="none" stroke-width="1" />
<rect x="374.23" y="602.1" width="10.97" height="12.97" fill="#d8d8f8" stroke="none" stroke-width="1" />
<rect x="395.17" y="602.1" width="10.97" height="12.97" fill="#fdeaea" stroke="none" stroke-width="1" />
<rect x="416.11" y="602.1" width="10.97" height="12.97" fill="#f07878" stroke="none" stroke-width="1" />
<rect x="437.05" y="602.1" width="10.97" height="12.97" fill="#f24a4a" stroke="none" stroke-width="1" />
<rect x="384.7" y="614.57" width="10.97" height="12.97" fill="#a2a2f2" stroke="none" stroke-width="1" />
<rect x="405.64" y="614.57" width="10.97" height="12.97" fill="#f8cccc" stroke="none" stroke-width="1" />
<rect x="416.11" y="614.57" width="10.97" height="12.97" fill="#f59494" stroke="none" stroke-width="1" />
<rect x="426.58" y="614.57" width="10.97" height="12.97" fill="#f25555" stroke="none" stroke-width="1" />
<rect x="437.05" y="614.57" width="10.97" height="12.97" fill="#0606f6" stroke="none" stroke-width="1" />
<rect x="363.76" y="627.04" width="10.97" height="12.97" fill="#0606f6" stroke="none" stroke-width="1" />
<rect x="395.17" y="627.04" width="10.97" height="12.97" fill="#e0e0f8" stroke="none" stroke-width="1" />
<rect x="405.64" y="627.04" width="10.97" height="12.97" fill="#fce2e2" stroke="none" stroke-width="1" />
<rect x="426.58" y="627.04" width="10.97" height="12.97" fill="#f26666" stroke="none" stroke-width="1" />
<rect x="437.05" y="627.04" width="10.97" height="12.97" fill="#f24444" stroke="none" stroke-width="1" />
<rect x="374.23" y="639.51" width="21.44" height="12.97" fill="#ececfc" stroke="none" stroke-width="1" />
<rect x="395.17" y="639.51" width="10.97" height="12.97" fill="#f8d2d2" stroke="none" stroke-width="1" />
<rect x="416.11" y="639.51" width="10.97" height="12.97" fill="#f9e2e2" stroke="none" stroke-width="1" />
<rect x="426.58" y="639.51" width="21.44" height="12.97" fill="#0606f6" stroke="none" stroke-width="1" />
<rect x="405.64" y="651.98" width="21.44" height="12.97" fill="#f5aaaa" stroke="none" stroke-width="1" />
<rect x="426.58" y="651.98" width="10.97" height="12.97" fill="#0606f6" stroke="none" stroke-width="1" />
<rect x="437.05" y="651.98" width="10.97" height="12.97" fill="#ff0505" stroke="none" stroke-width="1" />
<rect x="342.82" y="664.45" width="21.44" height="12.97" fill="#0606f6" stroke="none" stroke-width="1" />
<rect x="363.76" y="664.45" width="10.97" height="12.97" fill="#b0b0f2" stroke="none" stroke-width="1" />
<rect x="374.23" y="664.45" width="21.44" height="12.97" fill="#0606f6" stroke="none" stroke-width="1" />
<rect x="405.64" y="664.45" width="42.38" height="12.97" fill="#0606f6" stroke="none" stroke-width="1" />
<line x1="332.6" y1="608.585" x2="447.77000000000004" y2="608.585" stroke="#222" stroke-width="0.9" />
<rect x="332.0" y="539.2" width="116.37" height="138.77" fill="none" stroke="#000" stroke-width="2.2" />
<line x1="348.305" y1="536.5" x2="348.305" y2="538.5" stroke="#000" stroke-width="1.6" />
<line x1="348.305" y1="678.6700000000001" x2="348.305" y2="680.6700000000001" stroke="#000" stroke-width="1.6" />
<line x1="328.8" y1="558.705" x2="331.1" y2="558.705" stroke="#000" stroke-width="1.6" />
<line x1="449.27000000000004" y1="558.705" x2="451.57000000000005" y2="558.705" stroke="#000" stroke-width="1.6" />
<line x1="369.245" y1="536.5" x2="369.245" y2="538.5" stroke="#000" stroke-width="1.6" />
<line x1="369.245" y1="678.6700000000001" x2="369.245" y2="680.6700000000001" stroke="#000" stroke-width="1.6" />
<line x1="328.8" y1="583.645" x2="331.1" y2="583.645" stroke="#000" stroke-width="1.6" />
<line x1="449.27000000000004" y1="583.645" x2="451.57000000000005" y2="583.645" stroke="#000" stroke-width="1.6" />
<line x1="390.185" y1="536.5" x2="390.185" y2="538.5" stroke="#000" stroke-width="1.6" />
<line x1="390.185" y1="678.6700000000001" x2="390.185" y2="680.6700000000001" stroke="#000" stroke-width="1.6" />
<line x1="328.8" y1="608.585" x2="331.1" y2="608.585" stroke="#000" stroke-width="1.6" />
<line x1="449.27000000000004" y1="608.585" x2="451.57000000000005" y2="608.585" stroke="#000" stroke-width="1.6" />
<line x1="411.125" y1="536.5" x2="411.125" y2="538.5" stroke="#000" stroke-width="1.6" />
<line x1="411.125" y1="678.6700000000001" x2="411.125" y2="680.6700000000001" stroke="#000" stroke-width="1.6" />
<line x1="328.8" y1="633.525" x2="331.1" y2="633.525" stroke="#000" stroke-width="1.6" />
<line x1="449.27000000000004" y1="633.525" x2="451.57000000000005" y2="633.525" stroke="#000" stroke-width="1.6" />
<line x1="432.06500000000005" y1="536.5" x2="432.06500000000005" y2="538.5" stroke="#000" stroke-width="1.6" />
<line x1="432.06500000000005" y1="678.6700000000001" x2="432.06500000000005" y2="680.6700000000001" stroke="#000" stroke-width="1.6" />
<line x1="328.8" y1="658.465" x2="331.1" y2="658.465" stroke="#000" stroke-width="1.6" />
<line x1="449.27000000000004" y1="658.465" x2="451.57000000000005" y2="658.465" stroke="#000" stroke-width="1.6" />
<text x="348.305" y="691.1700000000001" font-size="10" text-anchor="middle" fill="#222" font-weight="normal" font-family='"Liberation Sans", sans-serif' stroke="#222" stroke-width="0.22" >17</text>
<text x="369.245" y="691.1700000000001" font-size="10" text-anchor="middle" fill="#222" font-weight="normal" font-family='"Liberation Sans", sans-serif' stroke="#222" stroke-width="0.22" >33</text>
<text x="390.185" y="691.1700000000001" font-size="10" text-anchor="middle" fill="#222" font-weight="normal" font-family='"Liberation Sans", sans-serif' stroke="#222" stroke-width="0.22" >50</text>
<text x="411.125" y="691.1700000000001" font-size="10" text-anchor="middle" fill="#222" font-weight="normal" font-family='"Liberation Sans", sans-serif' stroke="#222" stroke-width="0.22" >67</text>
<text x="432.06500000000005" y="691.1700000000001" font-size="10" text-anchor="middle" fill="#222" font-weight="normal" font-family='"Liberation Sans", sans-serif' stroke="#222" stroke-width="0.22" >83</text>
<text x="326.6" y="562.3050000000001" font-size="10" text-anchor="end" fill="#222" font-weight="normal" font-family='"Liberation Sans", sans-serif' stroke="#222" stroke-width="0.22" >67</text>
<text x="326.6" y="587.245" font-size="10" text-anchor="end" fill="#222" font-weight="normal" font-family='"Liberation Sans", sans-serif' stroke="#222" stroke-width="0.22" >33</text>
<text x="326.6" y="612.1850000000001" font-size="10" text-anchor="end" fill="#222" font-weight="normal" font-family='"Liberation Sans", sans-serif' stroke="#222" stroke-width="0.22" >0</text>
<text x="326.6" y="637.125" font-size="10" text-anchor="end" fill="#222" font-weight="normal" font-family='"Liberation Sans", sans-serif' stroke="#222" stroke-width="0.22" >-33</text>
<text x="326.6" y="662.065" font-size="10" text-anchor="end" fill="#222" font-weight="normal" font-family='"Liberation Sans", sans-serif' stroke="#222" stroke-width="0.22" >-67</text>
<text x="386.185" y="703.1700000000001" font-size="10" text-anchor="middle" fill="#222" font-weight="normal" font-family='"Liberation Sans", sans-serif' stroke="#222" stroke-width="0.22" >%GC</text>
<text x="312.1" y="608.585" font-size="10" text-anchor="middle" fill="#222" font-weight="normal" font-family='"Liberation Sans", sans-serif' transform="rotate(-90 312.1 608.585)" stroke="#222" stroke-width="0.22" >GC% skew</text>
<text x="398.5" y="531" font-size="10" text-anchor="middle" fill="#222" font-weight="normal" font-family='"Liberation Sans", sans-serif' stroke="#222" stroke-width="0.22" >Whole genome (+) strand m<tspan font-size="6.5" dy="-3.5">5</tspan><tspan dy="3.5">C sites</tspan></text>
<rect x="461" y="539.0" width="17.2" height="139.17000000000002" fill="url(#cbar)" stroke="none" stroke-width="1" />
<line x1="476.2" y1="569.835" x2="478.2" y2="569.835" stroke="#444" stroke-width="0.6" />
<text x="487" y="574.835" font-size="10" text-anchor="middle" fill="#222" font-weight="normal" font-family='"Liberation Sans", sans-serif' stroke="#222" stroke-width="0.22" >5</text>
<line x1="476.2" y1="608.585" x2="478.2" y2="608.585" stroke="#444" stroke-width="0.6" />
<text x="487" y="613.585" font-size="10" text-anchor="middle" fill="#222" font-weight="normal" font-family='"Liberation Sans", sans-serif' stroke="#222" stroke-width="0.22" >0</text>
<line x1="476.2" y1="647.335" x2="478.2" y2="647.335" stroke="#444" stroke-width="0.6" />
<text x="487" y="652.335" font-size="10" text-anchor="middle" fill="#222" font-weight="normal" font-family='"Liberation Sans", sans-serif' stroke="#222" stroke-width="0.22" >-5</text>
<text x="504.2" y="611.585" font-size="10" text-anchor="middle" fill="#222" font-weight="normal" font-family='"Liberation Sans", sans-serif' transform="rotate(-90 504.2 611.585)" stroke="#222" stroke-width="0.22" >Relative abundance</text>
<text x="363.5" y="569" font-size="10.5" text-anchor="middle" fill="#ff2020" font-weight="normal" font-family='"Liberation Sans", sans-serif' stroke="#ff2020" stroke-width="0.22" >G bias</text>
<rect x="573.44" y="540.75" width="31.97" height="12.95" fill="#0606f6" stroke="none" stroke-width="1" />
<rect x="604.91" y="540.75" width="10.99" height="12.95" fill="#c8c8f8" stroke="none" stroke-width="1" />
<rect x="615.4" y="540.75" width="10.99" height="12.95" fill="#e2e2fa" stroke="none" stroke-width="1" />
<rect x="636.38" y="540.75" width="10.99" height="12.95" fill="#0606f6" stroke="none" stroke-width="1" />
<rect x="646.87" y="540.75" width="10.99" height="12.95" fill="#f87474" stroke="none" stroke-width="1" />
<rect x="657.36" y="540.75" width="21.48" height="12.95" fill="#0606f6" stroke="none" stroke-width="1" />
<rect x="636.38" y="553.2" width="10.99" height="12.95" fill="#f8b2b2" stroke="none" stroke-width="1" />
<rect x="646.87" y="553.2" width="10.99" height="12.95" fill="#f8cccc" stroke="none" stroke-width="1" />
<rect x="657.36" y="553.2" width="10.99" height="12.95" fill="#f46262" stroke="none" stroke-width="1" />
<rect x="667.85" y="553.2" width="10.99" height="12.95" fill="#0606f6" stroke="none" stroke-width="1" />
<rect x="604.91" y="565.65" width="10.99" height="12.95" fill="#0606f6" stroke="none" stroke-width="1" />
<rect x="646.87" y="565.65" width="10.99" height="12.95" fill="#f8a8a8" stroke="none" stroke-width="1" />
<rect x="657.36" y="565.65" width="10.99" height="12.95" fill="#0606f6" stroke="none" stroke-width="1" />
<rect x="667.85" y="565.65" width="10.99" height="12.95" fill="#ff0505" stroke="none" stroke-width="1" />
<rect x="594.42" y="578.1" width="10.99" height="12.95" fill="#b2b2f2" stroke="none" stroke-width="1" />
<rect x="625.89" y="578.1" width="10.99" height="12.95" fill="#fbe2e2" stroke="none" stroke-width="1" />
<rect x="636.38" y="578.1" width="10.99" height="12.95" fill="#f8cccc" stroke="none" stroke-width="1" />
<rect x="657.36" y="578.1" width="10.99" height="12.95" fill="#f8a2a2" stroke="none" stroke-width="1" />
<rect x="667.85" y="578.1" width="10.99" height="12.95" fill="#0606f6" stroke="none" stroke-width="1" />
<rect x="615.4" y="590.55" width="10.99" height="12.95" fill="#ececfc" stroke="none" stroke-width="1" />
<rect x="636.38" y="590.55" width="10.99" height="12.95" fill="#fbe8e8" stroke="none" stroke-width="1" />
<rect x="646.87" y="590.55" width="10.99" height="12.95" fill="#f8caca" stroke="none" stroke-width="1" />
<rect x="657.36" y="590.55" width="10.99" height="12.95" fill="#f85252" stroke="none" stroke-width="1" />
<rect x="667.85" y="590.55" width="10.99" height="12.95" fill="#ff3434" stroke="none" stroke-width="1" />
<rect x="583.93" y="603.0" width="10.99" height="12.95" fill="#0606f6" stroke="none" stroke-width="1" />
<rect x="604.91" y="603.0" width="10.99" height="12.95" fill="#d8d8f8" stroke="none" stroke-width="1" />
<rect x="625.89" y="603.0" width="10.99" height="12.95" fill="#fdf2f2" stroke="none" stroke-width="1" />
<rect x="646.87" y="603.0" width="10.99" height="12.95" fill="#f8a2a2" stroke="none" stroke-width="1" />
<rect x="667.85" y="603.0" width="10.99" height="12.95" fill="#ff1010" stroke="none" stroke-width="1" />
<rect x="636.38" y="615.45" width="10.99" height="12.95" fill="#f8caca" stroke="none" stroke-width="1" />
<rect x="646.87" y="615.45" width="10.99" height="12.95" fill="#f8a2a2" stroke="none" stroke-width="1" />
<rect x="657.36" y="615.45" width="21.48" height="12.95" fill="#ff4444" stroke="none" stroke-width="1" />
<rect x="594.42" y="627.9" width="10.99" height="12.95" fill="#a2a2f2" stroke="none" stroke-width="1" />
<rect x="625.89" y="627.9" width="10.99" height="12.95" fill="#fbe2e2" stroke="none" stroke-width="1" />
<rect x="636.38" y="627.9" width="10.99" height="12.95" fill="#fbe8e8" stroke="none" stroke-width="1" />
<rect x="657.36" y="627.9" width="21.48" height="12.95" fill="#ff3a3a" stroke="none" stroke-width="1" />
<rect x="615.4" y="640.35" width="10.99" height="12.95" fill="#aaaaf2" stroke="none" stroke-width="1" />
<rect x="625.89" y="640.35" width="10.99" height="12.95" fill="#fae2e2" stroke="none" stroke-width="1" />
<rect x="646.87" y="640.35" width="10.99" height="12.95" fill="#f88282" stroke="none" stroke-width="1" />
<rect x="657.36" y="640.35" width="10.99" height="12.95" fill="#ff3434" stroke="none" stroke-width="1" />
<rect x="667.85" y="640.35" width="10.99" height="12.95" fill="#ff0505" stroke="none" stroke-width="1" />
<rect x="636.38" y="652.8" width="10.99" height="12.95" fill="#f8aaaa" stroke="none" stroke-width="1" />
<rect x="646.87" y="652.8" width="10.99" height="12.95" fill="#f89a9a" stroke="none" stroke-width="1" />
<rect x="657.36" y="652.8" width="10.99" height="12.95" fill="#f84444" stroke="none" stroke-width="1" />
<rect x="667.85" y="652.8" width="10.99" height="12.95" fill="#0606f6" stroke="none" stroke-width="1" />
<rect x="573.44" y="665.25" width="105.4" height="12.95" fill="#0606f6" stroke="none" stroke-width="1" />
<line x1="563.2" y1="609.475" x2="678.59" y2="609.475" stroke="#222" stroke-width="0.9" />
<rect x="562.6" y="540.2" width="116.59" height="138.54999999999998" fill="none" stroke="#000" stroke-width="2.2" />
<line x1="578.9350000000001" y1="537.5" x2="578.9350000000001" y2="539.5" stroke="#000" stroke-width="1.6" />
<line x1="578.9350000000001" y1="679.45" x2="578.9350000000001" y2="681.45" stroke="#000" stroke-width="1.6" />
<line x1="559.4000000000001" y1="559.675" x2="561.7" y2="559.675" stroke="#000" stroke-width="1.6" />
<line x1="680.09" y1="559.675" x2="682.39" y2="559.675" stroke="#000" stroke-width="1.6" />
<line x1="599.9150000000001" y1="537.5" x2="599.9150000000001" y2="539.5" stroke="#000" stroke-width="1.6" />
<line x1="599.9150000000001" y1="679.45" x2="599.9150000000001" y2="681.45" stroke="#000" stroke-width="1.6" />
<line x1="559.4000000000001" y1="584.575" x2="561.7" y2="584.575" stroke="#000" stroke-width="1.6" />
<line x1="680.09" y1="584.575" x2="682.39" y2="584.575" stroke="#000" stroke-width="1.6" />
<line x1="620.8950000000001" y1="537.5" x2="620.8950000000001" y2="539.5" stroke="#000" stroke-width="1.6" />
<line x1="620.8950000000001" y1="679.45" x2="620.8950000000001" y2="681.45" stroke="#000" stroke-width="1.6" />
<line x1="559.4000000000001" y1="609.475" x2="561.7" y2="609.475" stroke="#000" stroke-width="1.6" />
<line x1="680.09" y1="609.475" x2="682.39" y2="609.475" stroke="#000" stroke-width="1.6" />
<line x1="641.875" y1="537.5" x2="641.875" y2="539.5" stroke="#000" stroke-width="1.6" />
<line x1="641.875" y1="679.45" x2="641.875" y2="681.45" stroke="#000" stroke-width="1.6" />
<line x1="559.4000000000001" y1="634.375" x2="561.7" y2="634.375" stroke="#000" stroke-width="1.6" />
<line x1="680.09" y1="634.375" x2="682.39" y2="634.375" stroke="#000" stroke-width="1.6" />
<line x1="662.855" y1="537.5" x2="662.855" y2="539.5" stroke="#000" stroke-width="1.6" />
<line x1="662.855" y1="679.45" x2="662.855" y2="681.45" stroke="#000" stroke-width="1.6" />
<line x1="559.4000000000001" y1="659.275" x2="561.7" y2="659.275" stroke="#000" stroke-width="1.6" />
<line x1="680.09" y1="659.275" x2="682.39" y2="659.275" stroke="#000" stroke-width="1.6" />
<text x="578.9350000000001" y="691.95" font-size="10" text-anchor="middle" fill="#222" font-weight="normal" font-family='"Liberation Sans", sans-serif' stroke="#222" stroke-width="0.22" >17</text>
<text x="599.9150000000001" y="691.95" font-size="10" text-anchor="middle" fill="#222" font-weight="normal" font-family='"Liberation Sans", sans-serif' stroke="#222" stroke-width="0.22" >33</text>
<text x="620.8950000000001" y="691.95" font-size="10" text-anchor="middle" fill="#222" font-weight="normal" font-family='"Liberation Sans", sans-serif' stroke="#222" stroke-width="0.22" >50</text>
<text x="641.875" y="691.95" font-size="10" text-anchor="middle" fill="#222" font-weight="normal" font-family='"Liberation Sans", sans-serif' stroke="#222" stroke-width="0.22" >67</text>
<text x="662.855" y="691.95" font-size="10" text-anchor="middle" fill="#222" font-weight="normal" font-family='"Liberation Sans", sans-serif' stroke="#222" stroke-width="0.22" >83</text>
<text x="557.2" y="563.275" font-size="10" text-anchor="end" fill="#222" font-weight="normal" font-family='"Liberation Sans", sans-serif' stroke="#222" stroke-width="0.22" >67</text>
<text x="557.2" y="588.1750000000001" font-size="10" text-anchor="end" fill="#222" font-weight="normal" font-family='"Liberation Sans", sans-serif' stroke="#222" stroke-width="0.22" >33</text>
<text x="557.2" y="613.075" font-size="10" text-anchor="end" fill="#222" font-weight="normal" font-family='"Liberation Sans", sans-serif' stroke="#222" stroke-width="0.22" >0</text>
<text x="557.2" y="637.975" font-size="10" text-anchor="end" fill="#222" font-weight="normal" font-family='"Liberation Sans", sans-serif' stroke="#222" stroke-width="0.22" >-33</text>
<text x="557.2" y="662.875" font-size="10" text-anchor="end" fill="#222" font-weight="normal" font-family='"Liberation Sans", sans-serif' stroke="#222" stroke-width="0.22" >-67</text>
<text x="616.8950000000001" y="703.95" font-size="10" text-anchor="middle" fill="#222" font-weight="normal" font-family='"Liberation Sans", sans-serif' stroke="#222" stroke-width="0.22" >%GC</text>
<text x="542.7" y="609.475" font-size="10" text-anchor="middle" fill="#222" font-weight="normal" font-family='"Liberation Sans", sans-serif' transform="rotate(-90 542.7 609.475)" stroke="#222" stroke-width="0.22" >GC% skew</text>
<text x="628.5" y="531" font-size="10" text-anchor="middle" fill="#222" font-weight="normal" font-family='"Liberation Sans", sans-serif' stroke="#222" stroke-width="0.22" >Whole genome (-) strand m<tspan font-size="6.5" dy="-3.5">5</tspan><tspan dy="3.5">C sites</tspan></text>
<rect x="692" y="540.0" width="17.2" height="138.95" fill="url(#cbar)" stroke="none" stroke-width="1" />
<line x1="707.2" y1="570.725" x2="709.2" y2="570.725" stroke="#444" stroke-width="0.6" />
<text x="718" y="575.725" font-size="10" text-anchor="middle" fill="#222" font-weight="normal" font-family='"Liberation Sans", sans-serif' stroke="#222" stroke-width="0.22" >5</text>
<line x1="707.2" y1="609.475" x2="709.2" y2="609.475" stroke="#444" stroke-width="0.6" />
<text x="718" y="614.475" font-size="10" text-anchor="middle" fill="#222" font-weight="normal" font-family='"Liberation Sans", sans-serif' stroke="#222" stroke-width="0.22" >0</text>
<line x1="707.2" y1="648.225" x2="709.2" y2="648.225" stroke="#444" stroke-width="0.6" />
<text x="718" y="653.225" font-size="10" text-anchor="middle" fill="#222" font-weight="normal" font-family='"Liberation Sans", sans-serif' stroke="#222" stroke-width="0.22" >-5</text>
<text x="737.7" y="612.475" font-size="10" text-anchor="middle" fill="#222" font-weight="normal" font-family='"Liberation Sans", sans-serif' transform="rotate(-90 737.7 612.475)" stroke="#222" stroke-width="0.22" >Relative abundance</text>
<text x="599" y="649" font-size="10.5" text-anchor="middle" fill="#ff2020" font-weight="normal" font-family='"Liberation Sans", sans-serif' stroke="#ff2020" stroke-width="0.22" >C bias</text>
<text x="276.3" y="727.3" font-size="15" text-anchor="start" fill="#000" font-weight="bold" font-family='"Liberation Sans", sans-serif' stroke="#000" stroke-width="0.22" >g</text>
<line x1="339.2" y1="759.6" x2="339.2" y2="852.0" stroke="#111" stroke-width="1.5" />
<line x1="339.2" y1="724.5" x2="339.2" y2="741.2" stroke="#111" stroke-width="1.5" />
<line x1="332.5" y1="852.0" x2="550.9" y2="852.0" stroke="#111" stroke-width="1.5" />
<line x1="332.5" y1="821.2" x2="339.2" y2="821.2" stroke="#111" stroke-width="1.5" />
<line x1="332.5" y1="790.4" x2="339.2" y2="790.4" stroke="#111" stroke-width="1.5" />
<line x1="332.5" y1="724.5" x2="339.2" y2="724.5" stroke="#111" stroke-width="1.5" />
<line x1="332.5" y1="741.2" x2="345.2" y2="741.2" stroke="#111" stroke-width="1.5" />
<line x1="332.5" y1="759.6" x2="345.2" y2="759.6" stroke="#111" stroke-width="1.5" />
<text x="329.2" y="855.4" font-size="9.6" text-anchor="end" fill="#222" font-weight="normal" font-family='"Liberation Sans", sans-serif' stroke="#222" stroke-width="0.22" >0.0</text>
<text x="329.2" y="824.6" font-size="9.6" text-anchor="end" fill="#222" font-weight="normal" font-family='"Liberation Sans", sans-serif' stroke="#222" stroke-width="0.22" >0.5</text>
<text x="329.2" y="793.8" font-size="9.6" text-anchor="end" fill="#222" font-weight="normal" font-family='"Liberation Sans", sans-serif' stroke="#222" stroke-width="0.22" >1.0</text>
<text x="329.2" y="763.0" font-size="9.6" text-anchor="end" fill="#222" font-weight="normal" font-family='"Liberation Sans", sans-serif' stroke="#222" stroke-width="0.22" >1.5</text>
<text x="329.2" y="744.6" font-size="9.6" text-anchor="end" fill="#222" font-weight="normal" font-family='"Liberation Sans", sans-serif' stroke="#222" stroke-width="0.22" >2.0</text>
<text x="329.2" y="727.9" font-size="9.6" text-anchor="end" fill="#222" font-weight="normal" font-family='"Liberation Sans", sans-serif' stroke="#222" stroke-width="0.22" >2.5</text>
<text x="304" y="795.8" font-size="9.3" text-anchor="middle" fill="#222" font-weight="normal" font-family='"Liberation Sans", sans-serif' transform="rotate(-90 304 795.8)" stroke="#222" stroke-width="0.22" >DNA:RNA hybrids</text>
<text x="314.5" y="795.8" font-size="9.3" text-anchor="middle" fill="#222" font-weight="normal" font-family='"Liberation Sans", sans-serif' transform="rotate(-90 314.5 795.8)" stroke="#222" stroke-width="0.22" >(% of input)</text>
<line x1="359.2" y1="852.0" x2="359.2" y2="858.0" stroke="#111" stroke-width="1.5" />
<path d="M347.79999999999995,852.0 L347.79999999999995,836.1984 L356.3,836.1984 L356.3,852.0" stroke="#5050f5" stroke-width="2.4" fill="none" />
<circle cx="349.05" cy="834.75" r="2.2" fill="#5050f5" />
<circle cx="352.05" cy="834.14" r="2.2" fill="#5050f5" />
<circle cx="355.05" cy="834.75" r="2.2" fill="#5050f5" />
<path d="M362.5,852.0 L362.5,839.648 L371.6,839.648 L371.6,852.0" stroke="#a8a8a8" stroke-width="2.4" fill="none" />
<rect x="362.05" y="836.45" width="4" height="4" fill="#a8a8a8" stroke="none" stroke-width="1" />
<rect x="365.05" y="836.45" width="4" height="4" fill="#a8a8a8" stroke="none" stroke-width="1" />
<rect x="368.05" y="836.45" width="4" height="4" fill="#a8a8a8" stroke="none" stroke-width="1" />
<line x1="401.4" y1="852.0" x2="401.4" y2="858.0" stroke="#111" stroke-width="1.5" />
<path d="M389.99999999999994,852.0 L389.99999999999994,815.624 L398.5,815.624 L398.5,852.0" stroke="#5050f5" stroke-width="2.4" fill="none" />
<line x1="394.25" y1="829.824" x2="394.25" y2="798.408" stroke="#5050f5" stroke-width="1.3" />
<line x1="391.25" y1="798.408" x2="397.25" y2="798.408" stroke="#5050f5" stroke-width="1.3" />
<line x1="391.25" y1="829.824" x2="397.25" y2="829.824" stroke="#5050f5" stroke-width="1.3" />
<circle cx="393.25" cy="796.56" r="2.2" fill="#5050f5" />
<circle cx="397.25" cy="820.58" r="2.2" fill="#5050f5" />
<circle cx="393.25" cy="826.13" r="2.2" fill="#5050f5" />
<path d="M404.7,852.0 L404.7,843.344 L413.8,843.344 L413.8,852.0" stroke="#a8a8a8" stroke-width="2.4" fill="none" />
<rect x="404.25" y="841.38" width="4" height="4" fill="#a8a8a8" stroke="none" stroke-width="1" />
<rect x="407.25" y="837.68" width="4" height="4" fill="#a8a8a8" stroke="none" stroke-width="1" />
<rect x="410.25" y="838.91" width="4" height="4" fill="#a8a8a8" stroke="none" stroke-width="1" />
<line x1="443.6" y1="852.0" x2="443.6" y2="858.0" stroke="#111" stroke-width="1.5" />
<path d="M432.2,852.0 L432.2,826.404 L440.70000000000005,826.404 L440.70000000000005,852.0" stroke="#5050f5" stroke-width="2.4" fill="none" />
<line x1="436.45000000000005" y1="835.368" x2="436.45000000000005" y2="813.192" stroke="#5050f5" stroke-width="1.3" />
<line x1="433.45000000000005" y1="813.192" x2="439.45000000000005" y2="813.192" stroke="#5050f5" stroke-width="1.3" />
<line x1="433.45000000000005" y1="835.368" x2="439.45000000000005" y2="835.368" stroke="#5050f5" stroke-width="1.3" />
<circle cx="436.45" cy="812.58" r="2.2" fill="#5050f5" />
<circle cx="433.45" cy="831.06" r="2.2" fill="#5050f5" />
<circle cx="439.45" cy="829.82" r="2.2" fill="#5050f5" />
<path d="M446.90000000000003,852.0 L446.90000000000003,842.7280000000001 L456.00000000000006,842.7280000000001 L456.00000000000006,852.0" stroke="#a8a8a8" stroke-width="2.4" fill="none" />
<rect x="446.45" y="840.14" width="4" height="4" fill="#a8a8a8" stroke="none" stroke-width="1" />
<rect x="449.45" y="839.53" width="4" height="4" fill="#a8a8a8" stroke="none" stroke-width="1" />
<rect x="452.45" y="839.53" width="4" height="4" fill="#a8a8a8" stroke="none" stroke-width="1" />
<line x1="485.8" y1="852.0" x2="485.8" y2="858.0" stroke="#111" stroke-width="1.5" />
<path d="M474.4,852.0 L474.4,759.6 M482.90000000000003,852.0 L482.90000000000003,759.6" stroke="#5050f5" stroke-width="2.4" fill="none" />
<path d="M474.4,741.2 L474.4,735.72 L482.90000000000003,735.72 L482.90000000000003,741.2" stroke="#5050f5" stroke-width="2.4" fill="none" />
<circle cx="475.65" cy="734.52" r="2.2" fill="#5050f5" />
<circle cx="478.65" cy="732.52" r="2.2" fill="#5050f5" />
<circle cx="481.65" cy="733.18" r="2.2" fill="#5050f5" />
<path d="M489.1,852.0 L489.1,837.8000000000001 L498.20000000000005,837.8000000000001 L498.20000000000005,852.0" stroke="#a8a8a8" stroke-width="2.4" fill="none" />
<rect x="488.65" y="836.45" width="4" height="4" fill="#a8a8a8" stroke="none" stroke-width="1" />
<rect x="491.65" y="833.98" width="4" height="4" fill="#a8a8a8" stroke="none" stroke-width="1" />
<rect x="494.65" y="833.98" width="4" height="4" fill="#a8a8a8" stroke="none" stroke-width="1" />
<line x1="528.0" y1="852.0" x2="528.0" y2="858.0" stroke="#111" stroke-width="1.5" />
<path d="M516.6,852.0 L516.6,774.3520000000001 L525.0999999999999,774.3520000000001 L525.0999999999999,852.0" stroke="#5050f5" stroke-width="2.4" fill="none" />
<circle cx="517.85" cy="773.77" r="2.2" fill="#5050f5" />
<circle cx="520.85" cy="771.92" r="2.2" fill="#5050f5" />
<circle cx="523.85" cy="773.15" r="2.2" fill="#5050f5" />
<path d="M531.3000000000001,852.0 L531.3000000000001,841.4960000000001 L540.4,841.4960000000001 L540.4,852.0" stroke="#a8a8a8" stroke-width="2.4" fill="none" />
<rect x="530.85" y="839.53" width="4" height="4" fill="#a8a8a8" stroke="none" stroke-width="1" />
<rect x="533.85" y="837.06" width="4" height="4" fill="#a8a8a8" stroke="none" stroke-width="1" />
<rect x="536.85" y="837.68" width="4" height="4" fill="#a8a8a8" stroke="none" stroke-width="1" />
<line x1="332.5" y1="852.0" x2="550.9" y2="852.0" stroke="#111" stroke-width="1.5" />
<text x="359.2" y="870" font-size="9.6" text-anchor="middle" fill="#222" font-weight="normal" font-family='"Liberation Sans", sans-serif' stroke="#222" stroke-width="0.22" >Ctrl</text>
<text x="401.4" y="870" font-size="9.6" text-anchor="middle" fill="#222" font-weight="normal" font-family='"Liberation Sans", sans-serif' stroke="#222" stroke-width="0.22" >m5C-R</text>
<text x="443.6" y="870" font-size="9.6" text-anchor="middle" fill="#222" font-weight="normal" font-family='"Liberation Sans", sans-serif' stroke="#222" stroke-width="0.22" >m5C1</text>
<text x="485.8" y="870" font-size="9.6" text-anchor="middle" fill="#222" font-weight="normal" font-family='"Liberation Sans", sans-serif' stroke="#222" stroke-width="0.22" >m5C2</text>
<text x="528.0" y="870" font-size="9.6" text-anchor="middle" fill="#222" font-weight="normal" font-family='"Liberation Sans", sans-serif' stroke="#222" stroke-width="0.22" >m5C3</text>
<circle cx="358" cy="725.8" r="2.2" fill="#5050f5" />
<rect x="355.8" y="740.3" width="5" height="5" fill="#a8a8a8" stroke="none" stroke-width="1" />
<text x="385" y="729.3" font-size="9.3" text-anchor="start" fill="#222" font-weight="normal" font-family='"Liberation Sans", sans-serif' stroke="#222" stroke-width="0.22" >Mock</text>
<text x="385" y="745" font-size="9.3" text-anchor="start" fill="#222" font-weight="normal" font-family='"Liberation Sans", sans-serif' stroke="#222" stroke-width="0.22" >RNaseH</text>
<line x1="606.4" y1="762.8" x2="606.4" y2="855.4" stroke="#111" stroke-width="1.5" />
<line x1="606.4" y1="728.0" x2="606.4" y2="744.2" stroke="#111" stroke-width="1.5" />
<line x1="599.6999999999999" y1="855.4" x2="787.5" y2="855.4" stroke="#111" stroke-width="1.5" />
<line x1="599.6999999999999" y1="824.5333333333333" x2="606.4" y2="824.5333333333333" stroke="#111" stroke-width="1.5" />
<line x1="599.6999999999999" y1="793.6666666666666" x2="606.4" y2="793.6666666666666" stroke="#111" stroke-width="1.5" />
<line x1="599.6999999999999" y1="728.0" x2="606.4" y2="728.0" stroke="#111" stroke-width="1.5" />
<line x1="599.6999999999999" y1="744.2" x2="612.4" y2="744.2" stroke="#111" stroke-width="1.5" />
<line x1="599.6999999999999" y1="762.8" x2="612.4" y2="762.8" stroke="#111" stroke-width="1.5" />
<text x="596.5" y="858.8" font-size="9.6" text-anchor="end" fill="#222" font-weight="normal" font-family='"Liberation Sans", sans-serif' stroke="#222" stroke-width="0.22" >0.0</text>
<text x="596.5" y="827.9333333333333" font-size="9.6" text-anchor="end" fill="#222" font-weight="normal" font-family='"Liberation Sans", sans-serif' stroke="#222" stroke-width="0.22" >0.5</text>
<text x="596.5" y="797.0666666666666" font-size="9.6" text-anchor="end" fill="#222" font-weight="normal" font-family='"Liberation Sans", sans-serif' stroke="#222" stroke-width="0.22" >1.0</text>
<text x="596.5" y="766.1999999999999" font-size="9.6" text-anchor="end" fill="#222" font-weight="normal" font-family='"Liberation Sans", sans-serif' stroke="#222" stroke-width="0.22" >1.5</text>
<text x="596.5" y="747.6" font-size="9.6" text-anchor="end" fill="#222" font-weight="normal" font-family='"Liberation Sans", sans-serif' stroke="#222" stroke-width="0.22" >2.0</text>
<text x="596.5" y="731.4" font-size="9.6" text-anchor="end" fill="#222" font-weight="normal" font-family='"Liberation Sans", sans-serif' stroke="#222" stroke-width="0.22" >2.5</text>
<text x="570.5" y="799.0999999999999" font-size="9.3" text-anchor="middle" fill="#222" font-weight="normal" font-family='"Liberation Sans", sans-serif' transform="rotate(-90 570.5 799.0999999999999)" stroke="#222" stroke-width="0.22" >DNA:RNA hybrids</text>
<text x="581.0" y="799.0999999999999" font-size="9.3" text-anchor="middle" fill="#222" font-weight="normal" font-family='"Liberation Sans", sans-serif' transform="rotate(-90 581.0 799.0999999999999)" stroke="#222" stroke-width="0.22" >(% of input)</text>
<line x1="628.2" y1="855.4" x2="628.2" y2="861.4" stroke="#111" stroke-width="1.5" />
<path d="M616.8000000000001,855.4 L616.8000000000001,823.264 L625.3,823.264 L625.3,855.4" stroke="#5050f5" stroke-width="2.4" fill="none" />
<line x1="621.05" y1="831.9413333333333" x2="621.05" y2="813.4213333333333" stroke="#5050f5" stroke-width="1.3" />
<line x1="618.05" y1="813.4213333333333" x2="624.05" y2="813.4213333333333" stroke="#5050f5" stroke-width="1.3" />
<line x1="618.05" y1="831.9413333333333" x2="624.05" y2="831.9413333333333" stroke="#5050f5" stroke-width="1.3" />
<circle cx="621.05" cy="814.04" r="2.2" fill="#5050f5" />
<circle cx="620.05" cy="822.06" r="2.2" fill="#5050f5" />
<circle cx="620.05" cy="831.32" r="2.2" fill="#5050f5" />
<path d="M631.5000000000001,855.4 L631.5000000000001,844.2533333333333 L640.6,844.2533333333333 L640.6,855.4" stroke="#a8a8a8" stroke-width="2.4" fill="none" />
<line x1="636.0500000000001" y1="849.2266666666667" x2="636.0500000000001" y2="836.2626666666666" stroke="#a8a8a8" stroke-width="1.3" />
<line x1="633.0500000000001" y1="836.2626666666666" x2="639.0500000000001" y2="836.2626666666666" stroke="#a8a8a8" stroke-width="1.3" />
<line x1="633.0500000000001" y1="849.2266666666667" x2="639.0500000000001" y2="849.2266666666667" stroke="#a8a8a8" stroke-width="1.3" />
<rect x="637.05" y="835.5" width="4" height="4" fill="#a8a8a8" stroke="none" stroke-width="1" />
<rect x="633.05" y="845.99" width="4" height="4" fill="#a8a8a8" stroke="none" stroke-width="1" />
<rect x="634.05" y="841.05" width="4" height="4" fill="#a8a8a8" stroke="none" stroke-width="1" />
<line x1="673.0" y1="855.4" x2="673.0" y2="861.4" stroke="#111" stroke-width="1.5" />
<path d="M661.6,855.4 L661.6,762.8 M670.0999999999999,855.4 L670.0999999999999,762.8" stroke="#5050f5" stroke-width="2.4" fill="none" />
<path d="M661.6,744.2 L661.6,738.9200000000001 L670.0999999999999,738.9200000000001 L670.0999999999999,744.2" stroke="#5050f5" stroke-width="2.4" fill="none" />
<circle cx="662.85" cy="737.72" r="2.2" fill="#5050f5" />
<circle cx="665.85" cy="735.78" r="2.2" fill="#5050f5" />
<circle cx="668.85" cy="736.42" r="2.2" fill="#5050f5" />
<path d="M676.3000000000001,855.4 L676.3000000000001,841.1666666666667 L685.4,841.1666666666667 L685.4,855.4" stroke="#a8a8a8" stroke-width="2.4" fill="none" />
<rect x="675.85" y="838.58" width="4" height="4" fill="#a8a8a8" stroke="none" stroke-width="1" />
<rect x="678.85" y="837.97" width="4" height="4" fill="#a8a8a8" stroke="none" stroke-width="1" />
<rect x="681.85" y="837.97" width="4" height="4" fill="#a8a8a8" stroke="none" stroke-width="1" />
<line x1="718.5" y1="855.4" x2="718.5" y2="861.4" stroke="#111" stroke-width="1.5" />
<path d="M707.1,855.4 L707.1,810.9173333333333 L715.5999999999999,810.9173333333333 L715.5999999999999,855.4" stroke="#5050f5" stroke-width="2.4" fill="none" />
<line x1="711.3499999999999" y1="825.1506666666667" x2="711.3499999999999" y2="789.9626666666666" stroke="#5050f5" stroke-width="1.3" />
<line x1="708.3499999999999" y1="789.9626666666666" x2="714.3499999999999" y2="789.9626666666666" stroke="#5050f5" stroke-width="1.3" />
<line x1="708.3499999999999" y1="825.1506666666667" x2="714.3499999999999" y2="825.1506666666667" stroke="#5050f5" stroke-width="1.3" />
<circle cx="711.35" cy="791.2" r="2.2" fill="#5050f5" />
<circle cx="711.35" cy="825.15" r="2.2" fill="#5050f5" />
<circle cx="711.35" cy="812.19" r="2.2" fill="#5050f5" />
<path d="M721.8000000000001,855.4 L721.8000000000001,836.2280000000001 L730.9,836.2280000000001 L730.9,855.4" stroke="#a8a8a8" stroke-width="2.4" fill="none" />
<rect x="724.35" y="830.56" width="4" height="4" fill="#a8a8a8" stroke="none" stroke-width="1" />
<rect x="724.35" y="834.88" width="4" height="4" fill="#a8a8a8" stroke="none" stroke-width="1" />
<rect x="727.35" y="833.65" width="4" height="4" fill="#a8a8a8" stroke="none" stroke-width="1" />
<line x1="763.5" y1="855.4" x2="763.5" y2="861.4" stroke="#111" stroke-width="1.5" />
<path d="M752.1,855.4 L752.1,778.1986666666667 L760.5999999999999,778.1986666666667 L760.5999999999999,855.4" stroke="#5050f5" stroke-width="2.4" fill="none" />
<circle cx="753.35" cy="777.0" r="2.2" fill="#5050f5" />
<circle cx="756.35" cy="775.15" r="2.2" fill="#5050f5" />
<circle cx="759.35" cy="776.38" r="2.2" fill="#5050f5" />
<path d="M766.8000000000001,855.4 L766.8000000000001,844.2533333333333 L775.9,844.2533333333333 L775.9,855.4" stroke="#a8a8a8" stroke-width="2.4" fill="none" />
<rect x="766.35" y="841.67" width="4" height="4" fill="#a8a8a8" stroke="none" stroke-width="1" />
<rect x="769.35" y="839.82" width="4" height="4" fill="#a8a8a8" stroke="none" stroke-width="1" />
<rect x="772.35" y="841.05" width="4" height="4" fill="#a8a8a8" stroke="none" stroke-width="1" />
<line x1="599.6999999999999" y1="855.4" x2="787.5" y2="855.4" stroke="#111" stroke-width="1.5" />
<text x="628.2" y="875.5" font-size="9.6" text-anchor="middle" fill="#222" font-weight="normal" font-family='"Liberation Sans", sans-serif' stroke="#222" stroke-width="0.22" >-H<tspan font-size="6.5" dy="2.7">2</tspan><tspan dy="-2.7">O</tspan><tspan font-size="6.5" dy="2.7">2</tspan></text>
<text x="673.0" y="875.5" font-size="9.6" text-anchor="middle" fill="#222" font-weight="normal" font-family='"Liberation Sans", sans-serif' stroke="#222" stroke-width="0.22" >+H<tspan font-size="6.5" dy="2.7">2</tspan><tspan dy="-2.7">O</tspan><tspan font-size="6.5" dy="2.7">2</tspan></text>
<text x="718.5" y="875.5" font-size="9.6" text-anchor="middle" fill="#222" font-weight="normal" font-family='"Liberation Sans", sans-serif' stroke="#222" stroke-width="0.22" >-H<tspan font-size="6.5" dy="2.7">2</tspan><tspan dy="-2.7">O</tspan><tspan font-size="6.5" dy="2.7">2</tspan></text>
<text x="763.5" y="875.5" font-size="9.6" text-anchor="middle" fill="#222" font-weight="normal" font-family='"Liberation Sans", sans-serif' stroke="#222" stroke-width="0.22" >+H<tspan font-size="6.5" dy="2.7">2</tspan><tspan dy="-2.7">O</tspan><tspan font-size="6.5" dy="2.7">2</tspan></text>
<line x1="611.7" y1="883.5" x2="685.6" y2="883.5" stroke="#111" stroke-width="1.2" />
<line x1="701.6" y1="883.5" x2="776.6" y2="883.5" stroke="#111" stroke-width="1.2" />
<text x="648" y="897" font-size="9.6" text-anchor="middle" fill="#222" font-weight="normal" font-family='"Liberation Sans", sans-serif' stroke="#222" stroke-width="0.22" >m5C2</text>
<text x="737.2" y="897" font-size="9.6" text-anchor="middle" fill="#222" font-weight="normal" font-family='"Liberation Sans", sans-serif' stroke="#222" stroke-width="0.22" >m5C3</text>
<line x1="625" y1="729.4" x2="664.5" y2="729.4" stroke="#111" stroke-width="1.2" />
<text x="649.4" y="725.6" font-size="9.3" text-anchor="middle" fill="#222" font-weight="normal" font-family='"Liberation Sans", sans-serif' stroke="#222" stroke-width="0.22" >p&lt;0.0001</text>
<line x1="713.2" y1="769.8" x2="755.9" y2="769.8" stroke="#111" stroke-width="1.2" />
<text x="736.5" y="765.3" font-size="9.3" text-anchor="middle" fill="#222" font-weight="normal" font-family='"Liberation Sans", sans-serif' stroke="#222" stroke-width="0.22" >p=0.0091</text>
<circle cx="712.6" cy="731.1" r="2.2" fill="#5050f5" />
<rect x="710" y="743.8" width="5" height="5" fill="#a8a8a8" stroke="none" stroke-width="1" />
<text x="740.3" y="734.9" font-size="9.3" text-anchor="start" fill="#222" font-weight="normal" font-family='"Liberation Sans", sans-serif' stroke="#222" stroke-width="0.22" >Mock</text>
<text x="740.3" y="749.7" font-size="9.3" text-anchor="start" fill="#222" font-weight="normal" font-family='"Liberation Sans", sans-serif' stroke="#222" stroke-width="0.22" >RNaseH</text>
</svg></body></html>
